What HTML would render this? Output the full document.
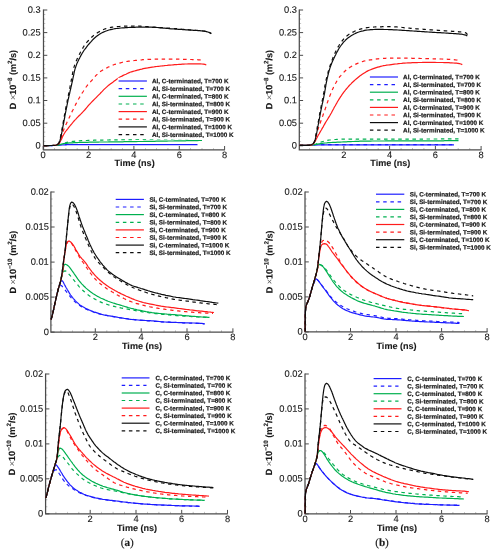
<!DOCTYPE html>
<html><head><meta charset="utf-8"><title>Diffusion coefficients</title>
<style>
html,body{margin:0;padding:0;background:#fff}
body{width:498px;height:550px;overflow:hidden}
svg{display:block}
text{font-family:"Liberation Sans",Arial,Helvetica,sans-serif;fill:#1a1a1a}
.tk{font-size:9.3px;fill:#161616;stroke:#161616;stroke-width:0.1px}
.lb{font-size:9.05px;font-weight:bold;stroke:#1a1a1a;stroke-width:0.12px}
.lg{font-size:6.32px;font-weight:bold;stroke:#1a1a1a;stroke-width:0.22px}
.sup{font-size:6.3px}
.x{font-weight:normal;fill:#555;stroke:none}
.cap{font-family:"Liberation Serif","Times New Roman",serif;font-size:11.2px;text-anchor:middle;fill:#1a1a1a;stroke:#1a1a1a;stroke-width:0.15px}
</style></head><body>
<svg width="498" height="550" viewBox="0 0 498 550">
<defs><filter id="soft" x="0" y="0" width="100%" height="100%"><feGaussianBlur stdDeviation="0.36"/></filter></defs>
<rect width="498" height="550" fill="#fff"/>
<g filter="url(#soft)">
<path d="M43.5 9.6 V149.8 H225.0" fill="none" stroke="#4c4c4c" stroke-width="1.25"/>
<line x1="43.2" y1="149.8" x2="43.2" y2="146.0" stroke="#4c4c4c" stroke-width="1"/>
<text x="43.2" y="158.0" class="tk" text-anchor="middle" transform="rotate(0.03 43.2 158.0)">0</text>
<line x1="88.6" y1="149.8" x2="88.6" y2="146.0" stroke="#4c4c4c" stroke-width="1"/>
<text x="88.6" y="158.0" class="tk" text-anchor="middle" transform="rotate(0.03 88.6 158.0)">2</text>
<line x1="133.9" y1="149.8" x2="133.9" y2="146.0" stroke="#4c4c4c" stroke-width="1"/>
<text x="133.9" y="158.0" class="tk" text-anchor="middle" transform="rotate(0.03 133.9 158.0)">4</text>
<line x1="179.3" y1="149.8" x2="179.3" y2="146.0" stroke="#4c4c4c" stroke-width="1"/>
<text x="179.3" y="158.0" class="tk" text-anchor="middle" transform="rotate(0.03 179.3 158.0)">6</text>
<line x1="224.6" y1="149.8" x2="224.6" y2="146.0" stroke="#4c4c4c" stroke-width="1"/>
<text x="224.6" y="158.0" class="tk" text-anchor="middle" transform="rotate(0.03 224.6 158.0)">8</text>
<line x1="43.5" y1="145.8" x2="47.3" y2="145.8" stroke="#4c4c4c" stroke-width="1"/>
<text x="40.6" y="148.6" class="tk" text-anchor="end" transform="rotate(0.03 40.6 148.6)">0</text>
<line x1="43.5" y1="123.2" x2="47.3" y2="123.2" stroke="#4c4c4c" stroke-width="1"/>
<text x="40.6" y="125.9" class="tk" text-anchor="end" transform="rotate(0.03 40.6 125.9)">0.05</text>
<line x1="43.5" y1="100.5" x2="47.3" y2="100.5" stroke="#4c4c4c" stroke-width="1"/>
<text x="40.6" y="103.3" class="tk" text-anchor="end" transform="rotate(0.03 40.6 103.3)">0.1</text>
<line x1="43.5" y1="77.9" x2="47.3" y2="77.9" stroke="#4c4c4c" stroke-width="1"/>
<text x="40.6" y="80.7" class="tk" text-anchor="end" transform="rotate(0.03 40.6 80.7)">0.15</text>
<line x1="43.5" y1="55.3" x2="47.3" y2="55.3" stroke="#4c4c4c" stroke-width="1"/>
<text x="40.6" y="58.0" class="tk" text-anchor="end" transform="rotate(0.03 40.6 58.0)">0.2</text>
<line x1="43.5" y1="32.6" x2="47.3" y2="32.6" stroke="#4c4c4c" stroke-width="1"/>
<text x="40.6" y="35.4" class="tk" text-anchor="end" transform="rotate(0.03 40.6 35.4)">0.25</text>
<line x1="43.5" y1="10.0" x2="47.3" y2="10.0" stroke="#4c4c4c" stroke-width="1"/>
<text x="40.6" y="12.8" class="tk" text-anchor="end" transform="rotate(0.03 40.6 12.8)">0.3</text>
<line x1="54.5" y1="149.8" x2="54.5" y2="148.0" stroke="#4c4c4c" stroke-width="0.6" opacity="0.6"/>
<line x1="65.9" y1="149.8" x2="65.9" y2="148.0" stroke="#4c4c4c" stroke-width="0.6" opacity="0.6"/>
<line x1="77.2" y1="149.8" x2="77.2" y2="148.0" stroke="#4c4c4c" stroke-width="0.6" opacity="0.6"/>
<line x1="99.9" y1="149.8" x2="99.9" y2="148.0" stroke="#4c4c4c" stroke-width="0.6" opacity="0.6"/>
<line x1="111.2" y1="149.8" x2="111.2" y2="148.0" stroke="#4c4c4c" stroke-width="0.6" opacity="0.6"/>
<line x1="122.6" y1="149.8" x2="122.6" y2="148.0" stroke="#4c4c4c" stroke-width="0.6" opacity="0.6"/>
<line x1="145.3" y1="149.8" x2="145.3" y2="148.0" stroke="#4c4c4c" stroke-width="0.6" opacity="0.6"/>
<line x1="156.6" y1="149.8" x2="156.6" y2="148.0" stroke="#4c4c4c" stroke-width="0.6" opacity="0.6"/>
<line x1="167.9" y1="149.8" x2="167.9" y2="148.0" stroke="#4c4c4c" stroke-width="0.6" opacity="0.6"/>
<line x1="190.6" y1="149.8" x2="190.6" y2="148.0" stroke="#4c4c4c" stroke-width="0.6" opacity="0.6"/>
<line x1="202.0" y1="149.8" x2="202.0" y2="148.0" stroke="#4c4c4c" stroke-width="0.6" opacity="0.6"/>
<line x1="213.3" y1="149.8" x2="213.3" y2="148.0" stroke="#4c4c4c" stroke-width="0.6" opacity="0.6"/>
<line x1="43.5" y1="141.3" x2="45.3" y2="141.3" stroke="#4c4c4c" stroke-width="0.6" opacity="0.6"/>
<line x1="43.5" y1="136.7" x2="45.3" y2="136.7" stroke="#4c4c4c" stroke-width="0.6" opacity="0.6"/>
<line x1="43.5" y1="132.2" x2="45.3" y2="132.2" stroke="#4c4c4c" stroke-width="0.6" opacity="0.6"/>
<line x1="43.5" y1="127.7" x2="45.3" y2="127.7" stroke="#4c4c4c" stroke-width="0.6" opacity="0.6"/>
<line x1="43.5" y1="118.6" x2="45.3" y2="118.6" stroke="#4c4c4c" stroke-width="0.6" opacity="0.6"/>
<line x1="43.5" y1="114.1" x2="45.3" y2="114.1" stroke="#4c4c4c" stroke-width="0.6" opacity="0.6"/>
<line x1="43.5" y1="109.6" x2="45.3" y2="109.6" stroke="#4c4c4c" stroke-width="0.6" opacity="0.6"/>
<line x1="43.5" y1="105.1" x2="45.3" y2="105.1" stroke="#4c4c4c" stroke-width="0.6" opacity="0.6"/>
<line x1="43.5" y1="96.0" x2="45.3" y2="96.0" stroke="#4c4c4c" stroke-width="0.6" opacity="0.6"/>
<line x1="43.5" y1="91.5" x2="45.3" y2="91.5" stroke="#4c4c4c" stroke-width="0.6" opacity="0.6"/>
<line x1="43.5" y1="87.0" x2="45.3" y2="87.0" stroke="#4c4c4c" stroke-width="0.6" opacity="0.6"/>
<line x1="43.5" y1="82.4" x2="45.3" y2="82.4" stroke="#4c4c4c" stroke-width="0.6" opacity="0.6"/>
<line x1="43.5" y1="73.4" x2="45.3" y2="73.4" stroke="#4c4c4c" stroke-width="0.6" opacity="0.6"/>
<line x1="43.5" y1="68.8" x2="45.3" y2="68.8" stroke="#4c4c4c" stroke-width="0.6" opacity="0.6"/>
<line x1="43.5" y1="64.3" x2="45.3" y2="64.3" stroke="#4c4c4c" stroke-width="0.6" opacity="0.6"/>
<line x1="43.5" y1="59.8" x2="45.3" y2="59.8" stroke="#4c4c4c" stroke-width="0.6" opacity="0.6"/>
<line x1="43.5" y1="50.7" x2="45.3" y2="50.7" stroke="#4c4c4c" stroke-width="0.6" opacity="0.6"/>
<line x1="43.5" y1="46.2" x2="45.3" y2="46.2" stroke="#4c4c4c" stroke-width="0.6" opacity="0.6"/>
<line x1="43.5" y1="41.7" x2="45.3" y2="41.7" stroke="#4c4c4c" stroke-width="0.6" opacity="0.6"/>
<line x1="43.5" y1="37.2" x2="45.3" y2="37.2" stroke="#4c4c4c" stroke-width="0.6" opacity="0.6"/>
<line x1="43.5" y1="28.1" x2="45.3" y2="28.1" stroke="#4c4c4c" stroke-width="0.6" opacity="0.6"/>
<line x1="43.5" y1="23.6" x2="45.3" y2="23.6" stroke="#4c4c4c" stroke-width="0.6" opacity="0.6"/>
<line x1="43.5" y1="19.1" x2="45.3" y2="19.1" stroke="#4c4c4c" stroke-width="0.6" opacity="0.6"/>
<line x1="43.5" y1="14.5" x2="45.3" y2="14.5" stroke="#4c4c4c" stroke-width="0.6" opacity="0.6"/>
<text x="114.6" y="166.0" class="lb" transform="rotate(0.03 114.6 166.0)">Time (ns)</text>
<text transform="translate(15.9 79.5) rotate(-90.03)" class="lb" text-anchor="middle">D <tspan class="x">×</tspan>10<tspan class="sup" dy="-4">−8</tspan><tspan dy="4"> (m</tspan><tspan class="sup" dy="-4">2</tspan><tspan dy="4">/s)</tspan></text>
<path d="M43.7 145.6 L45.2 145.6 L46.8 145.6 L48.3 145.6 L49.8 145.6 L51.3 145.6 L52.8 145.5 L54.4 145.5 L55.9 145.5 L57.4 145.4 L58.9 145.1 L60.4 145.0 L61.9 144.9 L63.5 144.8 L65.0 144.8 L66.5 144.7 L68.0 144.7 L69.6 144.7 L71.1 144.7 L72.6 144.7 L74.1 144.7 L75.6 144.7 L77.2 144.7 L78.7 144.7 L80.2 144.7 L81.7 144.7 L83.3 144.7 L84.8 144.7 L86.3 144.7 L87.8 144.7 L89.4 144.7 L90.9 144.7 L92.4 144.7 L93.9 144.7 L95.4 144.7 L97.0 144.7 L98.5 144.7 L100.0 144.7 L101.5 144.7 L103.1 144.7 L104.6 144.7 L106.1 144.7 L107.6 144.7 L109.2 144.7 L110.7 144.7 L112.2 144.7 L113.7 144.7 L115.3 144.7 L116.8 144.7 L118.3 144.7 L119.8 144.7 L121.3 144.7 L122.9 144.7 L124.4 144.7 L125.9 144.7 L127.4 144.7 L129.0 144.7 L130.5 144.7 L132.0 144.7 L133.5 144.7 L135.1 144.7 L136.6 144.7 L138.1 144.7 L139.6 144.7 L141.1 144.7 L142.7 144.7 L144.2 144.7 L145.7 144.7 L147.2 144.7 L148.8 144.7 L150.3 144.7 L151.8 144.7 L153.3 144.7 L154.9 144.7 L156.4 144.7 L157.9 144.7 L159.4 144.7 L160.9 144.7 L162.5 144.7 L164.0 144.7 L165.5 144.7 L167.0 144.7 L168.6 144.7 L170.1 144.7 L171.6 144.7 L173.1 144.7 L174.7 144.7 L176.2 144.7 L177.7 144.7 L179.2 144.7 L180.7 144.7 L182.3 144.7 L183.8 144.7 L185.3 144.7 L186.8 144.7 L188.4 144.7 L189.9 144.7 L191.4 144.7 L192.9 144.7 L194.5 144.7 L196.0 144.7 L197.5 144.7" fill="none" stroke="#1f1fff" stroke-width="1.20" stroke-linejoin="round"/>
<path d="M43.7 145.6 L44.9 145.6 L46.1 145.6 L47.3 145.6 M50.9 145.6 L52.1 145.6 L53.3 145.5 L54.3 145.5 M57.9 145.2 L59.1 145.0 L60.3 144.9 L61.5 144.8 M65.1 144.6 L66.3 144.6 L67.5 144.5 L68.5 144.5 M72.1 144.5 L73.3 144.5 L74.5 144.5 L75.7 144.5 M79.3 144.5 L80.5 144.5 L81.7 144.5 L82.7 144.5 M86.3 144.5 L87.5 144.5 L88.7 144.5 L89.9 144.5 M93.5 144.5 L94.7 144.5 L95.9 144.5 L96.9 144.5 M100.5 144.5 L101.7 144.5 L102.9 144.5 L103.9 144.5 M107.6 144.5 L108.8 144.5 L110.0 144.5 L111.2 144.5 M114.8 144.5 L116.0 144.5 L117.2 144.5 L118.2 144.5 M121.8 144.5 L123.0 144.5 L124.2 144.5 L125.4 144.5 M129.0 144.5 L130.2 144.5 L131.4 144.5 L132.4 144.5 M136.0 144.5 L137.2 144.5 L138.4 144.5 L139.6 144.5 M143.2 144.5 L144.4 144.5 L145.6 144.5 L146.6 144.5 M150.2 144.5 L151.4 144.5 L152.6 144.5 L153.8 144.5 M157.4 144.5 L158.6 144.5 L159.8 144.5 L160.8 144.5 M164.4 144.5 L165.6 144.5 L166.8 144.5 L167.9 144.5 M171.5 144.5 L172.7 144.5 L173.9 144.5 L175.1 144.5 M178.7 144.5 L179.9 144.5 L181.1 144.5 L182.1 144.5 M185.7 144.5 L186.9 144.5 L188.1 144.5 L189.3 144.5 M192.9 144.5 L194.1 144.5 L195.3 144.5 L196.3 144.5" fill="none" stroke="#1f1fff" stroke-width="1.20" stroke-linejoin="round"/>
<path d="M43.7 145.6 L45.2 145.6 L46.8 145.6 L48.3 145.6 L49.8 145.6 L51.4 145.5 L52.9 145.5 L54.4 145.5 L55.9 145.4 L57.4 145.2 L58.9 144.8 L60.4 144.5 L61.9 144.1 L63.3 143.7 L64.8 143.5 L66.3 143.3 L67.9 143.1 L69.4 142.9 L70.9 142.9 L72.4 142.8 L73.9 142.7 L75.5 142.6 L77.0 142.6 L78.5 142.5 L80.0 142.5 L81.6 142.4 L83.1 142.4 L84.6 142.3 L86.1 142.3 L87.7 142.3 L89.2 142.2 L90.7 142.2 L92.2 142.2 L93.8 142.1 L95.3 142.1 L96.8 142.1 L98.3 142.1 L99.9 142.0 L101.4 142.0 L102.9 142.0 L104.4 142.0 L106.0 142.0 L107.5 142.0 L109.0 141.9 L110.5 141.9 L112.1 141.9 L113.6 141.9 L115.1 141.9 L116.6 141.8 L118.2 141.8 L119.7 141.8 L121.2 141.8 L122.7 141.8 L124.3 141.7 L125.8 141.7 L127.3 141.7 L128.8 141.7 L130.3 141.6 L131.9 141.6 L133.4 141.6 L134.9 141.6 L136.4 141.6 L138.0 141.5 L139.5 141.5 L141.0 141.5 L142.5 141.5 L144.1 141.4 L145.6 141.4 L147.1 141.4 L148.6 141.4 L150.2 141.3 L151.7 141.3 L153.2 141.3 L154.7 141.3 L156.3 141.2 L157.8 141.2 L159.3 141.2 L160.8 141.2 L162.4 141.1 L163.9 141.1 L165.4 141.1 L166.9 141.1 L168.5 141.0 L170.0 141.0 L171.5 141.0 L173.0 141.0 L174.6 140.9 L176.1 140.9 L177.6 140.9 L179.1 140.9 L180.7 140.8 L182.2 140.8 L183.7 140.8 L185.2 140.8 L186.8 140.7 L188.3 140.7 L189.8 140.7 L191.3 140.7 L192.9 140.6 L194.4 140.6 L195.9 140.6 L197.4 140.6 L199.0 140.5 L200.5 140.5 L202.0 140.5" fill="none" stroke="#00b050" stroke-width="1.20" stroke-linejoin="round"/>
<path d="M43.7 145.6 L44.9 145.6 L46.1 145.6 L47.3 145.6 M50.9 145.5 L52.1 145.5 L53.3 145.5 L54.3 145.5 M57.9 145.1 L59.1 144.8 L60.2 144.5 L61.4 144.1 M64.8 143.0 L66.0 142.7 L67.1 142.4 L68.1 142.2 M71.7 141.6 L72.8 141.4 L74.0 141.3 L75.2 141.2 M78.8 140.9 L80.0 140.8 L81.2 140.7 L82.2 140.7 M85.8 140.5 L87.0 140.5 L88.2 140.4 L89.4 140.4 M93.0 140.3 L94.2 140.2 L95.4 140.2 L96.4 140.2 M100.1 140.1 L101.3 140.1 L102.5 140.1 L103.5 140.0 M107.1 140.0 L108.3 140.0 L109.5 139.9 L110.7 139.9 M114.3 139.9 L115.5 139.8 L116.7 139.8 L117.7 139.8 M121.3 139.7 L122.5 139.7 L123.7 139.7 L124.9 139.7 M128.5 139.6 L129.7 139.6 L130.9 139.6 L131.9 139.6 M135.5 139.5 L136.7 139.5 L137.9 139.4 L139.1 139.4 M142.7 139.3 L143.9 139.3 L145.1 139.3 L146.1 139.3 M149.7 139.2 L150.9 139.2 L152.1 139.1 L153.3 139.1 M156.9 139.0 L158.1 139.0 L159.3 139.0 L160.3 139.0 M163.9 138.9 L165.1 138.9 L166.3 138.9 L167.3 138.8 M171.0 138.8 L172.2 138.8 L173.4 138.7 L174.6 138.7 M178.2 138.7 L179.4 138.7 L180.6 138.6 L181.6 138.6 M185.2 138.6 L186.4 138.6 L187.6 138.6 L188.8 138.5 M192.4 138.5 L193.6 138.5 L194.8 138.5 L195.8 138.5 M199.4 138.4 L200.6 138.4 L201.8 138.4 L202.0 138.4" fill="none" stroke="#00b050" stroke-width="1.20" stroke-linejoin="round"/>
<path d="M43.7 145.6 L45.3 145.6 L46.8 145.6 L48.3 145.6 L49.8 145.5 L51.3 145.5 L52.8 145.5 L54.3 145.4 L55.8 145.3 L57.3 144.8 L58.5 144.1 L59.4 142.8 L60.2 141.6 L60.9 140.2 L61.6 138.9 L62.2 137.5 L62.9 136.1 L63.6 134.7 L64.3 133.5 L65.1 132.2 L66.0 131.0 L66.9 129.8 L67.9 128.6 L68.8 127.4 L69.8 126.2 L70.7 125.0 L71.7 123.9 L72.7 122.7 L73.6 121.5 L74.6 120.4 L75.7 119.3 L76.7 118.2 L77.7 117.1 L78.8 116.0 L79.9 115.0 L81.0 113.9 L82.0 112.8 L83.1 111.7 L84.1 110.6 L85.1 109.5 L86.1 108.3 L87.1 107.2 L88.0 106.0 L89.0 104.9 L90.0 103.8 L91.1 102.7 L92.1 101.6 L93.2 100.5 L94.3 99.4 L95.3 98.4 L96.4 97.3 L97.5 96.2 L98.5 95.2 L99.6 94.1 L100.6 93.0 L101.7 91.9 L102.7 90.8 L103.8 89.7 L104.9 88.6 L106.0 87.6 L107.1 86.6 L108.2 85.6 L109.4 84.7 L110.6 83.8 L111.8 82.9 L113.1 82.0 L114.3 81.1 L115.5 80.2 L116.7 79.3 L118.0 78.4 L119.2 77.6 L120.5 76.8 L121.9 76.1 L123.2 75.4 L124.6 74.8 L126.0 74.2 L127.3 73.5 L128.7 72.9 L130.1 72.3 L131.5 71.8 L133.0 71.4 L134.4 71.0 L135.9 70.6 L137.4 70.2 L138.8 69.8 L140.3 69.4 L141.8 69.1 L143.2 68.7 L144.7 68.4 L146.2 68.1 L147.7 67.9 L149.2 67.6 L150.7 67.4 L152.2 67.2 L153.7 67.0 L155.2 66.7 L156.7 66.5 L158.2 66.3 L159.7 66.2 L161.2 66.0 L162.7 65.8 L164.2 65.7 L165.7 65.5 L167.2 65.4 L168.7 65.2 L170.2 65.1 L171.7 65.0 L173.2 64.8 L174.7 64.7 L176.2 64.6 L177.7 64.5 L179.2 64.4 L180.7 64.3 L182.3 64.2 L183.8 64.1 L185.3 64.0 L186.8 64.0 L188.3 63.9 L189.8 63.9 L191.3 63.9 L192.8 63.9 L194.4 63.9 L195.9 63.9 L197.4 63.9 L198.9 63.9 L200.4 63.9 L201.9 64.0 L203.4 64.1 L204.9 64.4 L206.3 65.0" fill="none" stroke="#ff1a1a" stroke-width="1.20" stroke-linejoin="round"/>
<path d="M43.7 145.6 L44.9 145.6 L46.2 145.6 L47.2 145.6 M50.8 145.5 L52.0 145.5 L53.2 145.5 L54.3 145.4 M57.9 144.6 L58.7 143.9 L59.3 142.8 L59.8 141.7 M61.1 138.3 L61.4 137.2 L61.8 136.0 L62.1 135.0 M63.1 131.6 L63.5 130.4 L63.9 129.3 L64.3 128.4 M65.7 125.0 L66.2 124.0 L66.7 122.9 L67.2 121.8 M68.8 118.5 L69.3 117.4 L69.8 116.4 L70.3 115.5 M71.8 112.2 L72.3 111.1 L72.9 110.0 L73.4 108.9 M75.0 105.7 L75.5 104.7 L76.1 103.6 L76.6 102.7 M78.3 99.5 L78.9 98.5 L79.5 97.5 L80.0 96.6 M81.9 93.5 L82.5 92.5 L83.2 91.5 L83.8 90.5 M85.8 87.5 L86.5 86.5 L87.2 85.5 L87.9 84.7 M90.3 82.1 L91.1 81.2 L91.9 80.3 L92.7 79.4 M95.0 76.6 L95.8 75.7 L96.6 74.9 L97.4 74.2 M100.1 71.8 L101.1 71.1 L102.1 70.4 L103.1 69.8 M106.3 68.1 L107.4 67.6 L108.4 67.0 L109.4 66.6 M112.7 65.1 L113.8 64.7 L114.9 64.3 L115.9 64.1 M119.4 63.1 L120.5 62.8 L121.7 62.5 L122.9 62.2 M126.4 61.5 L127.6 61.3 L128.8 61.2 L129.8 61.1 M133.4 60.7 L134.5 60.5 L135.7 60.4 L136.9 60.3 M140.5 60.0 L141.7 59.9 L142.9 59.7 L143.9 59.7 M147.5 59.4 L148.7 59.3 L149.9 59.3 L151.1 59.3 M154.7 59.2 L155.9 59.2 L157.1 59.2 L158.1 59.2 M161.7 59.1 L162.9 59.1 L164.1 59.1 L165.1 59.1 M168.8 59.1 L170.0 59.1 L171.2 59.1 L172.4 59.1 M176.0 59.1 L177.2 59.2 L178.4 59.2 L179.4 59.2 M183.0 59.3 L184.2 59.3 L185.4 59.4 L186.6 59.4 M190.2 59.5 L191.4 59.5 L192.6 59.6 L193.6 59.6 M197.2 59.7 L198.4 59.8 L199.6 59.9 L200.8 60.0" fill="none" stroke="#ff1a1a" stroke-width="1.20" stroke-linejoin="round"/>
<path d="M43.7 145.6 L45.2 145.6 L46.8 145.6 L48.3 145.6 L49.8 145.5 L51.3 145.5 L52.8 145.4 L54.3 145.4 L55.8 145.1 L57.2 144.6 L58.5 143.7 L59.3 142.5 L59.8 141.2 L60.2 139.7 L60.6 138.2 L60.9 136.6 L61.3 135.1 L61.6 133.7 L61.9 132.2 L62.2 130.7 L62.5 129.2 L62.7 127.7 L63.0 126.2 L63.3 124.7 L63.6 123.2 L63.9 121.7 L64.1 120.3 L64.4 118.8 L64.7 117.3 L64.9 115.8 L65.2 114.3 L65.5 112.8 L65.8 111.3 L66.1 109.8 L66.4 108.3 L66.7 106.9 L67.0 105.4 L67.3 103.9 L67.6 102.4 L67.9 100.9 L68.2 99.4 L68.6 98.0 L68.9 96.5 L69.2 95.0 L69.6 93.5 L69.9 92.1 L70.2 90.6 L70.6 89.1 L70.9 87.6 L71.3 86.2 L71.6 84.7 L71.9 83.2 L72.3 81.7 L72.6 80.2 L72.9 78.7 L73.2 77.2 L73.5 75.8 L73.8 74.3 L74.1 72.8 L74.4 71.3 L74.8 69.9 L75.2 68.4 L75.7 67.0 L76.2 65.6 L76.7 64.1 L77.3 62.7 L78.0 61.3 L78.6 60.0 L79.3 58.6 L80.0 57.3 L80.7 55.9 L81.4 54.6 L82.2 53.3 L83.0 52.0 L83.8 50.7 L84.7 49.5 L85.6 48.3 L86.5 47.1 L87.4 45.9 L88.4 44.7 L89.4 43.5 L90.4 42.4 L91.4 41.3 L92.4 40.1 L93.5 39.0 L94.6 38.0 L95.7 37.0 L96.9 36.1 L98.1 35.2 L99.4 34.3 L100.7 33.5 L102.0 32.8 L103.4 32.1 L104.8 31.5 L106.2 31.0 L107.6 30.5 L109.0 30.0 L110.5 29.6 L112.0 29.3 L113.5 29.0 L115.0 28.7 L116.5 28.5 L118.0 28.3 L119.5 28.2 L121.0 28.0 L122.5 27.9 L124.0 27.8 L125.5 27.7 L127.0 27.6 L128.6 27.5 L130.1 27.4 L131.6 27.4 L133.1 27.3 L134.6 27.3 L136.1 27.2 L137.6 27.2 L139.2 27.2 L140.7 27.2 L142.2 27.2 L143.7 27.2 L145.2 27.2 L146.7 27.2 L148.2 27.2 L149.8 27.2 L151.3 27.2 L152.8 27.3 L154.3 27.3 L155.8 27.4 L157.3 27.5 L158.8 27.6 L160.3 27.8 L161.9 27.9 L163.4 28.1 L164.9 28.2 L166.4 28.4 L167.9 28.5 L169.4 28.6 L170.9 28.8 L172.4 28.9 L173.9 29.0 L175.4 29.1 L177.0 29.2 L178.5 29.3 L180.0 29.4 L181.5 29.5 L183.0 29.6 L184.5 29.7 L186.0 29.8 L187.5 29.9 L189.0 30.0 L190.6 30.1 L192.1 30.2 L193.6 30.3 L195.1 30.4 L196.6 30.5 L198.2 30.6 L199.7 30.7 L201.2 30.8 L202.7 31.0 L204.2 31.2 L205.6 31.4 L207.1 31.8 L208.6 32.3 L210.0 32.9 L211.3 33.6" fill="none" stroke="#111111" stroke-width="1.20" stroke-linejoin="round"/>
<path d="M43.7 145.6 L44.9 145.6 L46.1 145.6 L47.4 145.6 M51.0 145.5 L52.1 145.5 L53.3 145.4 L54.3 145.4 M57.7 144.2 L58.6 143.3 L59.1 142.3 L59.5 141.2 M60.3 137.6 L60.6 136.4 L60.8 135.2 L61.0 134.2 M61.7 130.7 L61.9 129.5 L62.1 128.3 L62.3 127.3 M63.0 123.8 L63.2 122.6 L63.4 121.4 L63.6 120.2 M64.2 116.7 L64.4 115.5 L64.6 114.3 L64.8 113.3 M65.5 109.8 L65.7 108.6 L65.9 107.4 L66.2 106.2 M66.9 102.7 L67.1 101.5 L67.3 100.4 L67.5 99.4 M68.3 95.8 L68.5 94.7 L68.7 93.5 L69.0 92.3 M69.7 88.8 L69.9 87.6 L70.1 86.4 L70.3 85.4 M71.0 81.9 L71.2 80.7 L71.5 79.5 L71.6 78.5 M72.3 75.0 L72.5 73.8 L72.7 72.6 L73.0 71.4 M73.8 67.9 L74.1 66.8 L74.5 65.6 L74.8 64.7 M76.1 61.3 L76.6 60.2 L77.1 59.1 L77.6 58.0 M79.2 54.8 L79.7 53.7 L80.3 52.6 L80.7 51.7 M82.5 48.6 L83.1 47.5 L83.7 46.5 L84.3 45.7 M86.4 42.8 L87.2 41.9 L88.0 41.0 L88.8 40.1 M91.3 37.5 L92.2 36.7 L93.1 35.9 L93.9 35.3 M96.8 33.2 L97.8 32.5 L98.9 31.9 L99.9 31.3 M103.0 29.7 L104.1 29.3 L105.2 28.9 L106.3 28.5 M109.9 27.6 L111.1 27.4 L112.2 27.2 L113.2 27.1 M116.8 26.7 L118.0 26.5 L119.2 26.5 L120.4 26.4 M124.0 26.2 L125.2 26.2 L126.4 26.2 L127.4 26.1 M131.0 26.1 L132.2 26.1 L133.4 26.1 L134.6 26.1 M138.2 26.2 L139.4 26.2 L140.6 26.2 L141.6 26.3 M145.2 26.5 L146.4 26.6 L147.6 26.7 L148.8 26.8 M152.4 27.1 L153.6 27.1 L154.8 27.2 L155.8 27.3 M159.4 27.5 L160.6 27.6 L161.8 27.6 L162.8 27.7 M166.4 27.9 L167.6 28.0 L168.8 28.1 L170.0 28.2 M173.6 28.5 L174.8 28.6 L176.0 28.7 L177.0 28.7 M180.6 29.0 L181.8 29.2 L183.0 29.3 L184.2 29.4 M187.8 29.7 L189.0 29.8 L190.2 29.9 L191.2 30.0 M194.8 30.3 L196.0 30.3 L197.2 30.4 L198.4 30.5 M202.0 30.9 L203.2 31.0 L204.3 31.2 L205.3 31.4 M208.8 32.3 L209.9 32.8 L211.0 33.4 L211.3 33.6" fill="none" stroke="#111111" stroke-width="1.20" stroke-linejoin="round"/>
<rect x="117.8" y="77.8" width="121.4" height="61.4" fill="#fff"/>
<line x1="118.6" y1="81.0" x2="146.9" y2="81.0" stroke="#1f1fff" stroke-width="1.2"/>
<text x="152.0" y="83.3" class="lg" transform="rotate(0.03 152.0 83.3)">Al, C-terminated, T=700 K</text>
<line x1="118.6" y1="88.7" x2="143.9" y2="88.7" stroke="#1f1fff" stroke-width="1.2" stroke-dasharray="3.5 3.7"/>
<text x="152.0" y="91.0" class="lg" transform="rotate(0.03 152.0 91.0)">Al, Si-terminated, T=700 K</text>
<line x1="118.6" y1="96.3" x2="146.9" y2="96.3" stroke="#00b050" stroke-width="1.2"/>
<text x="152.0" y="98.6" class="lg" transform="rotate(0.03 152.0 98.6)">Al, C-terminated, T=800 K</text>
<line x1="118.6" y1="104.0" x2="143.9" y2="104.0" stroke="#00b050" stroke-width="1.2" stroke-dasharray="3.5 3.7"/>
<text x="152.0" y="106.2" class="lg" transform="rotate(0.03 152.0 106.2)">Al, Si-terminated, T=800 K</text>
<line x1="118.6" y1="111.6" x2="146.9" y2="111.6" stroke="#ff1a1a" stroke-width="1.2"/>
<text x="152.0" y="113.9" class="lg" transform="rotate(0.03 152.0 113.9)">Al, C-terminated, T=900 K</text>
<line x1="118.6" y1="119.2" x2="143.9" y2="119.2" stroke="#ff1a1a" stroke-width="1.2" stroke-dasharray="3.5 3.7"/>
<text x="152.0" y="121.5" class="lg" transform="rotate(0.03 152.0 121.5)">Al, Si-terminated, T=900 K</text>
<line x1="118.6" y1="126.9" x2="146.9" y2="126.9" stroke="#111111" stroke-width="1.2"/>
<text x="152.0" y="129.2" class="lg" transform="rotate(0.03 152.0 129.2)">Al, C-terminated, T=1000 K</text>
<line x1="118.6" y1="134.6" x2="143.9" y2="134.6" stroke="#111111" stroke-width="1.2" stroke-dasharray="3.5 3.7"/>
<text x="152.0" y="136.9" class="lg" transform="rotate(0.03 152.0 136.9)">Al, Si-terminated, T=1000 K</text>
<path d="M299.3 9.6 V149.8 H481.5" fill="none" stroke="#4c4c4c" stroke-width="1.25"/>
<line x1="343.9" y1="149.8" x2="343.9" y2="146.0" stroke="#4c4c4c" stroke-width="1"/>
<text x="343.9" y="158.0" class="tk" text-anchor="middle" transform="rotate(0.03 343.9 158.0)">2</text>
<line x1="389.6" y1="149.8" x2="389.6" y2="146.0" stroke="#4c4c4c" stroke-width="1"/>
<text x="389.6" y="158.0" class="tk" text-anchor="middle" transform="rotate(0.03 389.6 158.0)">4</text>
<line x1="435.4" y1="149.8" x2="435.4" y2="146.0" stroke="#4c4c4c" stroke-width="1"/>
<text x="435.4" y="158.0" class="tk" text-anchor="middle" transform="rotate(0.03 435.4 158.0)">6</text>
<line x1="481.1" y1="149.8" x2="481.1" y2="146.0" stroke="#4c4c4c" stroke-width="1"/>
<text x="481.1" y="158.0" class="tk" text-anchor="middle" transform="rotate(0.03 481.1 158.0)">8</text>
<line x1="299.3" y1="145.8" x2="303.1" y2="145.8" stroke="#4c4c4c" stroke-width="1"/>
<text x="297.0" y="148.6" class="tk" text-anchor="end" transform="rotate(0.03 297.0 148.6)">0</text>
<line x1="299.3" y1="123.2" x2="303.1" y2="123.2" stroke="#4c4c4c" stroke-width="1"/>
<text x="297.0" y="125.9" class="tk" text-anchor="end" transform="rotate(0.03 297.0 125.9)">0.05</text>
<line x1="299.3" y1="100.5" x2="303.1" y2="100.5" stroke="#4c4c4c" stroke-width="1"/>
<text x="297.0" y="103.3" class="tk" text-anchor="end" transform="rotate(0.03 297.0 103.3)">0.1</text>
<line x1="299.3" y1="77.9" x2="303.1" y2="77.9" stroke="#4c4c4c" stroke-width="1"/>
<text x="297.0" y="80.7" class="tk" text-anchor="end" transform="rotate(0.03 297.0 80.7)">0.15</text>
<line x1="299.3" y1="55.3" x2="303.1" y2="55.3" stroke="#4c4c4c" stroke-width="1"/>
<text x="297.0" y="58.0" class="tk" text-anchor="end" transform="rotate(0.03 297.0 58.0)">0.2</text>
<line x1="299.3" y1="32.6" x2="303.1" y2="32.6" stroke="#4c4c4c" stroke-width="1"/>
<text x="297.0" y="35.4" class="tk" text-anchor="end" transform="rotate(0.03 297.0 35.4)">0.25</text>
<line x1="299.3" y1="10.0" x2="303.1" y2="10.0" stroke="#4c4c4c" stroke-width="1"/>
<text x="297.0" y="12.8" class="tk" text-anchor="end" transform="rotate(0.03 297.0 12.8)">0.3</text>
<line x1="309.6" y1="149.8" x2="309.6" y2="148.0" stroke="#4c4c4c" stroke-width="0.6" opacity="0.6"/>
<line x1="321.0" y1="149.8" x2="321.0" y2="148.0" stroke="#4c4c4c" stroke-width="0.6" opacity="0.6"/>
<line x1="332.5" y1="149.8" x2="332.5" y2="148.0" stroke="#4c4c4c" stroke-width="0.6" opacity="0.6"/>
<line x1="355.3" y1="149.8" x2="355.3" y2="148.0" stroke="#4c4c4c" stroke-width="0.6" opacity="0.6"/>
<line x1="366.8" y1="149.8" x2="366.8" y2="148.0" stroke="#4c4c4c" stroke-width="0.6" opacity="0.6"/>
<line x1="378.2" y1="149.8" x2="378.2" y2="148.0" stroke="#4c4c4c" stroke-width="0.6" opacity="0.6"/>
<line x1="401.1" y1="149.8" x2="401.1" y2="148.0" stroke="#4c4c4c" stroke-width="0.6" opacity="0.6"/>
<line x1="412.5" y1="149.8" x2="412.5" y2="148.0" stroke="#4c4c4c" stroke-width="0.6" opacity="0.6"/>
<line x1="423.9" y1="149.8" x2="423.9" y2="148.0" stroke="#4c4c4c" stroke-width="0.6" opacity="0.6"/>
<line x1="446.8" y1="149.8" x2="446.8" y2="148.0" stroke="#4c4c4c" stroke-width="0.6" opacity="0.6"/>
<line x1="458.2" y1="149.8" x2="458.2" y2="148.0" stroke="#4c4c4c" stroke-width="0.6" opacity="0.6"/>
<line x1="469.7" y1="149.8" x2="469.7" y2="148.0" stroke="#4c4c4c" stroke-width="0.6" opacity="0.6"/>
<line x1="299.3" y1="141.3" x2="301.1" y2="141.3" stroke="#4c4c4c" stroke-width="0.6" opacity="0.6"/>
<line x1="299.3" y1="136.7" x2="301.1" y2="136.7" stroke="#4c4c4c" stroke-width="0.6" opacity="0.6"/>
<line x1="299.3" y1="132.2" x2="301.1" y2="132.2" stroke="#4c4c4c" stroke-width="0.6" opacity="0.6"/>
<line x1="299.3" y1="127.7" x2="301.1" y2="127.7" stroke="#4c4c4c" stroke-width="0.6" opacity="0.6"/>
<line x1="299.3" y1="118.6" x2="301.1" y2="118.6" stroke="#4c4c4c" stroke-width="0.6" opacity="0.6"/>
<line x1="299.3" y1="114.1" x2="301.1" y2="114.1" stroke="#4c4c4c" stroke-width="0.6" opacity="0.6"/>
<line x1="299.3" y1="109.6" x2="301.1" y2="109.6" stroke="#4c4c4c" stroke-width="0.6" opacity="0.6"/>
<line x1="299.3" y1="105.1" x2="301.1" y2="105.1" stroke="#4c4c4c" stroke-width="0.6" opacity="0.6"/>
<line x1="299.3" y1="96.0" x2="301.1" y2="96.0" stroke="#4c4c4c" stroke-width="0.6" opacity="0.6"/>
<line x1="299.3" y1="91.5" x2="301.1" y2="91.5" stroke="#4c4c4c" stroke-width="0.6" opacity="0.6"/>
<line x1="299.3" y1="87.0" x2="301.1" y2="87.0" stroke="#4c4c4c" stroke-width="0.6" opacity="0.6"/>
<line x1="299.3" y1="82.4" x2="301.1" y2="82.4" stroke="#4c4c4c" stroke-width="0.6" opacity="0.6"/>
<line x1="299.3" y1="73.4" x2="301.1" y2="73.4" stroke="#4c4c4c" stroke-width="0.6" opacity="0.6"/>
<line x1="299.3" y1="68.8" x2="301.1" y2="68.8" stroke="#4c4c4c" stroke-width="0.6" opacity="0.6"/>
<line x1="299.3" y1="64.3" x2="301.1" y2="64.3" stroke="#4c4c4c" stroke-width="0.6" opacity="0.6"/>
<line x1="299.3" y1="59.8" x2="301.1" y2="59.8" stroke="#4c4c4c" stroke-width="0.6" opacity="0.6"/>
<line x1="299.3" y1="50.7" x2="301.1" y2="50.7" stroke="#4c4c4c" stroke-width="0.6" opacity="0.6"/>
<line x1="299.3" y1="46.2" x2="301.1" y2="46.2" stroke="#4c4c4c" stroke-width="0.6" opacity="0.6"/>
<line x1="299.3" y1="41.7" x2="301.1" y2="41.7" stroke="#4c4c4c" stroke-width="0.6" opacity="0.6"/>
<line x1="299.3" y1="37.2" x2="301.1" y2="37.2" stroke="#4c4c4c" stroke-width="0.6" opacity="0.6"/>
<line x1="299.3" y1="28.1" x2="301.1" y2="28.1" stroke="#4c4c4c" stroke-width="0.6" opacity="0.6"/>
<line x1="299.3" y1="23.6" x2="301.1" y2="23.6" stroke="#4c4c4c" stroke-width="0.6" opacity="0.6"/>
<line x1="299.3" y1="19.1" x2="301.1" y2="19.1" stroke="#4c4c4c" stroke-width="0.6" opacity="0.6"/>
<line x1="299.3" y1="14.5" x2="301.1" y2="14.5" stroke="#4c4c4c" stroke-width="0.6" opacity="0.6"/>
<text x="370.3" y="166.0" class="lb" transform="rotate(0.03 370.3 166.0)">Time (ns)</text>
<text transform="translate(272.3 79.5) rotate(-90.03)" class="lb" text-anchor="middle">D <tspan class="x">×</tspan>10<tspan class="sup" dy="-4">−8</tspan><tspan dy="4"> (m</tspan><tspan class="sup" dy="-4">2</tspan><tspan dy="4">/s)</tspan></text>
<path d="M299.6 145.4 L301.1 145.4 L302.7 145.4 L304.2 145.4 L305.7 145.4 L307.3 145.4 L308.8 145.3 L310.3 145.3 L311.8 145.3 L313.4 145.2 L314.9 144.9 L316.4 144.8 L317.9 144.8 L319.4 144.8 L321.0 144.8 L322.5 144.9 L324.0 144.9 L325.6 144.9 L327.1 144.9 L328.6 144.9 L330.1 144.9 L331.7 144.9 L333.2 144.9 L334.7 144.9 L336.3 144.9 L337.8 144.9 L339.3 144.9 L340.9 144.9 L342.4 144.9 L343.9 144.9 L345.4 144.9 L347.0 144.9 L348.5 144.9 L350.0 144.9 L351.6 144.9 L353.1 144.9 L354.6 144.9 L356.1 144.9 L357.7 144.9 L359.2 144.9 L360.7 144.9 L362.3 144.9 L363.8 144.9 L365.3 144.9 L366.8 144.9 L368.4 144.9 L369.9 144.9 L371.4 144.9 L373.0 144.9 L374.5 144.9 L376.0 144.9 L377.5 144.9 L379.1 144.9 L380.6 144.9 L382.1 144.9 L383.7 144.9 L385.2 144.9 L386.7 144.9 L388.3 144.9 L389.8 144.9 L391.3 144.9 L392.8 144.9 L394.4 144.9 L395.9 144.9 L397.4 144.9 L399.0 144.9 L400.5 144.9 L402.0 144.9 L403.5 144.9 L405.1 144.9 L406.6 144.9 L408.1 144.9 L409.7 144.9 L411.2 144.9 L412.7 144.9 L414.2 144.9 L415.8 144.9 L417.3 144.9 L418.8 144.9 L420.4 144.9 L421.9 144.9 L423.4 144.9 L424.9 144.9 L426.5 144.9 L428.0 144.9 L429.5 144.9 L431.1 144.9 L432.6 144.9 L434.1 144.9 L435.7 144.9 L437.2 144.9 L438.7 144.9 L440.2 144.9 L441.8 144.9 L443.3 144.9 L444.8 144.9 L446.4 144.9 L447.9 144.9 L449.4 144.9 L450.9 144.9 L452.5 144.9 L454.0 144.9" fill="none" stroke="#1f1fff" stroke-width="1.20" stroke-linejoin="round"/>
<path d="M299.6 145.4 L300.8 145.4 L302.0 145.4 L303.2 145.4 M306.8 145.4 L308.0 145.4 L309.2 145.3 L310.2 145.3 M313.8 145.0 L315.0 144.8 L316.2 144.7 L317.4 144.7 M321.0 144.7 L322.2 144.7 L323.4 144.7 L324.4 144.7 M328.0 144.7 L329.2 144.7 L330.4 144.7 L331.6 144.7 M335.2 144.7 L336.4 144.7 L337.6 144.7 L338.6 144.7 M342.2 144.7 L343.4 144.7 L344.6 144.7 L345.8 144.7 M349.4 144.7 L350.6 144.7 L351.8 144.7 L352.8 144.7 M356.4 144.7 L357.6 144.7 L358.8 144.7 L359.9 144.7 M363.5 144.7 L364.7 144.7 L365.9 144.7 L367.1 144.7 M370.7 144.7 L371.9 144.7 L373.1 144.7 L374.1 144.7 M377.7 144.7 L378.9 144.7 L380.1 144.7 L381.3 144.7 M384.9 144.7 L386.1 144.7 L387.3 144.7 L388.3 144.7 M391.9 144.7 L393.1 144.7 L394.3 144.7 L395.5 144.7 M399.1 144.7 L400.3 144.7 L401.5 144.7 L402.5 144.7 M406.1 144.7 L407.3 144.7 L408.5 144.7 L409.7 144.7 M413.3 144.7 L414.5 144.7 L415.7 144.7 L416.7 144.7 M420.3 144.7 L421.5 144.7 L422.8 144.7 L423.8 144.7 M427.4 144.7 L428.6 144.7 L429.8 144.7 L431.0 144.7 M434.6 144.7 L435.8 144.7 L437.0 144.7 L438.0 144.7 M441.6 144.7 L442.8 144.7 L444.0 144.7 L445.2 144.7 M448.8 144.7 L450.0 144.7 L451.2 144.7 L452.2 144.7" fill="none" stroke="#1f1fff" stroke-width="1.20" stroke-linejoin="round"/>
<path d="M299.6 145.4 L301.1 145.4 L302.7 145.4 L304.2 145.4 L305.7 145.4 L307.2 145.4 L308.7 145.3 L310.2 145.3 L311.7 145.2 L313.2 145.0 L314.7 144.7 L316.2 144.4 L317.7 144.1 L319.2 143.8 L320.7 143.6 L322.2 143.4 L323.7 143.2 L325.2 143.0 L326.7 142.9 L328.2 142.7 L329.7 142.6 L331.2 142.5 L332.7 142.4 L334.2 142.3 L335.8 142.3 L337.3 142.2 L338.8 142.1 L340.3 142.1 L341.8 142.0 L343.3 141.9 L344.8 141.9 L346.4 141.8 L347.9 141.7 L349.4 141.7 L350.9 141.6 L352.4 141.5 L353.9 141.5 L355.4 141.4 L357.0 141.3 L358.5 141.3 L360.0 141.2 L361.5 141.2 L363.0 141.2 L364.5 141.1 L366.0 141.1 L367.6 141.1 L369.1 141.1 L370.6 141.1 L372.1 141.0 L373.6 141.0 L375.1 141.0 L376.7 141.0 L378.2 141.0 L379.7 141.0 L381.2 141.0 L382.7 141.0 L384.2 141.0 L385.8 140.9 L387.3 140.9 L388.8 140.9 L390.3 140.9 L391.8 140.9 L393.3 140.9 L394.8 140.9 L396.4 140.9 L397.9 140.9 L399.4 140.9 L400.9 140.9 L402.4 140.9 L403.9 140.9 L405.5 140.9 L407.0 140.9 L408.5 140.9 L410.0 140.9 L411.5 140.8 L413.0 140.8 L414.5 140.8 L416.1 140.8 L417.6 140.8 L419.1 140.8 L420.6 140.8 L422.1 140.8 L423.6 140.8 L425.2 140.8 L426.7 140.8 L428.2 140.8 L429.7 140.8 L431.2 140.8 L432.7 140.8 L434.3 140.8 L435.8 140.8 L437.3 140.8 L438.8 140.8 L440.3 140.8 L441.8 140.8 L443.3 140.8 L444.9 140.7 L446.4 140.7 L447.9 140.7 L449.4 140.7 L450.9 140.7 L452.4 140.7 L454.0 140.7 L455.5 140.7 L457.0 140.7 L458.5 140.7" fill="none" stroke="#00b050" stroke-width="1.20" stroke-linejoin="round"/>
<path d="M299.6 145.4 L300.8 145.4 L302.0 145.4 L303.2 145.4 M306.8 145.4 L308.0 145.3 L309.2 145.3 L310.2 145.3 M313.8 144.8 L314.9 144.5 L316.1 144.0 L317.2 143.5 M320.5 142.2 L321.7 141.8 L322.8 141.5 L323.8 141.3 M327.3 140.4 L328.5 140.2 L329.7 140.0 L330.7 139.8 M334.4 139.5 L335.6 139.5 L336.8 139.4 L337.8 139.3 M341.5 139.2 L342.7 139.1 L343.9 139.1 L344.9 139.1 M348.5 139.1 L349.7 139.1 L350.9 139.1 L352.1 139.1 M355.7 139.1 L356.9 139.2 L358.1 139.2 L359.1 139.2 M362.7 139.2 L363.9 139.2 L365.1 139.2 L366.3 139.2 M369.9 139.2 L371.1 139.2 L372.3 139.2 L373.3 139.2 M376.9 139.2 L378.1 139.2 L379.3 139.2 L380.3 139.2 M384.0 139.2 L385.2 139.2 L386.4 139.2 L387.6 139.2 M391.2 139.2 L392.4 139.2 L393.6 139.2 L394.6 139.2 M398.2 139.2 L399.4 139.2 L400.6 139.2 L401.8 139.2 M405.4 139.2 L406.6 139.2 L407.8 139.2 L408.8 139.2 M412.4 139.1 L413.6 139.1 L414.8 139.1 L416.0 139.1 M419.6 139.1 L420.8 139.1 L422.0 139.1 L423.0 139.1 M426.6 139.0 L427.8 139.0 L429.0 139.0 L430.0 139.0 M433.7 139.0 L434.9 139.0 L436.1 139.0 L437.3 139.0 M440.9 138.9 L442.1 138.9 L443.3 138.9 L444.3 138.9 M447.9 138.9 L449.1 138.9 L450.3 138.9 L451.5 138.9 M455.1 138.8 L456.3 138.8 L457.5 138.8 L458.5 138.8" fill="none" stroke="#00b050" stroke-width="1.20" stroke-linejoin="round"/>
<path d="M299.6 145.4 L301.2 145.4 L302.7 145.4 L304.3 145.4 L305.8 145.4 L307.3 145.4 L308.8 145.3 L310.2 145.3 L311.7 144.9 L313.1 144.2 L314.0 143.0 L314.8 141.7 L315.6 140.4 L316.3 139.0 L317.0 137.7 L317.7 136.3 L318.4 135.0 L319.2 133.7 L319.9 132.4 L320.7 131.0 L321.5 129.7 L322.2 128.4 L323.0 127.1 L323.7 125.8 L324.5 124.4 L325.2 123.1 L326.0 121.8 L326.8 120.5 L327.6 119.2 L328.4 117.9 L329.2 116.6 L330.0 115.3 L330.7 114.0 L331.5 112.7 L332.2 111.3 L332.9 110.0 L333.6 108.7 L334.3 107.3 L335.1 106.0 L335.8 104.7 L336.6 103.4 L337.3 102.0 L338.1 100.7 L338.9 99.4 L339.7 98.2 L340.5 96.9 L341.4 95.6 L342.2 94.3 L343.1 93.1 L344.0 91.9 L345.0 90.7 L345.9 89.5 L346.9 88.3 L347.9 87.2 L348.9 86.0 L349.9 84.9 L351.0 83.8 L352.0 82.7 L353.1 81.7 L354.2 80.7 L355.4 79.6 L356.5 78.7 L357.7 77.7 L358.9 76.7 L360.1 75.8 L361.3 75.0 L362.6 74.1 L363.9 73.2 L365.2 72.4 L366.5 71.6 L367.8 70.9 L369.2 70.3 L370.6 69.7 L372.0 69.1 L373.4 68.6 L374.8 68.1 L376.3 67.6 L377.7 67.2 L379.2 66.8 L380.7 66.4 L382.2 66.0 L383.7 65.7 L385.2 65.5 L386.6 65.2 L388.2 65.0 L389.7 64.8 L391.2 64.6 L392.7 64.4 L394.2 64.2 L395.7 64.0 L397.2 63.9 L398.7 63.7 L400.2 63.5 L401.7 63.4 L403.3 63.2 L404.8 63.1 L406.3 63.0 L407.8 62.9 L409.3 62.8 L410.8 62.8 L412.4 62.7 L413.9 62.7 L415.4 62.6 L416.9 62.6 L418.4 62.5 L420.0 62.5 L421.5 62.5 L423.0 62.4 L424.5 62.4 L426.0 62.4 L427.5 62.4 L429.1 62.4 L430.6 62.4 L432.1 62.4 L433.6 62.4 L435.1 62.4 L436.7 62.5 L438.2 62.5 L439.7 62.5 L441.2 62.5 L442.7 62.5 L444.3 62.6 L445.8 62.6 L447.3 62.6 L448.8 62.7 L450.3 62.8 L451.9 62.8 L453.4 63.0 L454.9 63.1 L456.4 63.2 L457.9 63.4 L459.4 63.7 L460.9 64.0 L462.3 64.6" fill="none" stroke="#ff1a1a" stroke-width="1.20" stroke-linejoin="round"/>
<path d="M299.6 145.4 L300.8 145.4 L302.1 145.4 L303.1 145.4 M306.9 145.4 L308.1 145.3 L309.2 145.3 L310.2 145.3 M313.5 143.6 L314.1 142.5 L314.6 141.4 L315.0 140.5 M316.0 137.1 L316.3 135.9 L316.6 134.7 L316.9 133.8 M317.8 130.2 L318.1 129.1 L318.5 127.9 L318.8 127.0 M320.0 123.6 L320.4 122.5 L320.8 121.3 L321.2 120.2 M322.4 116.8 L322.8 115.7 L323.2 114.5 L323.6 113.6 M324.8 110.2 L325.2 109.1 L325.6 107.9 L326.0 106.8 M327.1 103.4 L327.5 102.3 L327.9 101.1 L328.3 100.2 M329.5 96.8 L329.9 95.7 L330.4 94.5 L330.8 93.4 M332.2 90.1 L332.7 89.0 L333.2 87.9 L333.6 87.0 M335.3 83.8 L335.9 82.8 L336.5 81.7 L337.0 80.8 M339.1 77.7 L339.8 76.7 L340.6 75.8 L341.2 75.0 M343.7 72.3 L344.5 71.5 L345.4 70.7 L346.2 70.1 M349.0 67.9 L350.0 67.2 L351.1 66.6 L352.1 66.0 M355.3 64.4 L356.4 63.9 L357.5 63.4 L358.5 63.0 M361.9 61.7 L363.0 61.4 L364.1 61.0 L365.3 60.8 M368.8 60.1 L370.0 59.9 L371.2 59.8 L372.2 59.6 M375.8 59.1 L377.0 58.9 L378.2 58.8 L379.2 58.7 M383.0 58.4 L384.2 58.3 L385.4 58.3 L386.4 58.2 M390.0 58.2 L391.2 58.2 L392.4 58.2 L393.4 58.2 M397.0 58.2 L398.2 58.2 L399.4 58.2 L400.6 58.2 M404.2 58.2 L405.4 58.2 L406.6 58.2 L407.6 58.2 M411.2 58.2 L412.4 58.3 L413.6 58.3 L414.8 58.3 M418.4 58.4 L419.6 58.4 L420.8 58.5 L421.8 58.5 M425.4 58.6 L426.6 58.6 L427.8 58.6 L429.0 58.7 M432.6 58.8 L433.8 58.8 L435.0 58.8 L436.0 58.8 M439.6 58.9 L440.8 59.0 L442.0 59.0 L443.2 59.1 M446.8 59.2 L448.0 59.3 L449.2 59.4 L450.2 59.4 M453.8 59.7 L455.0 59.8 L456.2 60.0 L457.4 60.2" fill="none" stroke="#ff1a1a" stroke-width="1.20" stroke-linejoin="round"/>
<path d="M299.6 145.4 L301.1 145.4 L302.7 145.4 L304.2 145.4 L305.7 145.3 L307.2 145.3 L308.7 145.3 L310.2 145.0 L311.6 144.6 L313.0 143.8 L314.1 142.7 L314.7 141.5 L315.1 140.1 L315.5 138.5 L315.8 137.0 L316.1 135.4 L316.5 134.0 L316.8 132.5 L317.1 131.0 L317.4 129.5 L317.6 128.0 L317.9 126.5 L318.2 125.0 L318.5 123.5 L318.8 122.1 L319.0 120.6 L319.3 119.1 L319.6 117.6 L319.9 116.1 L320.1 114.6 L320.4 113.1 L320.7 111.6 L321.0 110.1 L321.3 108.6 L321.6 107.2 L321.9 105.7 L322.2 104.2 L322.6 102.7 L322.9 101.2 L323.2 99.8 L323.5 98.3 L323.8 96.8 L324.1 95.3 L324.4 93.8 L324.7 92.3 L324.9 90.8 L325.2 89.3 L325.4 87.8 L325.7 86.3 L325.9 84.9 L326.2 83.4 L326.5 81.9 L326.8 80.4 L327.1 78.9 L327.5 77.4 L327.8 75.9 L328.2 74.5 L328.5 73.0 L328.9 71.5 L329.3 70.1 L329.8 68.6 L330.2 67.2 L330.7 65.8 L331.3 64.4 L331.8 62.9 L332.4 61.5 L333.0 60.2 L333.7 58.8 L334.3 57.4 L335.0 56.0 L335.7 54.7 L336.3 53.3 L337.0 52.0 L337.8 50.6 L338.5 49.3 L339.3 48.0 L340.1 46.7 L341.0 45.5 L341.9 44.3 L342.8 43.1 L343.8 41.9 L344.9 40.8 L345.9 39.7 L347.0 38.7 L348.2 37.8 L349.4 36.9 L350.7 36.0 L352.0 35.2 L353.3 34.5 L354.7 33.8 L356.0 33.1 L357.4 32.5 L358.9 32.0 L360.3 31.5 L361.7 31.1 L363.2 30.8 L364.7 30.4 L366.2 30.2 L367.7 30.0 L369.2 29.8 L370.7 29.7 L372.2 29.6 L373.8 29.5 L375.3 29.4 L376.8 29.4 L378.3 29.4 L379.8 29.4 L381.3 29.4 L382.9 29.4 L384.4 29.5 L385.9 29.5 L387.4 29.5 L388.9 29.6 L390.4 29.6 L391.9 29.7 L393.5 29.8 L395.0 29.8 L396.5 29.9 L398.0 30.0 L399.5 30.1 L401.0 30.2 L402.5 30.3 L404.0 30.4 L405.6 30.5 L407.1 30.6 L408.6 30.7 L410.1 30.8 L411.6 30.9 L413.1 31.0 L414.6 31.1 L416.1 31.2 L417.7 31.3 L419.2 31.4 L420.7 31.5 L422.2 31.6 L423.7 31.7 L425.2 31.8 L426.7 31.9 L428.2 32.0 L429.8 32.1 L431.3 32.2 L432.8 32.3 L434.3 32.4 L435.8 32.5 L437.3 32.6 L438.8 32.6 L440.3 32.7 L441.9 32.8 L443.4 32.9 L444.9 33.0 L446.4 33.1 L447.9 33.2 L449.4 33.3 L450.9 33.4 L452.5 33.5 L454.0 33.6 L455.5 33.7 L457.0 33.8 L458.5 33.9 L460.0 34.1 L461.5 34.2 L463.0 34.5 L464.5 34.8 L465.9 35.2 L467.3 35.9" fill="none" stroke="#111111" stroke-width="1.20" stroke-linejoin="round"/>
<path d="M299.6 145.4 L300.8 145.4 L302.0 145.4 L303.2 145.4 M306.8 145.3 L308.0 145.3 L309.2 145.2 L310.2 144.9 M313.4 143.2 L314.0 142.3 L314.4 141.3 L314.8 140.2 M315.5 136.4 L315.8 135.2 L316.0 134.1 L316.2 133.1 M316.9 129.5 L317.1 128.4 L317.3 127.2 L317.5 126.2 M318.1 122.6 L318.4 121.5 L318.6 120.3 L318.8 119.1 M319.4 115.5 L319.6 114.4 L319.8 113.2 L320.0 112.2 M320.7 108.6 L320.9 107.5 L321.1 106.3 L321.4 105.1 M322.1 101.6 L322.3 100.4 L322.6 99.2 L322.8 98.2 M323.4 94.7 L323.7 93.5 L323.9 92.3 L324.1 91.2 M324.6 87.6 L324.8 86.4 L325.1 85.2 L325.2 84.2 M325.9 80.7 L326.2 79.5 L326.5 78.4 L326.8 77.2 M327.7 73.7 L328.0 72.6 L328.3 71.4 L328.6 70.4 M329.7 67.0 L330.0 65.8 L330.4 64.7 L330.7 63.8 M331.9 60.4 L332.4 59.2 L332.8 58.1 L333.3 57.0 M334.7 53.7 L335.2 52.6 L335.7 51.5 L336.2 50.6 M337.8 47.4 L338.4 46.4 L339.1 45.3 L339.7 44.3 M341.8 41.4 L342.5 40.4 L343.3 39.5 L344.0 38.7 M346.5 36.2 L347.4 35.5 L348.4 34.8 L349.4 34.1 M352.4 32.4 L353.5 31.9 L354.5 31.3 L355.6 30.8 M359.0 29.5 L360.2 29.1 L361.3 28.8 L362.3 28.6 M365.8 27.9 L367.0 27.7 L368.2 27.5 L369.4 27.4 M373.0 27.1 L374.2 27.0 L375.4 26.9 L376.4 26.9 M380.0 26.8 L381.2 26.8 L382.4 26.7 L383.6 26.7 M387.2 26.7 L388.4 26.7 L389.6 26.7 L390.6 26.7 M394.2 26.8 L395.4 26.9 L396.6 26.9 L397.8 27.0 M401.4 27.4 L402.6 27.5 L403.8 27.7 L404.8 27.8 M408.4 28.1 L409.5 28.2 L410.7 28.3 L411.7 28.4 M415.3 28.7 L416.5 28.8 L417.7 28.9 L418.9 29.0 M422.5 29.2 L423.7 29.3 L424.9 29.4 L425.9 29.5 M429.5 29.7 L430.7 29.8 L431.9 29.9 L433.1 30.0 M436.7 30.2 L437.9 30.3 L439.1 30.4 L440.1 30.5 M443.7 30.7 L444.9 30.8 L446.1 30.9 L447.3 31.0 M450.9 31.2 L452.1 31.3 L453.3 31.3 L454.3 31.4 M457.9 31.7 L459.1 31.8 L460.3 31.9 L461.3 32.0 M464.9 32.6 L465.9 32.9 L466.7 33.5 L467.2 34.7 L467.3 34.9" fill="none" stroke="#111111" stroke-width="1.20" stroke-linejoin="round"/>
<rect x="369.1" y="73.8" width="121.2" height="60.6" fill="#fff"/>
<line x1="369.9" y1="77.0" x2="398.0" y2="77.0" stroke="#1f1fff" stroke-width="1.2"/>
<text x="403.1" y="79.3" class="lg" transform="rotate(0.03 403.1 79.3)">Al, C-terminated, T=700 K</text>
<line x1="369.9" y1="84.6" x2="395.0" y2="84.6" stroke="#1f1fff" stroke-width="1.2" stroke-dasharray="3.5 3.7"/>
<text x="403.1" y="86.9" class="lg" transform="rotate(0.03 403.1 86.9)">Al, Si-terminated, T=700 K</text>
<line x1="369.9" y1="92.2" x2="398.0" y2="92.2" stroke="#00b050" stroke-width="1.2"/>
<text x="403.1" y="94.5" class="lg" transform="rotate(0.03 403.1 94.5)">Al, C-terminated, T=800 K</text>
<line x1="369.9" y1="99.8" x2="395.0" y2="99.8" stroke="#00b050" stroke-width="1.2" stroke-dasharray="3.5 3.7"/>
<text x="403.1" y="102.1" class="lg" transform="rotate(0.03 403.1 102.1)">Al, Si-terminated, T=800 K</text>
<line x1="369.9" y1="107.4" x2="398.0" y2="107.4" stroke="#ff1a1a" stroke-width="1.2"/>
<text x="403.1" y="109.7" class="lg" transform="rotate(0.03 403.1 109.7)">Al, C-terminated, T=900 K</text>
<line x1="369.9" y1="115.0" x2="395.0" y2="115.0" stroke="#ff1a1a" stroke-width="1.2" stroke-dasharray="3.5 3.7"/>
<text x="403.1" y="117.3" class="lg" transform="rotate(0.03 403.1 117.3)">Al, Si-terminated, T=900 K</text>
<line x1="369.9" y1="122.6" x2="398.0" y2="122.6" stroke="#111111" stroke-width="1.2"/>
<text x="403.1" y="124.9" class="lg" transform="rotate(0.03 403.1 124.9)">Al, C-terminated, T=1000 K</text>
<line x1="369.9" y1="130.2" x2="395.0" y2="130.2" stroke="#111111" stroke-width="1.2" stroke-dasharray="3.5 3.7"/>
<text x="403.1" y="132.5" class="lg" transform="rotate(0.03 403.1 132.5)">Al, Si-terminated, T=1000 K</text>
<path d="M50.9 191.6 V332.1 H233.3" fill="none" stroke="#4c4c4c" stroke-width="1.25"/>
<line x1="95.3" y1="332.1" x2="95.3" y2="328.3" stroke="#4c4c4c" stroke-width="1"/>
<text x="95.3" y="340.0" class="tk" text-anchor="middle" transform="rotate(0.03 95.3 340.0)">2</text>
<line x1="141.2" y1="332.1" x2="141.2" y2="328.3" stroke="#4c4c4c" stroke-width="1"/>
<text x="141.2" y="340.0" class="tk" text-anchor="middle" transform="rotate(0.03 141.2 340.0)">4</text>
<line x1="187.0" y1="332.1" x2="187.0" y2="328.3" stroke="#4c4c4c" stroke-width="1"/>
<text x="187.0" y="340.0" class="tk" text-anchor="middle" transform="rotate(0.03 187.0 340.0)">6</text>
<line x1="232.9" y1="332.1" x2="232.9" y2="328.3" stroke="#4c4c4c" stroke-width="1"/>
<text x="232.9" y="340.0" class="tk" text-anchor="middle" transform="rotate(0.03 232.9 340.0)">8</text>
<line x1="50.9" y1="332.1" x2="54.6" y2="332.1" stroke="#4c4c4c" stroke-width="1"/>
<text x="48.8" y="334.9" class="tk" text-anchor="end" transform="rotate(0.03 48.8 334.9)">0</text>
<line x1="50.9" y1="297.1" x2="54.6" y2="297.1" stroke="#4c4c4c" stroke-width="1"/>
<text x="48.8" y="299.8" class="tk" text-anchor="end" transform="rotate(0.03 48.8 299.8)">0.005</text>
<line x1="50.9" y1="262.1" x2="54.6" y2="262.1" stroke="#4c4c4c" stroke-width="1"/>
<text x="48.8" y="264.8" class="tk" text-anchor="end" transform="rotate(0.03 48.8 264.8)">0.01</text>
<line x1="50.9" y1="227.0" x2="54.6" y2="227.0" stroke="#4c4c4c" stroke-width="1"/>
<text x="48.8" y="229.8" class="tk" text-anchor="end" transform="rotate(0.03 48.8 229.8)">0.015</text>
<line x1="50.9" y1="192.0" x2="54.6" y2="192.0" stroke="#4c4c4c" stroke-width="1"/>
<text x="48.8" y="194.8" class="tk" text-anchor="end" transform="rotate(0.03 48.8 194.8)">0.02</text>
<line x1="60.9" y1="332.1" x2="60.9" y2="330.3" stroke="#4c4c4c" stroke-width="0.6" opacity="0.6"/>
<line x1="72.3" y1="332.1" x2="72.3" y2="330.3" stroke="#4c4c4c" stroke-width="0.6" opacity="0.6"/>
<line x1="83.8" y1="332.1" x2="83.8" y2="330.3" stroke="#4c4c4c" stroke-width="0.6" opacity="0.6"/>
<line x1="106.8" y1="332.1" x2="106.8" y2="330.3" stroke="#4c4c4c" stroke-width="0.6" opacity="0.6"/>
<line x1="118.2" y1="332.1" x2="118.2" y2="330.3" stroke="#4c4c4c" stroke-width="0.6" opacity="0.6"/>
<line x1="129.7" y1="332.1" x2="129.7" y2="330.3" stroke="#4c4c4c" stroke-width="0.6" opacity="0.6"/>
<line x1="152.6" y1="332.1" x2="152.6" y2="330.3" stroke="#4c4c4c" stroke-width="0.6" opacity="0.6"/>
<line x1="164.1" y1="332.1" x2="164.1" y2="330.3" stroke="#4c4c4c" stroke-width="0.6" opacity="0.6"/>
<line x1="175.6" y1="332.1" x2="175.6" y2="330.3" stroke="#4c4c4c" stroke-width="0.6" opacity="0.6"/>
<line x1="198.5" y1="332.1" x2="198.5" y2="330.3" stroke="#4c4c4c" stroke-width="0.6" opacity="0.6"/>
<line x1="210.0" y1="332.1" x2="210.0" y2="330.3" stroke="#4c4c4c" stroke-width="0.6" opacity="0.6"/>
<line x1="221.5" y1="332.1" x2="221.5" y2="330.3" stroke="#4c4c4c" stroke-width="0.6" opacity="0.6"/>
<line x1="50.9" y1="325.1" x2="52.6" y2="325.1" stroke="#4c4c4c" stroke-width="0.6" opacity="0.6"/>
<line x1="50.9" y1="318.1" x2="52.6" y2="318.1" stroke="#4c4c4c" stroke-width="0.6" opacity="0.6"/>
<line x1="50.9" y1="311.1" x2="52.6" y2="311.1" stroke="#4c4c4c" stroke-width="0.6" opacity="0.6"/>
<line x1="50.9" y1="304.1" x2="52.6" y2="304.1" stroke="#4c4c4c" stroke-width="0.6" opacity="0.6"/>
<line x1="50.9" y1="290.1" x2="52.6" y2="290.1" stroke="#4c4c4c" stroke-width="0.6" opacity="0.6"/>
<line x1="50.9" y1="283.1" x2="52.6" y2="283.1" stroke="#4c4c4c" stroke-width="0.6" opacity="0.6"/>
<line x1="50.9" y1="276.1" x2="52.6" y2="276.1" stroke="#4c4c4c" stroke-width="0.6" opacity="0.6"/>
<line x1="50.9" y1="269.1" x2="52.6" y2="269.1" stroke="#4c4c4c" stroke-width="0.6" opacity="0.6"/>
<line x1="50.9" y1="255.0" x2="52.6" y2="255.0" stroke="#4c4c4c" stroke-width="0.6" opacity="0.6"/>
<line x1="50.9" y1="248.0" x2="52.6" y2="248.0" stroke="#4c4c4c" stroke-width="0.6" opacity="0.6"/>
<line x1="50.9" y1="241.0" x2="52.6" y2="241.0" stroke="#4c4c4c" stroke-width="0.6" opacity="0.6"/>
<line x1="50.9" y1="234.0" x2="52.6" y2="234.0" stroke="#4c4c4c" stroke-width="0.6" opacity="0.6"/>
<line x1="50.9" y1="220.0" x2="52.6" y2="220.0" stroke="#4c4c4c" stroke-width="0.6" opacity="0.6"/>
<line x1="50.9" y1="213.0" x2="52.6" y2="213.0" stroke="#4c4c4c" stroke-width="0.6" opacity="0.6"/>
<line x1="50.9" y1="206.0" x2="52.6" y2="206.0" stroke="#4c4c4c" stroke-width="0.6" opacity="0.6"/>
<line x1="50.9" y1="199.0" x2="52.6" y2="199.0" stroke="#4c4c4c" stroke-width="0.6" opacity="0.6"/>
<text x="122.0" y="349.0" class="lb" transform="rotate(0.03 122.0 349.0)">Time (ns)</text>
<text transform="translate(16.1 262.1) rotate(-90.03)" class="lb" text-anchor="middle">D <tspan class="x">×</tspan>10<tspan class="sup" dy="-4">−10</tspan><tspan dy="4"> (m</tspan><tspan class="sup" dy="-4">2</tspan><tspan dy="4">/s)</tspan></text>
<path d="M51.1 319.5 L51.5 318.0 L51.9 316.6 L52.3 315.1 L52.7 313.6 L53.0 312.2 L53.4 310.7 L53.7 309.2 L54.0 307.7 L54.3 306.2 L54.6 304.8 L54.9 303.3 L55.3 301.8 L55.6 300.3 L55.9 298.8 L56.3 297.4 L56.6 295.9 L57.0 294.4 L57.3 292.9 L57.7 291.5 L58.0 290.0 L58.4 288.5 L58.8 287.0 L59.2 285.6 L59.6 284.1 L60.1 282.6 L60.8 281.2 L62.0 280.6 L62.9 281.5 L63.7 283.1 L64.4 284.5 L65.2 285.9 L65.9 287.2 L66.7 288.5 L67.4 289.8 L68.2 291.1 L69.0 292.4 L69.7 293.7 L70.6 295.0 L71.5 296.2 L72.4 297.4 L73.4 298.6 L74.4 299.7 L75.4 300.8 L76.5 301.9 L77.6 302.9 L78.7 303.9 L79.9 304.9 L81.2 305.7 L82.4 306.5 L83.8 307.3 L85.1 308.1 L86.4 308.8 L87.8 309.4 L89.2 310.0 L90.6 310.6 L92.0 311.1 L93.4 311.7 L94.9 312.2 L96.3 312.6 L97.8 313.1 L99.2 313.6 L100.6 314.1 L102.1 314.5 L103.6 314.9 L105.0 315.2 L106.5 315.4 L108.0 315.7 L109.5 315.9 L111.0 316.1 L112.5 316.3 L114.0 316.6 L115.5 316.9 L117.0 317.2 L118.5 317.5 L120.0 317.7 L121.5 318.0 L123.0 318.2 L124.5 318.5 L126.0 318.7 L127.5 319.0 L129.0 319.2 L130.5 319.3 L132.0 319.5 L133.5 319.7 L135.0 319.8 L136.5 319.9 L138.0 320.0 L139.5 320.2 L141.1 320.3 L142.6 320.3 L144.1 320.4 L145.6 320.5 L147.1 320.6 L148.6 320.6 L150.1 320.7 L151.7 320.8 L153.2 320.9 L154.7 321.0 L156.2 321.1 L157.7 321.3 L159.2 321.5 L160.7 321.7 L162.2 321.8 L163.7 322.0 L165.2 322.0 L166.7 322.1 L168.3 322.2 L169.8 322.2 L171.3 322.3 L172.8 322.3 L174.3 322.4 L175.8 322.4 L177.4 322.5 L178.9 322.6 L180.4 322.7 L181.9 322.7 L183.4 322.8 L184.9 322.9 L186.4 322.9 L188.0 322.9 L189.5 323.0 L191.0 323.0 L192.5 323.0 L194.0 323.0 L195.5 323.1 L197.1 323.1 L198.6 323.2 L200.1 323.3 L201.6 323.4 L203.1 323.6 L204.6 323.8" fill="none" stroke="#1f1fff" stroke-width="1.20" stroke-linejoin="round"/>
<path d="M51.1 319.5 L51.4 318.3 L51.7 317.2 L52.1 316.0 M52.9 312.7 L53.2 311.6 L53.4 310.4 L53.7 309.2 M54.4 305.9 L54.6 304.7 L54.9 303.5 L55.1 302.3 M55.8 299.0 L56.1 297.8 L56.3 296.6 L56.6 295.7 M57.4 292.2 L57.7 291.0 L58.1 289.9 L58.4 288.9 M60.2 285.8 L61.2 285.5 L62.2 286.3 L62.8 287.0 M65.0 289.9 L65.8 290.9 L66.5 291.8 L67.1 292.6 M69.3 295.5 L70.0 296.4 L70.8 297.4 L71.5 298.1 M73.9 300.7 L74.8 301.6 L75.7 302.4 L76.5 303.0 M79.1 305.1 L80.1 305.8 L81.1 306.4 L82.2 307.0 M85.2 308.6 L86.3 309.1 L87.4 309.6 L88.5 310.1 M91.6 311.4 L92.8 311.8 L93.9 312.3 L94.9 312.6 M98.3 313.6 L99.5 313.9 L100.6 314.2 L101.6 314.4 M105.1 315.2 L106.3 315.4 L107.5 315.6 L108.5 315.8 M112.0 316.4 L113.2 316.6 L114.4 316.8 L115.4 317.0 M118.9 317.6 L120.1 317.8 L121.3 317.9 L122.3 318.1 M125.9 318.6 L127.1 318.7 L128.3 318.9 L129.3 319.0 M132.8 319.4 L134.0 319.5 L135.2 319.6 L136.2 319.8 M139.8 320.1 L141.0 320.2 L142.2 320.3 L143.2 320.4 M146.8 320.7 L148.0 320.8 L149.2 320.9 L150.2 321.0 M153.8 321.3 L155.0 321.4 L156.2 321.5 L157.2 321.5 M160.8 321.8 L162.0 321.9 L163.2 321.9 L164.2 322.0 M167.8 322.2 L169.0 322.2 L170.2 322.3 L171.2 322.3 M174.8 322.4 L176.0 322.5 L177.2 322.5 L178.2 322.6 M181.8 322.7 L183.0 322.8 L184.2 322.8 L185.2 322.9 M188.8 323.0 L190.0 323.1 L191.2 323.1 L192.2 323.2 M195.8 323.4 L197.0 323.4 L198.2 323.5 L199.2 323.5 M202.8 323.7 L204.0 323.8 L204.6 323.8" fill="none" stroke="#1f1fff" stroke-width="1.20" stroke-linejoin="round"/>
<path d="M51.1 319.5 L51.5 318.0 L51.9 316.6 L52.3 315.1 L52.7 313.6 L53.0 312.2 L53.4 310.7 L53.7 309.2 L54.0 307.7 L54.3 306.2 L54.6 304.7 L55.0 303.3 L55.3 301.8 L55.6 300.3 L55.9 298.8 L56.3 297.3 L56.6 295.9 L57.0 294.4 L57.3 292.9 L57.7 291.4 L58.0 290.0 L58.4 288.5 L58.9 287.0 L59.3 285.6 L59.7 284.1 L60.1 282.7 L60.6 281.2 L60.9 279.7 L61.3 278.3 L61.6 276.8 L62.0 275.3 L62.3 273.8 L62.6 272.4 L62.9 270.9 L63.2 269.3 L63.4 267.8 L63.7 266.4 L64.3 264.8 L65.3 264.2 L66.7 264.7 L68.0 265.7 L69.0 266.7 L70.0 267.9 L70.9 269.1 L71.8 270.4 L72.7 271.6 L73.6 272.8 L74.4 274.1 L75.3 275.3 L76.2 276.6 L77.0 277.8 L77.9 279.1 L78.8 280.3 L79.7 281.5 L80.7 282.6 L81.7 283.8 L82.8 284.9 L83.8 286.0 L84.9 287.0 L86.0 288.1 L87.2 289.1 L88.3 290.1 L89.5 291.0 L90.7 291.9 L91.9 292.8 L93.2 293.7 L94.5 294.5 L95.7 295.3 L97.0 296.1 L98.4 296.8 L99.7 297.5 L101.1 298.2 L102.5 298.8 L103.9 299.4 L105.2 300.0 L106.6 300.6 L108.1 301.2 L109.5 301.7 L110.9 302.2 L112.4 302.7 L113.8 303.2 L115.2 303.6 L116.7 304.1 L118.2 304.5 L119.6 304.9 L121.1 305.3 L122.5 305.8 L124.0 306.2 L125.4 306.7 L126.9 307.1 L128.3 307.6 L129.8 308.0 L131.2 308.4 L132.7 308.7 L134.2 309.1 L135.7 309.4 L137.2 309.8 L138.6 310.1 L140.1 310.4 L141.6 310.7 L143.1 311.0 L144.6 311.3 L146.1 311.6 L147.6 311.8 L149.1 312.1 L150.6 312.3 L152.1 312.6 L153.6 312.8 L155.1 313.0 L156.6 313.1 L158.1 313.3 L159.6 313.5 L161.1 313.6 L162.6 313.8 L164.1 313.9 L165.6 314.0 L167.1 314.2 L168.7 314.3 L170.2 314.4 L171.7 314.5 L173.2 314.6 L174.7 314.7 L176.2 314.8 L177.7 315.0 L179.2 315.1 L180.8 315.2 L182.3 315.4 L183.8 315.5 L185.3 315.6 L186.8 315.8 L188.3 315.9 L189.8 316.0 L191.3 316.2 L192.8 316.3 L194.4 316.4 L195.9 316.5 L197.4 316.7 L198.9 316.8 L200.4 316.9 L201.9 317.0 L203.4 317.1 L205.0 317.2 L206.5 317.2 L208.0 317.3 L209.5 317.4" fill="none" stroke="#00b050" stroke-width="1.20" stroke-linejoin="round"/>
<path d="M51.1 319.5 L51.4 318.3 L51.7 317.2 L52.1 316.0 M52.9 312.7 L53.2 311.6 L53.4 310.4 L53.7 309.2 M54.4 305.9 L54.6 304.7 L54.9 303.5 L55.2 302.3 M55.9 299.0 L56.2 297.8 L56.4 296.7 L56.6 295.7 M57.5 292.2 L57.8 291.0 L58.1 289.9 L58.3 288.9 M59.3 285.4 L59.6 284.3 L59.9 283.1 L60.2 282.1 M61.2 278.7 L61.5 277.5 L61.9 276.4 L62.2 275.4 M63.3 272.1 L64.0 271.2 L65.2 270.9 L66.2 271.2 L66.3 271.3 M68.7 273.9 L69.5 274.8 L70.3 275.7 L70.9 276.5 M73.1 279.3 L73.9 280.2 L74.7 281.2 L75.3 281.9 M77.6 284.7 L78.3 285.7 L79.1 286.6 L79.8 287.3 M82.3 289.9 L83.2 290.7 L84.1 291.5 L84.8 292.2 M87.6 294.5 L88.6 295.2 L89.6 295.9 L90.4 296.4 M93.5 298.3 L94.5 298.9 L95.6 299.5 L96.5 299.9 M99.7 301.6 L100.8 302.1 L101.9 302.6 L102.8 303.0 M106.2 304.2 L107.4 304.5 L108.5 304.9 L109.5 305.1 M113.0 306.1 L114.1 306.4 L115.3 306.7 L116.3 306.9 M119.6 307.6 L120.8 307.9 L121.9 308.1 L123.1 308.4 M126.5 309.0 L127.7 309.2 L128.8 309.4 L130.0 309.6 M133.4 310.2 L134.6 310.4 L135.7 310.6 L136.7 310.8 M140.3 311.4 L141.5 311.6 L142.7 311.8 L143.7 311.9 M147.2 312.5 L148.4 312.7 L149.6 312.8 L150.6 313.0 M154.2 313.4 L155.4 313.6 L156.6 313.7 L157.5 313.8 M161.1 314.2 L162.3 314.3 L163.5 314.4 L164.5 314.5 M168.1 314.9 L169.3 315.0 L170.5 315.1 L171.5 315.2 M175.1 315.5 L176.3 315.6 L177.5 315.7 L178.5 315.8 M182.1 316.0 L183.3 316.1 L184.5 316.2 L185.5 316.3 M189.1 316.5 L190.3 316.5 L191.5 316.6 L192.5 316.7 M196.1 316.8 L197.3 316.9 L198.5 317.0 L199.5 317.0 M203.1 317.2 L204.3 317.2 L205.5 317.3 L206.5 317.3" fill="none" stroke="#00b050" stroke-width="1.20" stroke-linejoin="round"/>
<path d="M51.1 319.5 L51.5 318.0 L51.9 316.6 L52.3 315.1 L52.7 313.6 L53.0 312.2 L53.4 310.7 L53.7 309.2 L54.0 307.7 L54.3 306.2 L54.6 304.8 L55.0 303.3 L55.3 301.8 L55.6 300.3 L55.9 298.8 L56.3 297.3 L56.6 295.9 L56.9 294.4 L57.3 292.9 L57.7 291.4 L58.0 290.0 L58.4 288.5 L58.9 287.1 L59.3 285.6 L59.7 284.1 L60.2 282.7 L60.6 281.2 L60.9 279.8 L61.3 278.3 L61.6 276.8 L61.9 275.3 L62.2 273.8 L62.5 272.3 L62.7 270.8 L62.9 269.3 L63.0 267.8 L63.2 266.3 L63.3 264.8 L63.5 263.3 L63.7 261.8 L63.8 260.3 L64.0 258.8 L64.2 257.3 L64.4 255.8 L64.6 254.3 L64.9 252.8 L65.1 251.3 L65.4 249.8 L65.6 248.3 L65.9 246.8 L66.2 245.2 L66.6 243.7 L67.2 242.4 L68.4 241.2 L69.6 241.2 L70.9 242.2 L72.0 243.3 L72.9 244.5 L73.7 245.8 L74.5 247.1 L75.2 248.4 L75.9 249.8 L76.7 251.1 L77.5 252.4 L78.2 253.7 L79.1 255.0 L79.9 256.3 L80.8 257.4 L81.8 258.6 L82.9 259.7 L83.9 260.8 L84.9 262.0 L85.8 263.2 L86.7 264.4 L87.5 265.7 L88.3 267.0 L89.2 268.2 L90.1 269.4 L91.1 270.6 L92.0 271.8 L93.0 273.0 L94.0 274.2 L95.0 275.3 L96.0 276.4 L97.1 277.5 L98.1 278.5 L99.3 279.5 L100.4 280.5 L101.6 281.5 L102.8 282.5 L104.0 283.4 L105.2 284.3 L106.4 285.2 L107.6 286.1 L108.9 286.9 L110.2 287.7 L111.5 288.5 L112.8 289.3 L114.1 290.0 L115.4 290.8 L116.8 291.5 L118.1 292.2 L119.5 292.9 L120.8 293.6 L122.2 294.2 L123.6 294.9 L124.9 295.5 L126.3 296.2 L127.7 296.8 L129.1 297.4 L130.5 298.0 L131.9 298.6 L133.3 299.1 L134.7 299.7 L136.1 300.2 L137.6 300.7 L139.0 301.2 L140.5 301.7 L141.9 302.1 L143.4 302.5 L144.8 302.8 L146.3 303.2 L147.8 303.5 L149.3 303.8 L150.8 304.1 L152.3 304.4 L153.7 304.7 L155.2 305.0 L156.7 305.3 L158.2 305.6 L159.7 305.9 L161.2 306.2 L162.7 306.4 L164.2 306.6 L165.7 306.8 L167.2 307.0 L168.7 307.2 L170.2 307.4 L171.7 307.6 L173.2 307.7 L174.7 307.9 L176.2 308.1 L177.7 308.3 L179.2 308.5 L180.7 308.7 L182.3 308.9 L183.8 309.1 L185.3 309.3 L186.8 309.5 L188.3 309.7 L189.8 309.9 L191.3 310.0 L192.8 310.2 L194.3 310.4 L195.8 310.6 L197.3 310.8 L198.8 310.9 L200.3 311.1 L201.8 311.2 L203.3 311.4 L204.8 311.6 L206.4 311.7 L207.9 311.9 L209.4 312.0 L210.9 312.2 L212.4 312.3 L213.9 312.5" fill="none" stroke="#ff1a1a" stroke-width="1.20" stroke-linejoin="round"/>
<path d="M51.1 319.5 L51.4 318.3 L51.7 317.2 L52.1 316.0 M52.9 312.7 L53.2 311.6 L53.4 310.4 L53.7 309.2 M54.4 305.9 L54.6 304.7 L54.9 303.5 L55.2 302.4 M55.9 299.0 L56.2 297.9 L56.4 296.7 L56.7 295.5 M57.5 292.2 L57.8 291.0 L58.1 289.9 L58.4 288.7 M59.3 285.5 L59.7 284.3 L60.0 283.1 L60.3 282.2 M61.2 278.7 L61.4 277.5 L61.7 276.3 L61.9 275.4 M62.5 271.8 L62.7 270.6 L62.8 269.4 L63.0 268.4 M63.3 264.9 L63.5 263.7 L63.6 262.5 L63.7 261.5 M64.1 257.9 L64.3 256.7 L64.4 255.5 L64.6 254.5 M65.2 251.0 L65.4 249.8 L65.6 248.6 L65.8 247.6 M66.5 244.1 L66.9 243.1 L67.5 242.1 L68.4 241.4 M71.2 243.1 L71.9 244.0 L72.6 245.0 L73.1 245.9 M74.9 249.0 L75.5 250.1 L76.1 251.1 L76.5 252.0 M78.3 255.2 L78.9 256.2 L79.5 257.3 L80.0 258.1 M82.0 261.1 L82.7 262.0 L83.5 263.0 L84.1 263.8 M86.1 266.8 L86.8 267.8 L87.4 268.8 L88.0 269.6 M90.0 272.6 L90.7 273.5 L91.5 274.5 L92.1 275.3 M94.4 278.1 L95.2 279.0 L96.0 279.8 L96.7 280.5 M99.4 283.0 L100.3 283.8 L101.2 284.5 L102.0 285.1 M104.9 287.3 L105.9 288.0 L106.9 288.7 L107.7 289.2 M110.8 291.1 L111.8 291.7 L112.9 292.3 L113.7 292.9 M116.8 294.7 L117.9 295.3 L118.9 295.9 L119.8 296.3 M122.8 297.9 L123.9 298.5 L125.0 299.0 L126.1 299.6 M129.1 301.0 L130.3 301.4 L131.4 301.8 L132.5 302.2 M135.7 303.3 L136.9 303.6 L138.1 303.9 L139.2 304.2 M142.5 305.1 L143.7 305.4 L144.8 305.7 L145.8 305.9 M149.3 306.7 L150.5 307.0 L151.7 307.2 L152.7 307.4 M156.2 308.0 L157.4 308.2 L158.6 308.4 L159.6 308.5 M163.2 309.1 L164.3 309.2 L165.5 309.4 L166.5 309.5 M170.1 310.0 L171.3 310.1 L172.5 310.3 L173.5 310.4 M177.1 310.8 L178.3 310.9 L179.5 311.1 L180.5 311.2 M184.0 311.5 L185.2 311.6 L186.4 311.7 L187.4 311.8 M191.0 312.1 L192.2 312.2 L193.4 312.3 L194.4 312.4 M198.0 312.6 L199.2 312.7 L200.4 312.8 L201.4 312.8 M205.0 313.0 L206.2 313.1 L207.4 313.1 L208.4 313.2 M212.0 313.4 L213.0 313.5" fill="none" stroke="#ff1a1a" stroke-width="1.20" stroke-linejoin="round"/>
<path d="M51.1 319.5 L51.5 318.0 L51.9 316.6 L52.3 315.1 L52.7 313.6 L53.0 312.2 L53.4 310.7 L53.7 309.2 L54.0 307.7 L54.3 306.3 L54.6 304.8 L54.9 303.3 L55.3 301.8 L55.6 300.3 L55.9 298.9 L56.3 297.4 L56.6 295.9 L56.9 294.4 L57.3 293.0 L57.7 291.5 L58.0 290.0 L58.4 288.6 L58.9 287.1 L59.3 285.7 L59.8 284.2 L60.2 282.8 L60.6 281.3 L60.9 279.8 L61.2 278.3 L61.4 276.8 L61.7 275.3 L61.9 273.8 L62.1 272.3 L62.3 270.8 L62.5 269.3 L62.7 267.8 L62.9 266.3 L63.1 264.8 L63.3 263.3 L63.5 261.8 L63.7 260.3 L63.9 258.8 L64.2 257.3 L64.4 255.8 L64.6 254.3 L64.8 252.8 L65.0 251.3 L65.2 249.8 L65.3 248.3 L65.5 246.8 L65.6 245.3 L65.7 243.8 L65.9 242.3 L66.0 240.8 L66.2 239.3 L66.3 237.8 L66.5 236.3 L66.6 234.8 L66.8 233.3 L66.9 231.8 L67.1 230.2 L67.2 228.7 L67.4 227.2 L67.5 225.7 L67.7 224.2 L67.8 222.7 L67.9 221.2 L68.1 219.7 L68.2 218.2 L68.4 216.7 L68.5 215.2 L68.7 213.7 L68.9 212.2 L69.0 210.6 L69.2 209.1 L69.4 207.6 L69.7 206.2 L70.1 204.6 L70.6 203.2 L71.6 202.1 L73.0 202.6 L74.0 203.7 L74.8 205.0 L75.5 206.4 L76.1 207.8 L76.7 209.2 L77.2 210.6 L77.7 212.0 L78.2 213.5 L78.6 214.9 L79.0 216.4 L79.5 217.8 L80.0 219.3 L80.5 220.7 L81.0 222.1 L81.5 223.6 L82.0 225.0 L82.5 226.4 L83.1 227.8 L83.6 229.2 L84.2 230.6 L84.8 232.0 L85.3 233.4 L85.9 234.8 L86.5 236.2 L87.1 237.6 L87.7 239.0 L88.2 240.4 L88.8 241.8 L89.4 243.2 L90.0 244.6 L90.7 246.0 L91.3 247.3 L92.0 248.7 L92.7 250.1 L93.4 251.4 L94.1 252.7 L94.9 254.0 L95.7 255.3 L96.5 256.6 L97.4 257.8 L98.3 259.0 L99.2 260.3 L100.0 261.5 L100.9 262.7 L101.9 263.9 L102.8 265.1 L103.8 266.2 L104.8 267.4 L105.9 268.5 L106.9 269.6 L108.0 270.6 L109.2 271.6 L110.3 272.5 L111.6 273.5 L112.8 274.4 L114.0 275.3 L115.2 276.1 L116.5 276.9 L117.8 277.7 L119.1 278.5 L120.4 279.3 L121.7 280.1 L123.0 280.9 L124.3 281.6 L125.6 282.4 L127.0 283.1 L128.3 283.8 L129.7 284.5 L131.0 285.1 L132.4 285.7 L133.8 286.2 L135.3 286.7 L136.7 287.1 L138.2 287.6 L139.6 288.0 L141.1 288.5 L142.5 288.9 L144.0 289.4 L145.4 289.9 L146.9 290.3 L148.3 290.8 L149.8 291.2 L151.2 291.7 L152.7 292.1 L154.1 292.5 L155.6 292.9 L157.1 293.2 L158.5 293.6 L160.0 293.9 L161.5 294.3 L162.9 294.6 L164.4 294.9 L165.9 295.3 L167.4 295.6 L168.9 295.9 L170.4 296.2 L171.8 296.5 L173.3 296.8 L174.8 297.0 L176.3 297.3 L177.8 297.5 L179.3 297.7 L180.8 297.9 L182.3 298.1 L183.8 298.3 L185.3 298.5 L186.8 298.7 L188.3 298.9 L189.8 299.1 L191.3 299.3 L192.8 299.6 L194.3 299.8 L195.8 300.0 L197.3 300.2 L198.8 300.4 L200.3 300.7 L201.8 300.9 L203.3 301.1 L204.8 301.3 L206.3 301.5 L207.8 301.7 L209.3 301.9 L210.8 302.1 L212.3 302.4 L213.8 302.6 L215.3 302.8 L216.8 303.0 L218.3 303.2" fill="none" stroke="#111111" stroke-width="1.20" stroke-linejoin="round"/>
<path d="M51.1 319.5 L51.4 318.3 L51.7 317.2 L52.1 316.0 M52.9 312.7 L53.2 311.6 L53.4 310.4 L53.7 309.2 M54.4 305.9 L54.6 304.7 L54.9 303.5 L55.2 302.4 M55.9 299.0 L56.2 297.9 L56.4 296.7 L56.7 295.5 M57.5 292.2 L57.8 291.0 L58.1 289.9 L58.4 288.7 M59.4 285.5 L59.8 284.3 L60.1 283.2 L60.4 282.2 M61.1 278.7 L61.3 277.5 L61.5 276.3 L61.7 275.3 M62.1 271.7 L62.3 270.6 L62.5 269.4 L62.6 268.4 M63.1 264.8 L63.2 263.6 L63.4 262.4 L63.5 261.4 M64.1 257.9 L64.3 256.7 L64.5 255.5 L64.6 254.5 M65.1 250.9 L65.2 249.7 L65.3 248.5 L65.4 247.5 M65.7 244.0 L65.8 242.8 L65.9 241.6 L66.0 240.6 M66.4 237.0 L66.5 235.8 L66.6 234.6 L66.7 233.6 M67.1 230.0 L67.2 228.8 L67.4 227.6 L67.5 226.6 M67.8 223.0 L67.9 221.8 L68.0 220.6 L68.1 219.6 M68.5 216.1 L68.7 214.9 L68.8 213.7 L68.9 212.7 M69.5 209.1 L69.7 207.9 L70.0 206.7 L70.3 205.9 M72.7 204.7 L73.5 205.6 L74.1 206.6 L74.5 207.6 M75.9 210.9 L76.3 212.0 L76.7 213.1 L77.0 214.1 M78.1 217.5 L78.5 218.7 L78.8 219.8 L79.1 220.8 M80.1 224.2 L80.5 225.4 L80.9 226.5 L81.2 227.5 M82.5 230.9 L82.9 232.0 L83.3 233.1 L83.7 234.0 M85.1 237.3 L85.6 238.5 L86.1 239.6 L86.5 240.5 M87.9 243.8 L88.4 244.9 L88.9 246.0 L89.3 246.9 M90.8 250.2 L91.3 251.3 L91.8 252.3 L92.3 253.2 M94.0 256.4 L94.6 257.4 L95.2 258.5 L95.8 259.3 M98.1 262.1 L98.9 262.9 L99.8 263.8 L100.5 264.5 M103.0 267.1 L103.8 267.9 L104.7 268.8 L105.4 269.5 M108.0 272.0 L108.9 272.8 L109.8 273.6 L110.6 274.2 M113.4 276.4 L114.4 277.1 L115.4 277.7 L116.3 278.3 M119.3 280.2 L120.3 280.8 L121.4 281.4 L122.2 282.0 M125.4 283.8 L126.4 284.4 L127.5 285.0 L128.3 285.4 M131.6 287.0 L132.7 287.5 L133.8 288.0 L134.7 288.3 M137.9 289.6 L139.0 290.0 L140.1 290.4 L141.3 290.8 M144.5 291.9 L145.6 292.3 L146.8 292.7 L147.9 293.1 M151.2 294.0 L152.3 294.4 L153.5 294.7 L154.6 295.0 M157.9 295.9 L159.1 296.1 L160.3 296.4 L161.2 296.6 M164.8 297.4 L165.9 297.7 L167.1 297.9 L168.1 298.1 M171.6 298.9 L172.8 299.1 L174.0 299.3 L175.0 299.5 M178.5 300.0 L179.7 300.2 L180.9 300.3 L181.9 300.4 M185.5 300.9 L186.7 301.1 L187.9 301.2 L188.9 301.4 M192.4 301.9 L193.6 302.1 L194.8 302.2 L195.8 302.3 M199.4 302.8 L200.6 302.9 L201.8 303.1 L202.8 303.2 M206.3 303.5 L207.5 303.7 L208.7 303.8 L209.7 303.9 M213.3 304.2 L214.5 304.4 L215.7 304.5 L216.7 304.6" fill="none" stroke="#111111" stroke-width="1.20" stroke-linejoin="round"/>
<rect x="114.9" y="196.2" width="121.7" height="60.7" fill="#fff"/>
<line x1="115.7" y1="199.4" x2="143.9" y2="199.4" stroke="#1f1fff" stroke-width="1.2"/>
<text x="149.4" y="201.7" class="lg" transform="rotate(0.03 149.4 201.7)">Si, C-terminated, T=700 K</text>
<line x1="115.7" y1="207.0" x2="140.9" y2="207.0" stroke="#1f1fff" stroke-width="1.2" stroke-dasharray="3.5 3.7"/>
<text x="149.4" y="209.3" class="lg" transform="rotate(0.03 149.4 209.3)">Si, Si-terminated, T=700 K</text>
<line x1="115.7" y1="214.6" x2="143.9" y2="214.6" stroke="#00b050" stroke-width="1.2"/>
<text x="149.4" y="216.9" class="lg" transform="rotate(0.03 149.4 216.9)">Si, C-terminated, T=800 K</text>
<line x1="115.7" y1="222.3" x2="140.9" y2="222.3" stroke="#00b050" stroke-width="1.2" stroke-dasharray="3.5 3.7"/>
<text x="149.4" y="224.6" class="lg" transform="rotate(0.03 149.4 224.6)">Si, Si-terminated, T=800 K</text>
<line x1="115.7" y1="229.9" x2="143.9" y2="229.9" stroke="#ff1a1a" stroke-width="1.2"/>
<text x="149.4" y="232.2" class="lg" transform="rotate(0.03 149.4 232.2)">Si, C-terminated, T=900 K</text>
<line x1="115.7" y1="237.5" x2="140.9" y2="237.5" stroke="#ff1a1a" stroke-width="1.2" stroke-dasharray="3.5 3.7"/>
<text x="149.4" y="239.8" class="lg" transform="rotate(0.03 149.4 239.8)">Si, Si-terminated, T=900 K</text>
<line x1="115.7" y1="245.1" x2="143.9" y2="245.1" stroke="#111111" stroke-width="1.2"/>
<text x="149.4" y="247.4" class="lg" transform="rotate(0.03 149.4 247.4)">Si, C-terminated, T=1000 K</text>
<line x1="115.7" y1="252.7" x2="140.9" y2="252.7" stroke="#111111" stroke-width="1.2" stroke-dasharray="3.5 3.7"/>
<text x="149.4" y="255.0" class="lg" transform="rotate(0.03 149.4 255.0)">Si, Si-terminated, T=1000 K</text>
<path d="M305.0 191.6 V331.9 H487.5" fill="none" stroke="#4c4c4c" stroke-width="1.25"/>
<line x1="305.0" y1="331.9" x2="305.0" y2="328.1" stroke="#4c4c4c" stroke-width="1"/>
<text x="305.0" y="340.0" class="tk" text-anchor="middle" transform="rotate(0.03 305.0 340.0)">0</text>
<line x1="350.5" y1="331.9" x2="350.5" y2="328.1" stroke="#4c4c4c" stroke-width="1"/>
<text x="350.5" y="340.0" class="tk" text-anchor="middle" transform="rotate(0.03 350.5 340.0)">2</text>
<line x1="396.0" y1="331.9" x2="396.0" y2="328.1" stroke="#4c4c4c" stroke-width="1"/>
<text x="396.0" y="340.0" class="tk" text-anchor="middle" transform="rotate(0.03 396.0 340.0)">4</text>
<line x1="441.6" y1="331.9" x2="441.6" y2="328.1" stroke="#4c4c4c" stroke-width="1"/>
<text x="441.6" y="340.0" class="tk" text-anchor="middle" transform="rotate(0.03 441.6 340.0)">6</text>
<line x1="487.1" y1="331.9" x2="487.1" y2="328.1" stroke="#4c4c4c" stroke-width="1"/>
<text x="487.1" y="340.0" class="tk" text-anchor="middle" transform="rotate(0.03 487.1 340.0)">8</text>
<line x1="305.0" y1="331.9" x2="308.8" y2="331.9" stroke="#4c4c4c" stroke-width="1"/>
<text x="302.6" y="334.6" class="tk" text-anchor="end" transform="rotate(0.03 302.6 334.6)">0</text>
<line x1="305.0" y1="296.9" x2="308.8" y2="296.9" stroke="#4c4c4c" stroke-width="1"/>
<text x="302.6" y="299.7" class="tk" text-anchor="end" transform="rotate(0.03 302.6 299.7)">0.005</text>
<line x1="305.0" y1="261.9" x2="308.8" y2="261.9" stroke="#4c4c4c" stroke-width="1"/>
<text x="302.6" y="264.7" class="tk" text-anchor="end" transform="rotate(0.03 302.6 264.7)">0.01</text>
<line x1="305.0" y1="227.0" x2="308.8" y2="227.0" stroke="#4c4c4c" stroke-width="1"/>
<text x="302.6" y="229.7" class="tk" text-anchor="end" transform="rotate(0.03 302.6 229.7)">0.015</text>
<line x1="305.0" y1="192.0" x2="308.8" y2="192.0" stroke="#4c4c4c" stroke-width="1"/>
<text x="302.6" y="194.8" class="tk" text-anchor="end" transform="rotate(0.03 302.6 194.8)">0.02</text>
<line x1="316.4" y1="331.9" x2="316.4" y2="330.1" stroke="#4c4c4c" stroke-width="0.6" opacity="0.6"/>
<line x1="327.8" y1="331.9" x2="327.8" y2="330.1" stroke="#4c4c4c" stroke-width="0.6" opacity="0.6"/>
<line x1="339.1" y1="331.9" x2="339.1" y2="330.1" stroke="#4c4c4c" stroke-width="0.6" opacity="0.6"/>
<line x1="361.9" y1="331.9" x2="361.9" y2="330.1" stroke="#4c4c4c" stroke-width="0.6" opacity="0.6"/>
<line x1="373.3" y1="331.9" x2="373.3" y2="330.1" stroke="#4c4c4c" stroke-width="0.6" opacity="0.6"/>
<line x1="384.7" y1="331.9" x2="384.7" y2="330.1" stroke="#4c4c4c" stroke-width="0.6" opacity="0.6"/>
<line x1="407.4" y1="331.9" x2="407.4" y2="330.1" stroke="#4c4c4c" stroke-width="0.6" opacity="0.6"/>
<line x1="418.8" y1="331.9" x2="418.8" y2="330.1" stroke="#4c4c4c" stroke-width="0.6" opacity="0.6"/>
<line x1="430.2" y1="331.9" x2="430.2" y2="330.1" stroke="#4c4c4c" stroke-width="0.6" opacity="0.6"/>
<line x1="452.9" y1="331.9" x2="452.9" y2="330.1" stroke="#4c4c4c" stroke-width="0.6" opacity="0.6"/>
<line x1="464.3" y1="331.9" x2="464.3" y2="330.1" stroke="#4c4c4c" stroke-width="0.6" opacity="0.6"/>
<line x1="475.7" y1="331.9" x2="475.7" y2="330.1" stroke="#4c4c4c" stroke-width="0.6" opacity="0.6"/>
<line x1="305.0" y1="324.9" x2="306.8" y2="324.9" stroke="#4c4c4c" stroke-width="0.6" opacity="0.6"/>
<line x1="305.0" y1="317.9" x2="306.8" y2="317.9" stroke="#4c4c4c" stroke-width="0.6" opacity="0.6"/>
<line x1="305.0" y1="310.9" x2="306.8" y2="310.9" stroke="#4c4c4c" stroke-width="0.6" opacity="0.6"/>
<line x1="305.0" y1="303.9" x2="306.8" y2="303.9" stroke="#4c4c4c" stroke-width="0.6" opacity="0.6"/>
<line x1="305.0" y1="289.9" x2="306.8" y2="289.9" stroke="#4c4c4c" stroke-width="0.6" opacity="0.6"/>
<line x1="305.0" y1="282.9" x2="306.8" y2="282.9" stroke="#4c4c4c" stroke-width="0.6" opacity="0.6"/>
<line x1="305.0" y1="275.9" x2="306.8" y2="275.9" stroke="#4c4c4c" stroke-width="0.6" opacity="0.6"/>
<line x1="305.0" y1="268.9" x2="306.8" y2="268.9" stroke="#4c4c4c" stroke-width="0.6" opacity="0.6"/>
<line x1="305.0" y1="255.0" x2="306.8" y2="255.0" stroke="#4c4c4c" stroke-width="0.6" opacity="0.6"/>
<line x1="305.0" y1="248.0" x2="306.8" y2="248.0" stroke="#4c4c4c" stroke-width="0.6" opacity="0.6"/>
<line x1="305.0" y1="241.0" x2="306.8" y2="241.0" stroke="#4c4c4c" stroke-width="0.6" opacity="0.6"/>
<line x1="305.0" y1="234.0" x2="306.8" y2="234.0" stroke="#4c4c4c" stroke-width="0.6" opacity="0.6"/>
<line x1="305.0" y1="220.0" x2="306.8" y2="220.0" stroke="#4c4c4c" stroke-width="0.6" opacity="0.6"/>
<line x1="305.0" y1="213.0" x2="306.8" y2="213.0" stroke="#4c4c4c" stroke-width="0.6" opacity="0.6"/>
<line x1="305.0" y1="206.0" x2="306.8" y2="206.0" stroke="#4c4c4c" stroke-width="0.6" opacity="0.6"/>
<line x1="305.0" y1="199.0" x2="306.8" y2="199.0" stroke="#4c4c4c" stroke-width="0.6" opacity="0.6"/>
<text x="376.5" y="349.0" class="lb" transform="rotate(0.03 376.5 349.0)">Time (ns)</text>
<text transform="translate(272.4 261.9) rotate(-90.03)" class="lb" text-anchor="middle">D <tspan class="x">×</tspan>10<tspan class="sup" dy="-4">−10</tspan><tspan dy="4"> (m</tspan><tspan class="sup" dy="-4">2</tspan><tspan dy="4">/s)</tspan></text>
<path d="M305.2 331.5 L305.2 330.0 L305.2 328.5 L305.2 327.0 L305.2 325.4 L305.2 323.9 L305.3 322.4 L305.3 320.9 L305.3 319.4 L305.3 317.9 L305.3 316.3 L305.4 314.8 L305.4 313.3 L305.4 311.8 L305.5 310.3 L305.6 308.8 L305.7 307.3 L306.1 305.9 L306.6 304.4 L307.2 303.0 L307.8 301.6 L308.5 300.2 L309.0 298.8 L309.5 297.3 L309.9 295.9 L310.3 294.4 L310.7 292.9 L311.1 291.5 L311.5 290.0 L311.9 288.5 L312.3 287.1 L312.8 285.7 L313.4 284.3 L313.9 282.9 L314.5 281.5 L315.1 280.0 L315.9 278.7 L317.1 279.4 L318.1 280.5 L319.0 281.7 L319.9 282.9 L320.8 284.1 L321.7 285.3 L322.6 286.6 L323.5 287.8 L324.4 289.0 L325.3 290.2 L326.2 291.4 L327.1 292.7 L328.0 293.9 L328.8 295.1 L329.7 296.3 L330.7 297.5 L331.6 298.7 L332.6 299.9 L333.6 301.1 L334.6 302.1 L335.7 303.2 L336.9 304.2 L338.0 305.2 L339.2 306.1 L340.4 307.0 L341.7 307.9 L343.0 308.7 L344.3 309.4 L345.6 310.1 L347.0 310.7 L348.4 311.3 L349.8 311.9 L351.3 312.4 L352.7 312.8 L354.2 313.2 L355.6 313.6 L357.1 314.0 L358.6 314.4 L360.0 314.8 L361.5 315.2 L363.0 315.5 L364.5 315.9 L365.9 316.1 L367.4 316.4 L368.9 316.5 L370.5 316.7 L372.0 316.8 L373.5 317.0 L375.0 317.2 L376.5 317.4 L378.0 317.7 L379.4 318.0 L380.9 318.3 L382.4 318.6 L383.9 318.9 L385.4 319.1 L386.9 319.3 L388.4 319.4 L389.9 319.4 L391.4 319.5 L393.0 319.6 L394.5 319.6 L396.0 319.7 L397.5 319.8 L399.0 319.9 L400.5 320.0 L402.0 320.1 L403.5 320.3 L405.1 320.4 L406.6 320.6 L408.1 320.7 L409.6 320.8 L411.1 321.0 L412.6 321.1 L414.1 321.2 L415.6 321.3 L417.1 321.4 L418.6 321.5 L420.2 321.6 L421.7 321.7 L423.2 321.7 L424.7 321.8 L426.2 321.9 L427.7 322.0 L429.2 322.0 L430.7 322.1 L432.3 322.2 L433.8 322.2 L435.3 322.3 L436.8 322.4 L438.3 322.4 L439.8 322.5 L441.3 322.6 L442.9 322.6 L444.4 322.7 L445.9 322.8 L447.4 322.8 L448.9 322.9 L450.4 323.0 L451.9 323.1 L453.4 323.1 L455.0 323.2 L456.5 323.3 L458.0 323.3 L459.5 323.4" fill="none" stroke="#1f1fff" stroke-width="1.20" stroke-linejoin="round"/>
<path d="M305.2 331.5 L305.2 330.3 L305.2 329.1 L305.2 327.9 M305.2 324.5 L305.2 323.3 L305.3 322.1 L305.3 320.9 M305.3 317.5 L305.3 316.3 L305.4 315.1 L305.4 314.0 M305.5 310.4 L305.6 309.2 L305.6 308.1 L305.8 306.9 M307.0 303.5 L307.5 302.4 L308.0 301.3 L308.3 300.5 M309.5 297.1 L309.9 296.0 L310.2 294.8 L310.4 293.8 M311.4 290.3 L311.7 289.2 L312.0 288.0 L312.3 287.1 M313.6 283.7 L314.1 282.6 L314.5 281.5 L314.9 280.5 M317.1 279.4 L317.9 280.3 L318.7 281.2 L319.3 282.0 M321.4 284.6 L322.1 285.6 L322.9 286.6 L323.6 287.5 M325.8 290.2 L326.5 291.1 L327.2 292.1 L327.9 293.1 M329.9 295.8 L330.7 296.7 L331.5 297.6 L332.2 298.4 M334.7 300.9 L335.7 301.7 L336.6 302.4 L337.4 303.0 M340.3 305.2 L341.4 305.8 L342.4 306.4 L343.2 306.9 M346.5 308.5 L347.6 309.0 L348.7 309.4 L349.6 309.8 M353.0 311.0 L354.2 311.4 L355.3 311.8 L356.3 312.1 M359.8 313.0 L360.9 313.3 L362.1 313.6 L363.1 313.8 M366.6 314.5 L367.8 314.6 L369.0 314.8 L370.0 315.0 M373.6 315.5 L374.7 315.7 L375.9 315.9 L376.9 316.1 M380.4 317.0 L381.6 317.2 L382.8 317.5 L383.8 317.7 M387.3 318.2 L388.5 318.3 L389.7 318.4 L390.7 318.4 M394.1 318.6 L395.3 318.7 L396.5 318.7 L397.7 318.8 M401.1 319.1 L402.3 319.2 L403.5 319.3 L404.7 319.4 M408.1 319.7 L409.3 319.8 L410.5 319.9 L411.5 320.0 M415.1 320.2 L416.3 320.3 L417.5 320.4 L418.5 320.5 M422.1 320.7 L423.3 320.8 L424.5 320.8 L425.5 320.9 M429.1 321.1 L430.3 321.1 L431.5 321.2 L432.5 321.2 M436.1 321.4 L437.3 321.5 L438.5 321.5 L439.5 321.6 M443.1 321.7 L444.3 321.8 L445.5 321.9 L446.5 321.9 M450.1 322.1 L451.3 322.1 L452.5 322.2 L453.5 322.2 M457.1 322.4 L458.3 322.4 L459.5 322.5" fill="none" stroke="#1f1fff" stroke-width="1.20" stroke-linejoin="round"/>
<path d="M305.2 331.5 L305.2 330.0 L305.2 328.5 L305.2 327.0 L305.2 325.5 L305.2 323.9 L305.2 322.4 L305.3 320.9 L305.3 319.4 L305.3 317.9 L305.3 316.4 L305.4 314.8 L305.4 313.3 L305.4 311.8 L305.5 310.3 L305.6 308.8 L305.7 307.4 L306.1 305.9 L306.6 304.5 L307.2 303.1 L307.8 301.7 L308.4 300.2 L309.0 298.8 L309.5 297.4 L309.9 295.9 L310.3 294.5 L310.7 293.0 L311.1 291.6 L311.5 290.1 L311.9 288.6 L312.3 287.2 L312.7 285.7 L313.2 284.3 L313.6 282.8 L314.1 281.4 L314.5 279.9 L314.9 278.5 L315.3 277.0 L315.7 275.6 L316.1 274.1 L316.5 272.6 L316.8 271.2 L317.2 269.7 L317.6 268.2 L317.9 266.7 L318.4 265.3 L319.4 264.4 L320.9 265.0 L322.1 265.9 L323.2 266.9 L324.2 268.1 L325.0 269.3 L325.9 270.6 L326.7 271.8 L327.5 273.1 L328.3 274.4 L329.1 275.7 L329.9 277.0 L330.8 278.2 L331.6 279.5 L332.4 280.8 L333.2 282.0 L334.1 283.2 L335.1 284.4 L336.0 285.6 L337.0 286.8 L338.1 287.9 L339.1 289.0 L340.2 290.0 L341.3 291.1 L342.5 292.0 L343.6 292.9 L344.9 293.8 L346.2 294.6 L347.5 295.4 L348.8 296.2 L350.1 296.9 L351.4 297.7 L352.7 298.4 L354.1 299.1 L355.4 299.8 L356.8 300.5 L358.2 301.1 L359.6 301.6 L361.0 302.1 L362.4 302.6 L363.9 303.1 L365.3 303.5 L366.8 303.9 L368.2 304.3 L369.7 304.7 L371.2 305.1 L372.6 305.5 L374.1 305.8 L375.5 306.3 L377.0 306.7 L378.4 307.2 L379.9 307.6 L381.3 308.1 L382.8 308.5 L384.2 309.0 L385.7 309.3 L387.1 309.7 L388.6 310.0 L390.1 310.2 L391.6 310.5 L393.1 310.7 L394.6 311.0 L396.1 311.2 L397.6 311.4 L399.1 311.6 L400.6 311.8 L402.1 312.1 L403.6 312.3 L405.1 312.5 L406.6 312.7 L408.1 312.9 L409.6 313.0 L411.1 313.2 L412.6 313.3 L414.1 313.5 L415.6 313.6 L417.1 313.8 L418.6 313.9 L420.1 314.0 L421.6 314.1 L423.1 314.3 L424.6 314.3 L426.2 314.4 L427.7 314.5 L429.2 314.6 L430.7 314.7 L432.2 314.8 L433.7 314.9 L435.2 315.0 L436.7 315.1 L438.2 315.2 L439.7 315.3 L441.2 315.4 L442.8 315.5 L444.3 315.6 L445.8 315.7 L447.3 315.7 L448.8 315.8 L450.3 315.9 L451.8 316.0 L453.3 316.1 L454.8 316.1 L456.3 316.2 L457.9 316.3 L459.4 316.3 L460.9 316.4 L462.4 316.4 L463.9 316.5" fill="none" stroke="#00b050" stroke-width="1.20" stroke-linejoin="round"/>
<path d="M305.2 331.5 L305.2 330.3 L305.2 329.1 L305.2 327.9 M305.2 324.5 L305.2 323.3 L305.3 322.1 L305.3 320.9 M305.3 317.5 L305.3 316.3 L305.4 315.1 L305.4 314.0 M305.5 310.4 L305.6 309.2 L305.6 308.1 L305.8 306.9 M307.0 303.5 L307.5 302.4 L308.0 301.3 L308.3 300.5 M309.5 297.1 L309.9 296.0 L310.2 294.8 L310.5 293.8 M311.4 290.4 L311.8 289.2 L312.1 288.0 L312.3 287.1 M313.4 283.6 L313.7 282.5 L314.1 281.3 L314.4 280.4 M315.4 276.9 L315.7 275.7 L316.0 274.6 L316.2 273.6 M317.1 270.1 L317.4 268.9 L317.7 267.7 L317.9 266.9 M320.0 264.6 L321.1 265.0 L322.2 265.6 L323.0 266.1 M325.3 268.6 L326.1 269.6 L326.8 270.5 L327.4 271.3 M329.5 274.3 L330.2 275.3 L330.9 276.3 L331.4 277.1 M333.6 280.0 L334.3 280.9 L335.1 281.8 L335.8 282.6 M338.2 285.3 L339.1 286.1 L339.9 287.0 L340.7 287.7 M343.4 289.9 L344.4 290.7 L345.4 291.3 L346.2 291.9 M349.3 293.8 L350.4 294.4 L351.4 294.9 L352.3 295.3 M355.6 296.8 L356.7 297.3 L357.8 297.7 L358.8 298.1 M362.1 299.5 L363.2 299.9 L364.4 300.3 L365.3 300.7 M368.7 301.7 L369.9 302.0 L371.1 302.3 L372.1 302.5 M375.4 303.4 L376.5 303.7 L377.7 304.0 L378.8 304.3 M382.1 305.1 L383.3 305.4 L384.5 305.7 L385.6 306.0 M389.0 306.7 L390.1 307.0 L391.3 307.2 L392.3 307.5 M395.8 308.1 L397.0 308.3 L398.2 308.5 L399.2 308.7 M402.8 309.1 L404.0 309.3 L405.2 309.4 L406.2 309.5 M409.8 309.9 L410.9 310.0 L412.1 310.1 L413.1 310.2 M416.7 310.6 L417.9 310.7 L419.1 310.8 L420.1 310.9 M423.7 311.1 L424.9 311.2 L426.1 311.3 L427.1 311.4 M430.7 311.7 L431.9 311.7 L433.1 311.8 L434.1 311.9 M437.7 312.2 L438.9 312.2 L440.1 312.3 L441.1 312.4 M444.7 312.6 L445.9 312.7 L447.1 312.8 L448.1 312.9 M451.7 313.1 L452.9 313.2 L454.1 313.2 L455.1 313.3 M458.7 313.5 L459.9 313.6 L461.1 313.6 L462.1 313.7" fill="none" stroke="#00b050" stroke-width="1.20" stroke-linejoin="round"/>
<path d="M305.2 331.5 L305.2 330.0 L305.2 328.5 L305.2 327.0 L305.2 325.5 L305.2 323.9 L305.2 322.4 L305.3 320.9 L305.3 319.4 L305.3 317.9 L305.3 316.4 L305.4 314.9 L305.4 313.3 L305.4 311.8 L305.5 310.3 L305.6 308.8 L305.7 307.4 L306.1 305.9 L306.6 304.5 L307.2 303.1 L307.8 301.7 L308.4 300.3 L309.0 298.8 L309.4 297.4 L309.9 295.9 L310.3 294.5 L310.7 293.0 L311.1 291.6 L311.5 290.1 L311.9 288.7 L312.3 287.2 L312.7 285.8 L313.2 284.3 L313.6 282.9 L314.0 281.4 L314.5 280.0 L314.9 278.5 L315.3 277.1 L315.7 275.6 L316.2 274.2 L316.6 272.7 L317.0 271.2 L317.3 269.8 L317.6 268.3 L317.8 266.8 L318.0 265.3 L318.1 263.8 L318.3 262.3 L318.4 260.8 L318.6 259.3 L318.8 257.8 L319.0 256.3 L319.3 254.8 L319.5 253.3 L319.7 251.8 L320.0 250.3 L320.3 248.8 L320.7 247.3 L321.2 245.7 L322.0 244.5 L323.2 243.9 L324.8 243.7 L326.2 244.1 L327.4 245.0 L328.3 246.3 L329.2 247.5 L330.0 248.7 L330.9 250.0 L331.7 251.3 L332.6 252.5 L333.5 253.7 L334.4 254.9 L335.3 256.1 L336.3 257.3 L337.2 258.5 L338.1 259.7 L338.9 260.9 L339.8 262.2 L340.7 263.4 L341.6 264.6 L342.6 265.8 L343.5 267.0 L344.4 268.2 L345.3 269.4 L346.3 270.6 L347.2 271.8 L348.1 272.9 L349.1 274.1 L350.1 275.3 L351.1 276.4 L352.1 277.5 L353.1 278.6 L354.2 279.7 L355.3 280.8 L356.4 281.8 L357.5 282.8 L358.6 283.8 L359.8 284.7 L361.0 285.7 L362.2 286.6 L363.5 287.5 L364.7 288.3 L366.0 289.1 L367.3 289.9 L368.6 290.6 L370.0 291.2 L371.4 291.9 L372.7 292.5 L374.1 293.1 L375.5 293.7 L376.9 294.3 L378.3 294.9 L379.7 295.5 L381.1 296.1 L382.5 296.7 L383.9 297.2 L385.3 297.8 L386.7 298.2 L388.2 298.7 L389.6 299.1 L391.1 299.5 L392.5 299.9 L394.0 300.2 L395.5 300.6 L397.0 300.9 L398.4 301.3 L399.9 301.6 L401.4 301.9 L402.9 302.3 L404.3 302.6 L405.8 302.9 L407.3 303.1 L408.8 303.4 L410.3 303.7 L411.8 303.9 L413.3 304.2 L414.7 304.4 L416.2 304.7 L417.7 304.9 L419.2 305.1 L420.7 305.3 L422.2 305.5 L423.7 305.6 L425.2 305.8 L426.7 305.9 L428.2 306.1 L429.8 306.2 L431.3 306.4 L432.8 306.5 L434.3 306.7 L435.8 306.9 L437.3 307.1 L438.8 307.2 L440.3 307.4 L441.8 307.6 L443.3 307.8 L444.8 308.0 L446.3 308.1 L447.8 308.3 L449.3 308.5 L450.8 308.7 L452.3 308.9 L453.8 309.0 L455.3 309.2 L456.8 309.3 L458.3 309.4 L459.8 309.5 L461.3 309.6 L462.8 309.8 L464.3 309.9 L465.8 310.1 L467.3 310.4 L468.8 310.6" fill="none" stroke="#ff1a1a" stroke-width="1.20" stroke-linejoin="round"/>
<path d="M305.2 331.5 L305.2 330.3 L305.2 329.1 L305.2 327.9 M305.2 324.5 L305.2 323.3 L305.3 322.1 L305.3 320.9 M305.3 317.5 L305.3 316.3 L305.3 315.1 L305.4 314.1 M305.5 310.5 L305.6 309.3 L305.6 308.1 L305.8 306.9 M307.0 303.5 L307.5 302.4 L308.0 301.3 L308.3 300.6 M309.5 297.1 L309.9 296.0 L310.2 294.8 L310.5 293.9 M311.4 290.4 L311.7 289.2 L312.1 288.1 L312.3 287.1 M313.4 283.7 L313.7 282.5 L314.0 281.4 L314.3 280.4 M315.3 276.9 L315.7 275.8 L316.0 274.6 L316.3 273.7 M317.3 270.2 L317.5 269.0 L317.6 267.8 L317.8 266.9 M318.2 263.3 L318.3 262.1 L318.5 260.9 L318.6 259.9 M319.0 256.3 L319.2 255.1 L319.3 253.9 L319.4 252.9 M319.9 249.3 L320.1 248.2 L320.3 247.0 L320.5 246.0 M321.5 242.7 L322.0 241.7 L322.8 240.7 L323.9 240.3 M327.1 241.1 L328.1 241.8 L329.1 242.7 L329.8 243.5 M331.7 246.3 L332.4 247.4 L333.0 248.4 L333.5 249.3 M335.3 252.4 L335.9 253.5 L336.5 254.5 L336.9 255.4 M338.7 258.6 L339.2 259.6 L339.8 260.7 L340.3 261.5 M342.2 264.6 L342.8 265.6 L343.5 266.6 L344.0 267.5 M346.0 270.5 L346.7 271.4 L347.4 272.4 L348.0 273.2 M350.3 276.0 L351.1 276.9 L351.9 277.8 L352.6 278.6 M355.1 281.1 L356.0 281.9 L356.9 282.7 L357.7 283.4 M360.5 285.6 L361.5 286.3 L362.5 287.0 L363.3 287.5 M366.4 289.4 L367.5 290.0 L368.5 290.5 L369.4 290.9 M372.7 292.5 L373.8 293.0 L374.9 293.4 L375.8 293.9 M379.1 295.3 L380.2 295.8 L381.3 296.2 L382.3 296.6 M385.6 297.9 L386.8 298.3 L387.9 298.6 L388.9 298.9 M392.4 299.8 L393.5 300.1 L394.7 300.4 L395.7 300.6 M399.2 301.5 L400.4 301.7 L401.5 302.0 L402.5 302.2 M406.0 302.9 L407.2 303.1 L408.4 303.3 L409.4 303.5 M412.7 304.1 L413.9 304.3 L415.1 304.5 L416.3 304.7 M419.7 305.2 L420.9 305.3 L422.0 305.5 L423.2 305.6 M426.6 305.9 L427.8 306.0 L429.0 306.1 L430.2 306.3 M433.6 306.6 L434.8 306.8 L436.0 306.9 L437.2 307.0 M440.6 307.4 L441.8 307.6 L442.9 307.7 L444.1 307.9 M447.5 308.3 L448.7 308.4 L449.9 308.6 L451.1 308.7 M454.5 309.1 L455.7 309.2 L456.9 309.3 L457.9 309.4 M461.5 309.7 L462.7 309.8 L463.8 309.9 L464.8 310.0 M468.4 310.5 L468.8 310.6" fill="none" stroke="#ff1a1a" stroke-width="1.20" stroke-linejoin="round"/>
<path d="M305.2 331.5 L305.2 330.0 L305.2 328.5 L305.2 327.0 L305.2 325.4 L305.2 323.9 L305.2 322.4 L305.3 320.9 L305.3 319.4 L305.3 317.9 L305.3 316.4 L305.4 314.8 L305.4 313.3 L305.4 311.8 L305.5 310.3 L305.6 308.8 L305.7 307.3 L306.1 305.9 L306.6 304.5 L307.2 303.1 L307.8 301.7 L308.4 300.2 L309.0 298.8 L309.5 297.4 L309.9 295.9 L310.3 294.5 L310.7 293.0 L311.1 291.5 L311.5 290.1 L311.9 288.6 L312.3 287.2 L312.7 285.7 L313.2 284.3 L313.6 282.8 L314.1 281.4 L314.5 279.9 L314.9 278.5 L315.3 277.0 L315.7 275.6 L316.1 274.1 L316.5 272.6 L316.9 271.2 L317.1 269.7 L317.4 268.2 L317.6 266.7 L317.8 265.2 L318.0 263.7 L318.2 262.2 L318.4 260.7 L318.6 259.2 L318.7 257.7 L318.9 256.2 L319.0 254.7 L319.2 253.2 L319.4 251.7 L319.5 250.2 L319.7 248.7 L319.9 247.2 L320.0 245.7 L320.2 244.1 L320.3 242.6 L320.5 241.1 L320.6 239.6 L320.8 238.1 L320.9 236.6 L321.0 235.1 L321.1 233.6 L321.3 232.1 L321.4 230.6 L321.5 229.1 L321.7 227.6 L321.8 226.1 L321.9 224.6 L322.0 223.1 L322.2 221.5 L322.3 220.0 L322.4 218.5 L322.6 217.0 L322.7 215.5 L322.9 214.0 L323.1 212.5 L323.2 211.0 L323.4 209.5 L323.6 208.0 L323.9 206.5 L324.2 205.0 L324.6 203.5 L325.3 202.2 L326.5 201.3 L327.8 202.1 L328.7 203.3 L329.4 204.6 L330.0 206.0 L330.6 207.4 L331.1 208.8 L331.6 210.3 L332.1 211.7 L332.6 213.1 L333.1 214.6 L333.5 216.0 L334.0 217.4 L334.5 218.9 L335.0 220.3 L335.5 221.7 L336.0 223.2 L336.5 224.6 L337.1 226.0 L337.6 227.4 L338.2 228.8 L338.9 230.1 L339.5 231.5 L340.2 232.9 L340.9 234.2 L341.6 235.6 L342.3 236.9 L343.1 238.2 L343.9 239.5 L344.7 240.8 L345.4 242.1 L346.2 243.4 L347.0 244.7 L347.8 246.0 L348.6 247.2 L349.4 248.5 L350.2 249.8 L351.0 251.1 L351.8 252.4 L352.6 253.7 L353.4 254.9 L354.2 256.2 L355.0 257.5 L355.9 258.8 L356.7 260.0 L357.6 261.2 L358.5 262.4 L359.5 263.6 L360.5 264.7 L361.5 265.9 L362.5 267.0 L363.6 268.0 L364.7 269.1 L365.8 270.1 L366.9 271.1 L368.1 272.1 L369.2 273.1 L370.4 274.0 L371.7 274.9 L372.9 275.8 L374.1 276.6 L375.4 277.5 L376.7 278.3 L377.9 279.1 L379.2 279.9 L380.5 280.7 L381.8 281.5 L383.2 282.2 L384.5 282.9 L385.9 283.6 L387.2 284.2 L388.6 284.8 L390.0 285.4 L391.4 286.0 L392.8 286.5 L394.3 287.0 L395.7 287.5 L397.1 288.0 L398.6 288.4 L400.0 288.9 L401.5 289.3 L402.9 289.8 L404.4 290.2 L405.8 290.6 L407.3 291.0 L408.8 291.3 L410.2 291.6 L411.7 292.0 L413.2 292.2 L414.7 292.5 L416.2 292.8 L417.7 293.0 L419.2 293.3 L420.7 293.5 L422.1 293.8 L423.6 294.0 L425.1 294.2 L426.6 294.5 L428.1 294.7 L429.6 294.9 L431.1 295.1 L432.6 295.4 L434.1 295.6 L435.6 295.8 L437.1 296.0 L438.6 296.2 L440.1 296.4 L441.6 296.7 L443.1 296.9 L444.6 297.1 L446.1 297.3 L447.6 297.5 L449.1 297.8 L450.6 298.0 L452.1 298.1 L453.6 298.3 L455.1 298.4 L456.6 298.5 L458.1 298.6 L459.6 298.7 L461.1 298.8 L462.6 298.9 L464.1 299.0 L465.7 299.2 L467.2 299.3 L468.7 299.4 L470.2 299.5 L471.7 299.6 L473.2 299.7" fill="none" stroke="#111111" stroke-width="1.20" stroke-linejoin="round"/>
<path d="M305.2 331.5 L305.2 330.3 L305.2 329.1 L305.2 327.9 M305.2 324.5 L305.2 323.3 L305.3 322.1 L305.3 320.9 M305.3 317.5 L305.3 316.3 L305.3 315.1 L305.4 314.1 M305.5 310.4 L305.6 309.3 L305.6 308.1 L305.8 306.9 M307.0 303.5 L307.5 302.4 L308.0 301.3 L308.3 300.5 M309.5 297.1 L309.9 296.0 L310.2 294.8 L310.5 293.9 M311.4 290.4 L311.7 289.2 L312.1 288.1 L312.3 287.1 M313.4 283.6 L313.7 282.5 L314.1 281.3 L314.4 280.4 M315.4 276.9 L315.7 275.8 L316.0 274.6 L316.3 273.6 M317.1 270.1 L317.3 268.9 L317.5 267.8 L317.6 266.8 M318.1 263.2 L318.2 262.0 L318.4 260.8 L318.5 259.8 M318.9 256.2 L319.0 255.0 L319.1 253.8 L319.2 252.8 M319.6 249.3 L319.8 248.1 L319.9 246.9 L320.0 245.9 M320.4 242.3 L320.5 241.1 L320.6 239.9 L320.7 238.9 M321.0 235.3 L321.1 234.1 L321.2 232.9 L321.3 231.9 M321.6 228.3 L321.7 227.1 L321.8 225.9 L321.9 224.9 M322.3 221.4 L322.4 220.2 L322.6 219.0 L322.7 218.0 M323.2 214.6 L323.4 213.4 L323.6 212.2 L323.8 211.0 M325.5 208.2 L326.6 208.3 L327.4 209.4 L327.9 210.2 M329.2 213.6 L329.8 214.7 L330.3 215.8 L330.7 216.7 M332.4 219.9 L332.9 220.9 L333.5 222.0 L334.0 222.9 M335.7 226.0 L336.3 227.1 L336.9 228.1 L337.5 228.9 M339.5 231.9 L340.1 233.0 L340.7 234.0 L341.3 234.8 M343.1 237.9 L343.8 238.9 L344.4 240.0 L344.9 240.8 M346.7 244.0 L347.3 245.0 L347.9 246.0 L348.5 246.8 M350.6 249.7 L351.4 250.7 L352.1 251.6 L352.8 252.4 M355.1 254.9 L355.9 255.8 L356.8 256.6 L357.7 257.4 M360.5 259.7 L361.4 260.3 L362.4 261.0 L363.3 261.6 M366.1 263.5 L367.1 264.1 L368.1 264.8 L369.1 265.5 M372.0 267.4 L373.0 268.0 L374.0 268.7 L374.8 269.2 M377.8 271.3 L378.7 272.0 L379.7 272.7 L380.6 273.3 M383.6 275.3 L384.6 275.9 L385.6 276.5 L386.5 277.0 M389.7 278.5 L390.8 278.9 L392.0 279.4 L392.9 279.7 M396.3 280.9 L397.5 281.3 L398.6 281.7 L399.5 282.0 M403.0 283.1 L404.1 283.5 L405.3 283.9 L406.2 284.2 M409.7 285.2 L410.8 285.5 L412.0 285.8 L413.0 286.1 M416.4 287.1 L417.6 287.3 L418.8 287.6 L419.7 287.9 M423.3 288.6 L424.4 288.8 L425.6 289.1 L426.6 289.3 M430.2 289.9 L431.3 290.1 L432.5 290.3 L433.5 290.4 M437.1 290.9 L438.3 291.0 L439.5 291.2 L440.5 291.3 M444.0 291.9 L445.2 292.1 L446.4 292.3 L447.4 292.5 M450.9 293.0 L452.1 293.2 L453.3 293.4 L454.3 293.5 M457.9 293.9 L459.1 294.0 L460.3 294.2 L461.3 294.3 M464.9 294.7 L466.1 294.8 L467.2 295.0 L468.2 295.1 M471.8 295.6 L473.0 295.8 L473.2 295.8" fill="none" stroke="#111111" stroke-width="1.20" stroke-linejoin="round"/>
<rect x="375.2" y="191.0" width="121.7" height="60.5" fill="#fff"/>
<line x1="376.0" y1="194.2" x2="404.3" y2="194.2" stroke="#1f1fff" stroke-width="1.2"/>
<text x="409.7" y="196.5" class="lg" transform="rotate(0.03 409.7 196.5)">Si, C-terminated, T=700 K</text>
<line x1="376.0" y1="201.8" x2="401.3" y2="201.8" stroke="#1f1fff" stroke-width="1.2" stroke-dasharray="3.5 3.7"/>
<text x="409.7" y="204.1" class="lg" transform="rotate(0.03 409.7 204.1)">Si, Si-terminated, T=700 K</text>
<line x1="376.0" y1="209.4" x2="404.3" y2="209.4" stroke="#00b050" stroke-width="1.2"/>
<text x="409.7" y="211.7" class="lg" transform="rotate(0.03 409.7 211.7)">Si, C-terminated, T=800 K</text>
<line x1="376.0" y1="216.9" x2="401.3" y2="216.9" stroke="#00b050" stroke-width="1.2" stroke-dasharray="3.5 3.7"/>
<text x="409.7" y="219.2" class="lg" transform="rotate(0.03 409.7 219.2)">Si, Si-terminated, T=800 K</text>
<line x1="376.0" y1="224.5" x2="404.3" y2="224.5" stroke="#ff1a1a" stroke-width="1.2"/>
<text x="409.7" y="226.8" class="lg" transform="rotate(0.03 409.7 226.8)">Si, C-terminated, T=900 K</text>
<line x1="376.0" y1="232.1" x2="401.3" y2="232.1" stroke="#ff1a1a" stroke-width="1.2" stroke-dasharray="3.5 3.7"/>
<text x="409.7" y="234.4" class="lg" transform="rotate(0.03 409.7 234.4)">Si, Si-terminated, T=900 K</text>
<line x1="376.0" y1="239.7" x2="404.3" y2="239.7" stroke="#111111" stroke-width="1.2"/>
<text x="409.7" y="242.0" class="lg" transform="rotate(0.03 409.7 242.0)">Si, C-terminated, T=1000 K</text>
<line x1="376.0" y1="247.3" x2="401.3" y2="247.3" stroke="#111111" stroke-width="1.2" stroke-dasharray="3.5 3.7"/>
<text x="409.7" y="249.6" class="lg" transform="rotate(0.03 409.7 249.6)">Si, Si-terminated, T=1000 K</text>
<path d="M45.6 373.6 V513.8 H227.9" fill="none" stroke="#4c4c4c" stroke-width="1.25"/>
<line x1="90.2" y1="513.8" x2="90.2" y2="509.9" stroke="#4c4c4c" stroke-width="1"/>
<text x="90.2" y="522.0" class="tk" text-anchor="middle" transform="rotate(0.03 90.2 522.0)">2</text>
<line x1="136.0" y1="513.8" x2="136.0" y2="509.9" stroke="#4c4c4c" stroke-width="1"/>
<text x="136.0" y="522.0" class="tk" text-anchor="middle" transform="rotate(0.03 136.0 522.0)">4</text>
<line x1="181.7" y1="513.8" x2="181.7" y2="509.9" stroke="#4c4c4c" stroke-width="1"/>
<text x="181.7" y="522.0" class="tk" text-anchor="middle" transform="rotate(0.03 181.7 522.0)">6</text>
<line x1="227.5" y1="513.8" x2="227.5" y2="509.9" stroke="#4c4c4c" stroke-width="1"/>
<text x="227.5" y="522.0" class="tk" text-anchor="middle" transform="rotate(0.03 227.5 522.0)">8</text>
<line x1="45.6" y1="513.8" x2="49.4" y2="513.8" stroke="#4c4c4c" stroke-width="1"/>
<text x="43.2" y="516.5" class="tk" text-anchor="end" transform="rotate(0.03 43.2 516.5)">0</text>
<line x1="45.6" y1="478.8" x2="49.4" y2="478.8" stroke="#4c4c4c" stroke-width="1"/>
<text x="43.2" y="481.6" class="tk" text-anchor="end" transform="rotate(0.03 43.2 481.6)">0.005</text>
<line x1="45.6" y1="443.9" x2="49.4" y2="443.9" stroke="#4c4c4c" stroke-width="1"/>
<text x="43.2" y="446.6" class="tk" text-anchor="end" transform="rotate(0.03 43.2 446.6)">0.01</text>
<line x1="45.6" y1="408.9" x2="49.4" y2="408.9" stroke="#4c4c4c" stroke-width="1"/>
<text x="43.2" y="411.7" class="tk" text-anchor="end" transform="rotate(0.03 43.2 411.7)">0.015</text>
<line x1="45.6" y1="374.0" x2="49.4" y2="374.0" stroke="#4c4c4c" stroke-width="1"/>
<text x="43.2" y="376.8" class="tk" text-anchor="end" transform="rotate(0.03 43.2 376.8)">0.02</text>
<line x1="55.9" y1="513.8" x2="55.9" y2="511.9" stroke="#4c4c4c" stroke-width="0.6" opacity="0.6"/>
<line x1="67.3" y1="513.8" x2="67.3" y2="511.9" stroke="#4c4c4c" stroke-width="0.6" opacity="0.6"/>
<line x1="78.8" y1="513.8" x2="78.8" y2="511.9" stroke="#4c4c4c" stroke-width="0.6" opacity="0.6"/>
<line x1="101.7" y1="513.8" x2="101.7" y2="511.9" stroke="#4c4c4c" stroke-width="0.6" opacity="0.6"/>
<line x1="113.1" y1="513.8" x2="113.1" y2="511.9" stroke="#4c4c4c" stroke-width="0.6" opacity="0.6"/>
<line x1="124.5" y1="513.8" x2="124.5" y2="511.9" stroke="#4c4c4c" stroke-width="0.6" opacity="0.6"/>
<line x1="147.4" y1="513.8" x2="147.4" y2="511.9" stroke="#4c4c4c" stroke-width="0.6" opacity="0.6"/>
<line x1="158.9" y1="513.8" x2="158.9" y2="511.9" stroke="#4c4c4c" stroke-width="0.6" opacity="0.6"/>
<line x1="170.3" y1="513.8" x2="170.3" y2="511.9" stroke="#4c4c4c" stroke-width="0.6" opacity="0.6"/>
<line x1="193.2" y1="513.8" x2="193.2" y2="511.9" stroke="#4c4c4c" stroke-width="0.6" opacity="0.6"/>
<line x1="204.6" y1="513.8" x2="204.6" y2="511.9" stroke="#4c4c4c" stroke-width="0.6" opacity="0.6"/>
<line x1="216.1" y1="513.8" x2="216.1" y2="511.9" stroke="#4c4c4c" stroke-width="0.6" opacity="0.6"/>
<line x1="45.6" y1="506.8" x2="47.4" y2="506.8" stroke="#4c4c4c" stroke-width="0.6" opacity="0.6"/>
<line x1="45.6" y1="499.8" x2="47.4" y2="499.8" stroke="#4c4c4c" stroke-width="0.6" opacity="0.6"/>
<line x1="45.6" y1="492.8" x2="47.4" y2="492.8" stroke="#4c4c4c" stroke-width="0.6" opacity="0.6"/>
<line x1="45.6" y1="485.8" x2="47.4" y2="485.8" stroke="#4c4c4c" stroke-width="0.6" opacity="0.6"/>
<line x1="45.6" y1="471.8" x2="47.4" y2="471.8" stroke="#4c4c4c" stroke-width="0.6" opacity="0.6"/>
<line x1="45.6" y1="464.8" x2="47.4" y2="464.8" stroke="#4c4c4c" stroke-width="0.6" opacity="0.6"/>
<line x1="45.6" y1="457.9" x2="47.4" y2="457.9" stroke="#4c4c4c" stroke-width="0.6" opacity="0.6"/>
<line x1="45.6" y1="450.9" x2="47.4" y2="450.9" stroke="#4c4c4c" stroke-width="0.6" opacity="0.6"/>
<line x1="45.6" y1="436.9" x2="47.4" y2="436.9" stroke="#4c4c4c" stroke-width="0.6" opacity="0.6"/>
<line x1="45.6" y1="429.9" x2="47.4" y2="429.9" stroke="#4c4c4c" stroke-width="0.6" opacity="0.6"/>
<line x1="45.6" y1="422.9" x2="47.4" y2="422.9" stroke="#4c4c4c" stroke-width="0.6" opacity="0.6"/>
<line x1="45.6" y1="415.9" x2="47.4" y2="415.9" stroke="#4c4c4c" stroke-width="0.6" opacity="0.6"/>
<line x1="45.6" y1="401.9" x2="47.4" y2="401.9" stroke="#4c4c4c" stroke-width="0.6" opacity="0.6"/>
<line x1="45.6" y1="395.0" x2="47.4" y2="395.0" stroke="#4c4c4c" stroke-width="0.6" opacity="0.6"/>
<line x1="45.6" y1="388.0" x2="47.4" y2="388.0" stroke="#4c4c4c" stroke-width="0.6" opacity="0.6"/>
<line x1="45.6" y1="381.0" x2="47.4" y2="381.0" stroke="#4c4c4c" stroke-width="0.6" opacity="0.6"/>
<text x="117.0" y="531.0" class="lb" transform="rotate(0.03 117.0 531.0)">Time (ns)</text>
<text transform="translate(15.0 443.9) rotate(-90.03)" class="lb" text-anchor="middle">D <tspan class="x">×</tspan>10<tspan class="sup" dy="-4">−10</tspan><tspan dy="4"> (m</tspan><tspan class="sup" dy="-4">2</tspan><tspan dy="4">/s)</tspan></text>
<path d="M45.8 497.8 L46.3 496.4 L46.7 494.9 L47.1 493.4 L47.5 492.0 L47.9 490.5 L48.2 489.0 L48.5 487.5 L48.9 486.1 L49.3 484.6 L49.7 483.1 L50.1 481.7 L50.5 480.2 L50.9 478.7 L51.3 477.3 L51.7 475.8 L52.2 474.4 L52.6 472.9 L53.0 471.5 L53.5 470.0 L54.0 468.6 L54.5 467.1 L55.1 465.7 L56.3 464.9 L57.3 466.1 L58.1 467.3 L59.0 468.6 L59.8 469.9 L60.5 471.2 L61.3 472.5 L62.1 473.8 L62.8 475.1 L63.7 476.4 L64.5 477.7 L65.4 478.9 L66.3 480.1 L67.2 481.3 L68.1 482.5 L69.1 483.7 L70.1 484.8 L71.2 485.9 L72.3 487.0 L73.4 488.0 L74.6 488.9 L75.8 489.8 L77.1 490.6 L78.4 491.5 L79.7 492.2 L81.1 492.9 L82.4 493.6 L83.8 494.2 L85.2 494.7 L86.6 495.3 L88.1 495.7 L89.5 496.2 L91.0 496.6 L92.4 497.0 L93.9 497.4 L95.4 497.8 L96.9 498.1 L98.4 498.4 L99.8 498.7 L101.3 499.0 L102.8 499.3 L104.3 499.5 L105.8 499.7 L107.3 499.9 L108.8 500.1 L110.3 500.3 L111.9 500.4 L113.4 500.6 L114.9 500.8 L116.4 501.0 L117.9 501.2 L119.4 501.4 L120.9 501.6 L122.4 501.8 L123.9 502.0 L125.4 502.2 L126.9 502.4 L128.4 502.6 L129.9 502.7 L131.4 502.9 L132.9 503.0 L134.5 503.2 L136.0 503.3 L137.5 503.4 L139.0 503.6 L140.5 503.7 L142.0 503.8 L143.5 504.0 L145.0 504.1 L146.5 504.2 L148.1 504.3 L149.6 504.4 L151.1 504.5 L152.6 504.6 L154.1 504.6 L155.6 504.7 L157.1 504.8 L158.7 504.9 L160.2 504.9 L161.7 505.0 L163.2 505.1 L164.7 505.2 L166.2 505.2 L167.8 505.3 L169.3 505.4 L170.8 505.4 L172.3 505.5 L173.8 505.5 L175.3 505.6 L176.9 505.7 L178.4 505.7 L179.9 505.8 L181.4 505.8 L182.9 505.8 L184.4 505.9 L186.0 505.9 L187.5 505.9 L189.0 505.9 L190.5 506.0 L192.0 506.0 L193.5 506.0 L195.1 506.1 L196.6 506.2 L198.1 506.2 L199.6 506.3" fill="none" stroke="#1f1fff" stroke-width="1.20" stroke-linejoin="round"/>
<path d="M45.8 497.8 L46.2 496.7 L46.5 495.5 L46.9 494.4 M47.7 491.1 L48.0 489.9 L48.3 488.7 L48.5 487.5 M49.4 484.2 L49.6 483.1 L49.9 481.9 L50.2 480.9 M51.2 477.5 L51.5 476.3 L51.9 475.2 L52.3 474.2 M54.0 471.0 L54.8 470.1 L55.9 469.7 L56.9 469.8 M58.7 472.7 L59.3 473.7 L60.0 474.8 L60.6 475.8 M62.4 478.7 L63.1 479.7 L63.8 480.6 L64.6 481.6 M66.8 484.1 L67.7 484.9 L68.6 485.7 L69.4 486.3 M72.3 488.5 L73.3 489.1 L74.3 489.8 L75.2 490.3 M78.3 492.1 L79.4 492.7 L80.5 493.2 L81.4 493.6 M84.7 495.0 L85.8 495.4 L87.0 495.7 L87.9 496.0 M91.4 497.0 L92.6 497.3 L93.7 497.6 L94.7 497.9 M98.2 498.6 L99.4 498.8 L100.6 499.0 L101.6 499.2 M105.2 499.7 L106.4 499.9 L107.5 500.1 L108.5 500.2 M112.1 500.7 L113.3 500.8 L114.5 501.0 L115.5 501.1 M119.1 501.5 L120.3 501.7 L121.5 501.8 L122.4 501.9 M126.0 502.3 L127.2 502.4 L128.4 502.6 L129.4 502.7 M133.0 503.0 L134.2 503.1 L135.4 503.3 L136.4 503.3 M140.0 503.7 L141.2 503.8 L142.4 503.9 L143.4 504.0 M147.0 504.2 L148.2 504.3 L149.4 504.4 L150.4 504.4 M154.0 504.7 L155.2 504.7 L156.4 504.8 L157.4 504.8 M160.8 505.0 L162.0 505.1 L163.2 505.1 L164.4 505.2 M167.8 505.3 L169.0 505.4 L170.2 505.4 L171.4 505.4 M174.8 505.6 L176.0 505.6 L177.2 505.7 L178.4 505.7 M181.8 505.8 L183.0 505.9 L184.2 505.9 L185.2 505.9 M188.8 506.0 L190.0 506.1 L191.2 506.1 L192.2 506.1 M195.8 506.2 L197.0 506.2 L198.2 506.3 L199.2 506.3" fill="none" stroke="#1f1fff" stroke-width="1.20" stroke-linejoin="round"/>
<path d="M45.8 497.8 L46.3 496.4 L46.7 494.9 L47.1 493.5 L47.5 492.0 L47.9 490.5 L48.2 489.0 L48.5 487.6 L48.9 486.1 L49.3 484.6 L49.7 483.2 L50.1 481.7 L50.5 480.2 L50.9 478.8 L51.3 477.3 L51.7 475.9 L52.1 474.4 L52.6 473.0 L53.0 471.5 L53.4 470.1 L53.9 468.6 L54.3 467.1 L54.7 465.7 L55.2 464.2 L55.6 462.8 L56.0 461.3 L56.4 459.9 L56.8 458.4 L57.2 456.9 L57.5 455.5 L57.8 453.9 L58.1 452.4 L58.4 451.0 L58.9 449.5 L59.7 448.1 L61.0 448.4 L62.3 449.2 L63.2 450.4 L64.2 451.6 L65.1 452.8 L66.0 454.1 L66.9 455.3 L67.7 456.5 L68.6 457.8 L69.5 459.0 L70.3 460.3 L71.2 461.5 L72.1 462.7 L73.0 464.0 L73.9 465.2 L74.8 466.4 L75.8 467.6 L76.7 468.7 L77.7 469.9 L78.8 471.0 L79.8 472.1 L80.9 473.2 L82.0 474.2 L83.1 475.2 L84.3 476.1 L85.5 477.1 L86.7 477.9 L88.0 478.8 L89.3 479.6 L90.6 480.4 L91.9 481.2 L93.2 481.9 L94.6 482.6 L95.9 483.3 L97.3 483.9 L98.7 484.5 L100.1 485.1 L101.5 485.6 L102.9 486.2 L104.4 486.7 L105.8 487.1 L107.2 487.6 L108.7 488.0 L110.2 488.4 L111.6 488.8 L113.1 489.2 L114.5 489.6 L116.0 490.0 L117.5 490.4 L118.9 490.9 L120.3 491.4 L121.8 491.8 L123.2 492.3 L124.7 492.7 L126.2 493.0 L127.6 493.4 L129.1 493.7 L130.6 494.0 L132.1 494.3 L133.6 494.6 L135.1 494.9 L136.6 495.1 L138.1 495.4 L139.6 495.6 L141.1 495.8 L142.6 496.1 L144.1 496.3 L145.6 496.5 L147.1 496.7 L148.6 496.9 L150.1 497.0 L151.6 497.2 L153.1 497.3 L154.6 497.5 L156.1 497.6 L157.6 497.8 L159.1 497.9 L160.6 498.0 L162.1 498.2 L163.6 498.3 L165.2 498.4 L166.7 498.5 L168.2 498.7 L169.7 498.8 L171.2 498.9 L172.7 499.0 L174.2 499.0 L175.7 499.1 L177.2 499.2 L178.8 499.3 L180.3 499.3 L181.8 499.4 L183.3 499.5 L184.8 499.6 L186.3 499.6 L187.8 499.7 L189.4 499.8 L190.9 499.8 L192.4 499.9 L193.9 500.0 L195.4 500.0 L196.9 500.1 L198.4 500.1 L200.0 500.2 L201.5 500.2 L203.0 500.3 L204.5 500.3" fill="none" stroke="#00b050" stroke-width="1.20" stroke-linejoin="round"/>
<path d="M45.8 497.8 L46.2 496.7 L46.5 495.5 L46.9 494.4 M47.7 491.1 L48.0 489.9 L48.3 488.7 L48.5 487.5 M49.4 484.3 L49.7 483.1 L50.0 481.9 L50.3 480.8 M51.3 477.5 L51.6 476.3 L51.9 475.2 L52.2 474.2 M53.2 470.7 L53.5 469.6 L53.9 468.4 L54.1 467.5 M55.2 464.0 L55.6 462.9 L56.0 461.7 L56.3 460.8 M57.8 457.4 L58.4 456.3 L59.2 455.7 L60.3 455.4 M63.0 457.0 L63.8 458.1 L64.6 459.2 L65.1 459.8 M67.4 462.6 L68.1 463.5 L68.9 464.5 L69.4 465.3 M71.6 468.2 L72.3 469.1 L73.1 470.0 L73.8 470.7 M76.4 473.3 L77.2 474.1 L78.1 474.9 L78.8 475.6 M81.6 478.0 L82.5 478.7 L83.5 479.4 L84.3 480.0 M87.4 481.9 L88.5 482.5 L89.5 483.0 L90.4 483.5 M93.6 485.1 L94.8 485.5 L95.9 486.0 L96.8 486.4 M100.2 487.6 L101.3 488.0 L102.5 488.4 L103.4 488.6 M106.7 489.5 L107.9 489.7 L109.1 490.0 L110.3 490.2 M113.6 490.7 L114.8 491.0 L116.0 491.2 L117.2 491.5 M120.5 492.2 L121.7 492.5 L122.8 492.7 L123.8 493.0 M127.3 493.7 L128.5 493.9 L129.7 494.1 L130.7 494.3 M134.3 494.9 L135.4 495.0 L136.6 495.2 L137.6 495.4 M141.2 495.9 L142.4 496.1 L143.6 496.2 L144.6 496.4 M148.1 496.8 L149.3 496.9 L150.5 497.1 L151.5 497.2 M155.1 497.5 L156.3 497.7 L157.5 497.8 L158.5 497.9 M162.1 498.2 L163.3 498.3 L164.5 498.4 L165.5 498.5 M169.1 498.7 L170.3 498.8 L171.5 498.9 L172.5 498.9 M176.1 499.2 L177.3 499.2 L178.5 499.3 L179.5 499.3 M183.1 499.5 L184.3 499.6 L185.5 499.6 L186.5 499.7 M190.1 499.8 L191.3 499.9 L192.5 499.9 L193.5 499.9 M197.1 500.1 L198.3 500.1 L199.5 500.2 L200.5 500.2 M204.1 500.3 L204.5 500.3" fill="none" stroke="#00b050" stroke-width="1.20" stroke-linejoin="round"/>
<path d="M45.8 497.8 L46.3 496.4 L46.7 494.9 L47.1 493.4 L47.5 492.0 L47.9 490.5 L48.2 489.0 L48.5 487.5 L48.9 486.1 L49.3 484.6 L49.7 483.1 L50.1 481.7 L50.5 480.2 L50.9 478.7 L51.3 477.3 L51.7 475.8 L52.2 474.4 L52.6 472.9 L53.0 471.4 L53.4 470.0 L53.9 468.5 L54.3 467.1 L54.8 465.6 L55.2 464.2 L55.7 462.7 L56.2 461.3 L56.6 459.8 L56.9 458.4 L57.2 456.9 L57.4 455.4 L57.5 453.9 L57.7 452.4 L57.8 450.8 L58.0 449.3 L58.1 447.8 L58.3 446.3 L58.4 444.8 L58.6 443.3 L58.8 441.8 L58.9 440.2 L59.1 438.7 L59.3 437.2 L59.6 435.7 L59.9 434.2 L60.2 432.8 L60.7 431.3 L61.3 429.9 L62.2 428.6 L63.4 427.6 L64.7 427.9 L65.9 428.9 L66.9 430.1 L67.7 431.4 L68.5 432.7 L69.3 434.0 L70.1 435.3 L70.9 436.6 L71.6 437.9 L72.4 439.2 L73.1 440.6 L73.8 441.9 L74.6 443.2 L75.4 444.5 L76.2 445.7 L77.2 446.9 L78.1 448.1 L79.1 449.3 L80.1 450.4 L81.1 451.6 L82.1 452.7 L83.1 453.9 L84.1 455.0 L85.1 456.2 L86.1 457.3 L87.2 458.4 L88.3 459.4 L89.3 460.5 L90.5 461.5 L91.6 462.6 L92.7 463.6 L93.9 464.6 L95.0 465.5 L96.2 466.5 L97.4 467.4 L98.6 468.3 L99.9 469.2 L101.1 470.0 L102.4 470.9 L103.7 471.7 L105.0 472.4 L106.3 473.2 L107.6 473.9 L109.0 474.6 L110.3 475.3 L111.7 476.0 L113.1 476.7 L114.4 477.3 L115.8 478.0 L117.1 478.7 L118.5 479.4 L119.8 480.1 L121.2 480.9 L122.5 481.5 L123.9 482.2 L125.3 482.8 L126.7 483.4 L128.1 483.9 L129.5 484.4 L131.0 484.9 L132.4 485.4 L133.9 485.8 L135.3 486.3 L136.8 486.7 L138.2 487.1 L139.7 487.5 L141.2 487.9 L142.6 488.3 L144.1 488.6 L145.6 489.0 L147.1 489.3 L148.6 489.6 L150.1 489.9 L151.6 490.2 L153.0 490.5 L154.5 490.7 L156.0 491.0 L157.5 491.2 L159.0 491.5 L160.5 491.7 L162.0 491.9 L163.5 492.1 L165.0 492.4 L166.5 492.6 L168.1 492.7 L169.6 492.9 L171.1 493.1 L172.6 493.3 L174.1 493.4 L175.6 493.6 L177.1 493.7 L178.6 493.9 L180.1 494.0 L181.6 494.1 L183.2 494.3 L184.7 494.4 L186.2 494.5 L187.7 494.6 L189.2 494.8 L190.7 494.9 L192.2 495.0 L193.8 495.1 L195.3 495.2 L196.8 495.3 L198.3 495.4 L199.8 495.5 L201.3 495.6 L202.8 495.7 L204.4 495.8 L205.9 495.9 L207.4 496.0 L208.9 496.1" fill="none" stroke="#ff1a1a" stroke-width="1.20" stroke-linejoin="round"/>
<path d="M45.8 497.8 L46.2 496.7 L46.5 495.5 L46.9 494.4 M47.7 491.1 L48.0 489.9 L48.3 488.7 L48.5 487.5 M49.4 484.3 L49.7 483.1 L50.0 481.9 L50.3 480.8 M51.3 477.5 L51.6 476.3 L51.9 475.2 L52.3 474.0 M53.2 470.8 L53.6 469.6 L53.9 468.5 L54.2 467.5 M55.2 464.0 L55.6 462.9 L56.0 461.8 L56.3 460.8 M57.1 457.3 L57.3 456.1 L57.4 454.9 L57.5 453.9 M57.9 450.3 L58.0 449.1 L58.1 447.9 L58.2 446.9 M58.6 443.4 L58.7 442.2 L58.8 441.0 L59.0 440.0 M59.5 436.4 L59.7 435.2 L59.9 434.0 L60.1 433.1 M61.6 429.7 L62.4 428.7 L63.4 428.0 L64.2 428.0 M66.6 430.5 L67.3 431.5 L67.8 432.6 L68.3 433.5 M70.0 436.7 L70.5 437.8 L71.1 438.9 L71.5 439.7 M73.4 442.8 L74.1 443.8 L74.7 444.8 L75.3 445.7 M77.4 448.6 L78.1 449.6 L78.8 450.6 L79.3 451.4 M81.5 454.3 L82.2 455.3 L82.9 456.2 L83.6 457.0 M85.9 459.8 L86.7 460.7 L87.5 461.6 L88.1 462.3 M90.6 465.0 L91.4 465.8 L92.2 466.7 L93.0 467.4 M95.7 469.7 L96.6 470.5 L97.6 471.2 L98.4 471.8 M101.3 474.0 L102.3 474.6 L103.3 475.3 L104.1 475.9 M107.0 477.7 L107.9 478.5 L108.9 479.2 L109.7 479.8 M112.7 481.8 L113.7 482.5 L114.8 483.0 L115.8 483.5 M119.2 484.7 L120.3 485.1 L121.5 485.5 L122.5 485.8 M125.8 486.7 L126.9 487.1 L128.1 487.4 L129.0 487.7 M132.5 488.6 L133.7 488.9 L134.9 489.2 L135.8 489.4 M139.3 490.2 L140.5 490.4 L141.7 490.7 L142.7 490.9 M146.2 491.6 L147.4 491.8 L148.6 492.0 L149.6 492.2 M153.1 492.8 L154.3 493.0 L155.5 493.2 L156.5 493.3 M160.1 493.8 L161.3 494.0 L162.4 494.1 L163.4 494.3 M167.0 494.7 L168.2 494.8 L169.4 494.9 L170.4 495.0 M174.0 495.3 L175.2 495.4 L176.4 495.5 L177.4 495.6 M181.0 495.9 L182.2 496.0 L183.4 496.0 L184.4 496.1 M188.0 496.3 L189.2 496.3 L190.4 496.4 L191.4 496.5 M195.0 496.6 L196.2 496.7 L197.4 496.7 L198.4 496.8 M202.0 496.9 L203.2 497.0 L204.4 497.0 L205.4 497.1" fill="none" stroke="#ff1a1a" stroke-width="1.20" stroke-linejoin="round"/>
<path d="M45.8 497.8 L46.3 496.4 L46.7 494.9 L47.1 493.5 L47.5 492.0 L47.9 490.5 L48.2 489.0 L48.5 487.6 L48.9 486.1 L49.3 484.6 L49.7 483.2 L50.1 481.7 L50.5 480.3 L50.9 478.8 L51.3 477.4 L51.7 475.9 L52.1 474.5 L52.6 473.0 L53.0 471.5 L53.4 470.1 L53.8 468.7 L54.3 467.2 L54.7 465.8 L55.2 464.3 L55.6 462.9 L56.1 461.4 L56.6 460.0 L56.9 458.5 L57.1 457.0 L57.3 455.5 L57.4 454.0 L57.5 452.5 L57.6 451.0 L57.7 449.5 L57.8 448.0 L58.0 446.5 L58.1 445.0 L58.3 443.5 L58.4 441.9 L58.6 440.4 L58.8 438.9 L58.9 437.4 L59.1 435.9 L59.3 434.4 L59.4 432.9 L59.6 431.4 L59.8 429.9 L59.9 428.4 L60.1 426.9 L60.3 425.4 L60.4 423.9 L60.6 422.4 L60.7 420.9 L60.9 419.4 L61.0 417.9 L61.1 416.4 L61.3 414.9 L61.4 413.4 L61.6 411.9 L61.7 410.4 L61.9 408.9 L62.1 407.4 L62.2 405.8 L62.4 404.3 L62.6 402.8 L62.8 401.3 L63.0 399.9 L63.2 398.3 L63.5 396.8 L63.8 395.3 L64.1 393.9 L64.5 392.4 L65.1 391.0 L66.1 389.9 L67.4 389.3 L68.7 390.3 L69.5 391.5 L70.3 392.8 L70.9 394.2 L71.5 395.6 L72.1 397.0 L72.6 398.4 L73.2 399.8 L73.8 401.2 L74.3 402.6 L74.9 404.0 L75.4 405.4 L76.0 406.8 L76.5 408.2 L77.1 409.7 L77.6 411.1 L78.2 412.5 L78.8 413.9 L79.3 415.3 L79.9 416.7 L80.5 418.1 L81.1 419.4 L81.7 420.8 L82.3 422.2 L82.9 423.6 L83.5 425.0 L84.1 426.4 L84.7 427.8 L85.3 429.2 L85.9 430.5 L86.6 431.9 L87.3 433.2 L88.0 434.6 L88.8 435.9 L89.6 437.1 L90.4 438.4 L91.3 439.7 L92.1 440.9 L93.0 442.2 L93.8 443.4 L94.8 444.6 L95.7 445.8 L96.7 446.9 L97.7 448.0 L98.8 449.2 L99.8 450.3 L100.9 451.3 L102.0 452.4 L103.1 453.4 L104.2 454.3 L105.4 455.3 L106.7 456.2 L107.9 457.1 L109.1 458.0 L110.3 458.9 L111.5 459.9 L112.6 460.8 L113.8 461.7 L115.1 462.6 L116.3 463.5 L117.5 464.4 L118.8 465.3 L120.0 466.1 L121.3 467.0 L122.6 467.8 L123.8 468.6 L125.1 469.3 L126.5 470.0 L127.8 470.7 L129.1 471.4 L130.5 472.1 L131.9 472.7 L133.3 473.3 L134.7 473.9 L136.1 474.5 L137.5 475.0 L138.9 475.6 L140.3 476.1 L141.7 476.6 L143.2 477.2 L144.6 477.6 L146.0 478.1 L147.5 478.5 L148.9 478.9 L150.4 479.3 L151.9 479.7 L153.3 480.0 L154.8 480.4 L156.3 480.7 L157.8 481.0 L159.3 481.3 L160.7 481.6 L162.2 481.9 L163.7 482.2 L165.2 482.5 L166.7 482.7 L168.2 483.0 L169.7 483.2 L171.2 483.4 L172.7 483.7 L174.2 483.9 L175.7 484.1 L177.2 484.3 L178.7 484.5 L180.2 484.7 L181.7 484.8 L183.2 485.0 L184.7 485.2 L186.2 485.3 L187.7 485.5 L189.2 485.6 L190.7 485.8 L192.2 485.9 L193.7 486.0 L195.2 486.2 L196.7 486.3 L198.2 486.4 L199.7 486.5 L201.2 486.6 L202.7 486.8 L204.2 486.9 L205.8 487.0 L207.3 487.1 L208.8 487.2 L210.3 487.3 L211.8 487.4 L213.3 487.5" fill="none" stroke="#111111" stroke-width="1.20" stroke-linejoin="round"/>
<path d="M45.8 497.8 L46.2 496.7 L46.5 495.5 L46.9 494.4 M47.7 491.1 L48.0 489.9 L48.3 488.7 L48.5 487.6 M49.4 484.3 L49.7 483.1 L50.0 481.9 L50.3 480.8 M51.3 477.5 L51.6 476.3 L51.9 475.2 L52.2 474.0 M53.2 470.8 L53.6 469.6 L53.9 468.5 L54.2 467.3 M55.2 464.1 L55.6 462.9 L56.0 461.8 L56.3 460.8 M57.1 457.3 L57.2 456.1 L57.3 455.0 L57.4 453.8 M57.7 450.4 L57.8 449.1 L57.8 447.9 L57.9 446.9 M58.3 443.4 L58.4 442.2 L58.5 441.0 L58.7 440.0 M59.1 436.4 L59.2 435.2 L59.3 434.0 L59.4 433.0 M59.8 429.4 L60.0 428.2 L60.1 427.0 L60.2 426.0 M60.6 422.5 L60.7 421.3 L60.8 420.1 L60.9 419.1 M61.2 415.5 L61.4 414.3 L61.5 413.1 L61.6 412.1 M62.0 408.5 L62.1 407.3 L62.2 406.1 L62.4 405.1 M62.8 401.6 L63.0 400.4 L63.2 399.2 L63.4 398.2 M64.2 394.6 L64.5 393.5 L65.0 392.3 L65.4 391.6 M67.9 392.5 L68.4 393.6 L68.8 394.8 L69.2 395.7 M70.5 399.1 L70.9 400.2 L71.3 401.3 L71.6 402.3 M72.7 405.7 L73.1 406.8 L73.5 408.0 L73.8 408.9 M74.9 412.4 L75.3 413.5 L75.7 414.6 L76.1 415.6 M77.3 418.9 L77.8 420.1 L78.2 421.2 L78.6 422.1 M79.9 425.5 L80.4 426.6 L80.8 427.7 L81.2 428.6 M82.6 431.9 L83.1 433.0 L83.6 434.1 L84.1 435.0 M85.6 438.3 L86.1 439.3 L86.6 440.4 L87.1 441.3 M88.7 444.5 L89.4 445.5 L90.1 446.5 L90.7 447.3 M93.1 450.0 L93.9 450.9 L94.8 451.8 L95.5 452.5 M98.1 454.9 L99.0 455.7 L99.9 456.5 L100.7 457.1 M103.5 459.3 L104.5 460.1 L105.5 460.8 L106.3 461.3 M109.2 463.5 L110.2 464.2 L111.1 464.9 L111.9 465.6 M114.9 467.5 L115.9 468.1 L117.0 468.7 L117.9 469.1 M121.2 470.7 L122.3 471.1 L123.4 471.6 L124.3 472.0 M127.5 473.3 L128.6 473.8 L129.7 474.2 L130.8 474.6 M134.0 475.8 L135.1 476.2 L136.3 476.6 L137.4 477.0 M140.7 478.0 L141.8 478.3 L143.0 478.7 L144.1 479.0 M147.4 479.8 L148.6 480.1 L149.8 480.4 L150.7 480.6 M154.3 481.4 L155.4 481.7 L156.6 481.9 L157.6 482.1 M161.1 482.8 L162.3 483.0 L163.5 483.2 L164.5 483.3 M168.0 483.9 L169.2 484.1 L170.4 484.2 L171.4 484.4 M175.0 484.8 L176.2 484.9 L177.4 485.1 L178.4 485.2 M182.0 485.6 L183.2 485.7 L184.3 485.8 L185.3 485.9 M188.9 486.3 L190.1 486.4 L191.3 486.5 L192.3 486.6 M195.9 486.9 L197.1 486.9 L198.3 487.0 L199.3 487.1 M202.9 487.3 L204.1 487.3 L205.3 487.4 L206.3 487.5 M209.9 487.7 L211.1 487.8 L212.3 487.8 L213.3 487.9" fill="none" stroke="#111111" stroke-width="1.20" stroke-linejoin="round"/>
<rect x="120.9" y="374.7" width="121.7" height="60.2" fill="#fff"/>
<line x1="121.7" y1="377.9" x2="149.5" y2="377.9" stroke="#1f1fff" stroke-width="1.2"/>
<text x="155.4" y="380.2" class="lg" transform="rotate(0.03 155.4 380.2)">C, C-terminated, T=700 K</text>
<line x1="121.7" y1="385.4" x2="146.5" y2="385.4" stroke="#1f1fff" stroke-width="1.2" stroke-dasharray="3.5 3.7"/>
<text x="155.4" y="387.8" class="lg" transform="rotate(0.03 155.4 387.8)">C, Si-terminated, T=700 K</text>
<line x1="121.7" y1="393.0" x2="149.5" y2="393.0" stroke="#00b050" stroke-width="1.2"/>
<text x="155.4" y="395.3" class="lg" transform="rotate(0.03 155.4 395.3)">C, C-terminated, T=800 K</text>
<line x1="121.7" y1="400.5" x2="146.5" y2="400.5" stroke="#00b050" stroke-width="1.2" stroke-dasharray="3.5 3.7"/>
<text x="155.4" y="402.8" class="lg" transform="rotate(0.03 155.4 402.8)">C, Si-terminated, T=800 K</text>
<line x1="121.7" y1="408.1" x2="149.5" y2="408.1" stroke="#ff1a1a" stroke-width="1.2"/>
<text x="155.4" y="410.4" class="lg" transform="rotate(0.03 155.4 410.4)">C, C-terminated, T=900 K</text>
<line x1="121.7" y1="415.6" x2="146.5" y2="415.6" stroke="#ff1a1a" stroke-width="1.2" stroke-dasharray="3.5 3.7"/>
<text x="155.4" y="417.9" class="lg" transform="rotate(0.03 155.4 417.9)">C, Si-terminated, T=900 K</text>
<line x1="121.7" y1="423.2" x2="149.5" y2="423.2" stroke="#111111" stroke-width="1.2"/>
<text x="155.4" y="425.5" class="lg" transform="rotate(0.03 155.4 425.5)">C, C-terminated, T=1000 K</text>
<line x1="121.7" y1="430.8" x2="146.5" y2="430.8" stroke="#111111" stroke-width="1.2" stroke-dasharray="3.5 3.7"/>
<text x="155.4" y="433.1" class="lg" transform="rotate(0.03 155.4 433.1)">C, Si-terminated, T=1000 K</text>
<path d="M305.0 373.6 V513.8 H487.5" fill="none" stroke="#4c4c4c" stroke-width="1.25"/>
<line x1="305.0" y1="513.8" x2="305.0" y2="510.0" stroke="#4c4c4c" stroke-width="1"/>
<text x="305.0" y="522.0" class="tk" text-anchor="middle" transform="rotate(0.03 305.0 522.0)">0</text>
<line x1="350.5" y1="513.8" x2="350.5" y2="510.0" stroke="#4c4c4c" stroke-width="1"/>
<text x="350.5" y="522.0" class="tk" text-anchor="middle" transform="rotate(0.03 350.5 522.0)">2</text>
<line x1="396.0" y1="513.8" x2="396.0" y2="510.0" stroke="#4c4c4c" stroke-width="1"/>
<text x="396.0" y="522.0" class="tk" text-anchor="middle" transform="rotate(0.03 396.0 522.0)">4</text>
<line x1="441.6" y1="513.8" x2="441.6" y2="510.0" stroke="#4c4c4c" stroke-width="1"/>
<text x="441.6" y="522.0" class="tk" text-anchor="middle" transform="rotate(0.03 441.6 522.0)">6</text>
<line x1="487.1" y1="513.8" x2="487.1" y2="510.0" stroke="#4c4c4c" stroke-width="1"/>
<text x="487.1" y="522.0" class="tk" text-anchor="middle" transform="rotate(0.03 487.1 522.0)">8</text>
<line x1="305.0" y1="513.8" x2="308.8" y2="513.8" stroke="#4c4c4c" stroke-width="1"/>
<text x="302.6" y="516.5" class="tk" text-anchor="end" transform="rotate(0.03 302.6 516.5)">0</text>
<line x1="305.0" y1="478.8" x2="308.8" y2="478.8" stroke="#4c4c4c" stroke-width="1"/>
<text x="302.6" y="481.6" class="tk" text-anchor="end" transform="rotate(0.03 302.6 481.6)">0.005</text>
<line x1="305.0" y1="443.9" x2="308.8" y2="443.9" stroke="#4c4c4c" stroke-width="1"/>
<text x="302.6" y="446.6" class="tk" text-anchor="end" transform="rotate(0.03 302.6 446.6)">0.01</text>
<line x1="305.0" y1="408.9" x2="308.8" y2="408.9" stroke="#4c4c4c" stroke-width="1"/>
<text x="302.6" y="411.7" class="tk" text-anchor="end" transform="rotate(0.03 302.6 411.7)">0.015</text>
<line x1="305.0" y1="374.0" x2="308.8" y2="374.0" stroke="#4c4c4c" stroke-width="1"/>
<text x="302.6" y="376.8" class="tk" text-anchor="end" transform="rotate(0.03 302.6 376.8)">0.02</text>
<line x1="316.4" y1="513.8" x2="316.4" y2="512.0" stroke="#4c4c4c" stroke-width="0.6" opacity="0.6"/>
<line x1="327.8" y1="513.8" x2="327.8" y2="512.0" stroke="#4c4c4c" stroke-width="0.6" opacity="0.6"/>
<line x1="339.1" y1="513.8" x2="339.1" y2="512.0" stroke="#4c4c4c" stroke-width="0.6" opacity="0.6"/>
<line x1="361.9" y1="513.8" x2="361.9" y2="512.0" stroke="#4c4c4c" stroke-width="0.6" opacity="0.6"/>
<line x1="373.3" y1="513.8" x2="373.3" y2="512.0" stroke="#4c4c4c" stroke-width="0.6" opacity="0.6"/>
<line x1="384.7" y1="513.8" x2="384.7" y2="512.0" stroke="#4c4c4c" stroke-width="0.6" opacity="0.6"/>
<line x1="407.4" y1="513.8" x2="407.4" y2="512.0" stroke="#4c4c4c" stroke-width="0.6" opacity="0.6"/>
<line x1="418.8" y1="513.8" x2="418.8" y2="512.0" stroke="#4c4c4c" stroke-width="0.6" opacity="0.6"/>
<line x1="430.2" y1="513.8" x2="430.2" y2="512.0" stroke="#4c4c4c" stroke-width="0.6" opacity="0.6"/>
<line x1="452.9" y1="513.8" x2="452.9" y2="512.0" stroke="#4c4c4c" stroke-width="0.6" opacity="0.6"/>
<line x1="464.3" y1="513.8" x2="464.3" y2="512.0" stroke="#4c4c4c" stroke-width="0.6" opacity="0.6"/>
<line x1="475.7" y1="513.8" x2="475.7" y2="512.0" stroke="#4c4c4c" stroke-width="0.6" opacity="0.6"/>
<line x1="305.0" y1="506.8" x2="306.8" y2="506.8" stroke="#4c4c4c" stroke-width="0.6" opacity="0.6"/>
<line x1="305.0" y1="499.8" x2="306.8" y2="499.8" stroke="#4c4c4c" stroke-width="0.6" opacity="0.6"/>
<line x1="305.0" y1="492.8" x2="306.8" y2="492.8" stroke="#4c4c4c" stroke-width="0.6" opacity="0.6"/>
<line x1="305.0" y1="485.8" x2="306.8" y2="485.8" stroke="#4c4c4c" stroke-width="0.6" opacity="0.6"/>
<line x1="305.0" y1="471.9" x2="306.8" y2="471.9" stroke="#4c4c4c" stroke-width="0.6" opacity="0.6"/>
<line x1="305.0" y1="464.9" x2="306.8" y2="464.9" stroke="#4c4c4c" stroke-width="0.6" opacity="0.6"/>
<line x1="305.0" y1="457.9" x2="306.8" y2="457.9" stroke="#4c4c4c" stroke-width="0.6" opacity="0.6"/>
<line x1="305.0" y1="450.9" x2="306.8" y2="450.9" stroke="#4c4c4c" stroke-width="0.6" opacity="0.6"/>
<line x1="305.0" y1="436.9" x2="306.8" y2="436.9" stroke="#4c4c4c" stroke-width="0.6" opacity="0.6"/>
<line x1="305.0" y1="429.9" x2="306.8" y2="429.9" stroke="#4c4c4c" stroke-width="0.6" opacity="0.6"/>
<line x1="305.0" y1="422.9" x2="306.8" y2="422.9" stroke="#4c4c4c" stroke-width="0.6" opacity="0.6"/>
<line x1="305.0" y1="415.9" x2="306.8" y2="415.9" stroke="#4c4c4c" stroke-width="0.6" opacity="0.6"/>
<line x1="305.0" y1="402.0" x2="306.8" y2="402.0" stroke="#4c4c4c" stroke-width="0.6" opacity="0.6"/>
<line x1="305.0" y1="395.0" x2="306.8" y2="395.0" stroke="#4c4c4c" stroke-width="0.6" opacity="0.6"/>
<line x1="305.0" y1="388.0" x2="306.8" y2="388.0" stroke="#4c4c4c" stroke-width="0.6" opacity="0.6"/>
<line x1="305.0" y1="381.0" x2="306.8" y2="381.0" stroke="#4c4c4c" stroke-width="0.6" opacity="0.6"/>
<text x="377.0" y="531.0" class="lb" transform="rotate(0.03 377.0 531.0)">Time (ns)</text>
<text transform="translate(272.0 443.9) rotate(-90.03)" class="lb" text-anchor="middle">D <tspan class="x">×</tspan>10<tspan class="sup" dy="-4">−10</tspan><tspan dy="4"> (m</tspan><tspan class="sup" dy="-4">2</tspan><tspan dy="4">/s)</tspan></text>
<path d="M305.2 513.4 L305.2 511.9 L305.2 510.4 L305.2 508.9 L305.2 507.3 L305.2 505.8 L305.3 504.3 L305.3 502.8 L305.3 501.3 L305.3 499.8 L305.3 498.3 L305.4 496.7 L305.4 495.2 L305.5 493.7 L305.6 492.2 L305.9 490.8 L306.4 489.3 L306.9 487.9 L307.5 486.5 L308.1 485.1 L308.6 483.6 L309.0 482.2 L309.5 480.7 L309.9 479.3 L310.3 477.8 L310.8 476.4 L311.2 474.9 L311.7 473.5 L312.1 472.0 L312.6 470.6 L313.1 469.2 L313.7 467.8 L314.3 466.4 L314.8 464.9 L315.7 463.7 L316.8 463.8 L317.7 465.1 L318.5 466.4 L319.3 467.7 L320.2 468.9 L321.1 470.1 L322.0 471.3 L323.0 472.5 L323.9 473.7 L324.9 474.8 L325.9 476.0 L326.9 477.1 L327.9 478.2 L329.0 479.3 L330.1 480.4 L331.1 481.4 L332.2 482.5 L333.3 483.5 L334.5 484.5 L335.6 485.5 L336.8 486.5 L338.0 487.5 L339.2 488.4 L340.4 489.3 L341.7 490.1 L343.0 490.8 L344.3 491.5 L345.7 492.2 L347.0 492.9 L348.5 493.4 L349.9 494.0 L351.3 494.5 L352.7 494.9 L354.2 495.3 L355.7 495.7 L357.1 496.1 L358.6 496.4 L360.1 496.7 L361.6 497.0 L363.1 497.3 L364.6 497.5 L366.1 497.8 L367.6 498.0 L369.1 498.1 L370.6 498.3 L372.1 498.4 L373.6 498.5 L375.1 498.7 L376.6 498.9 L378.1 499.1 L379.6 499.3 L381.1 499.5 L382.6 499.8 L384.1 500.0 L385.6 500.3 L387.1 500.5 L388.6 500.7 L390.1 501.0 L391.6 501.2 L393.1 501.4 L394.6 501.6 L396.1 501.8 L397.6 502.0 L399.1 502.2 L400.6 502.4 L402.1 502.5 L403.6 502.7 L405.1 502.8 L406.6 503.0 L408.1 503.1 L409.6 503.2 L411.1 503.4 L412.6 503.5 L414.1 503.7 L415.6 503.8 L417.1 503.9 L418.7 504.0 L420.2 504.1 L421.7 504.2 L423.2 504.2 L424.7 504.3 L426.2 504.3 L427.7 504.4 L429.2 504.4 L430.8 504.5 L432.3 504.5 L433.8 504.6 L435.3 504.7 L436.8 504.7 L438.3 504.8 L439.8 504.8 L441.3 504.9 L442.9 504.9 L444.4 505.0 L445.9 505.0 L447.4 505.1 L448.9 505.1 L450.4 505.2 L451.9 505.2 L453.4 505.2 L455.0 505.3 L456.5 505.3 L458.0 505.4 L459.5 505.4" fill="none" stroke="#1f1fff" stroke-width="1.20" stroke-linejoin="round"/>
<path d="M305.2 513.4 L305.2 512.2 L305.2 511.0 L305.2 509.8 M305.2 506.4 L305.2 505.2 L305.3 504.0 L305.3 502.8 M305.3 499.4 L305.3 498.2 L305.4 497.0 L305.4 495.9 M305.6 492.4 L305.8 491.2 L306.1 490.1 L306.5 488.9 M307.8 485.7 L308.3 484.6 L308.6 483.4 L308.9 482.5 M310.0 479.0 L310.3 477.9 L310.6 476.7 L310.9 475.8 M312.1 472.3 L312.4 471.2 L312.8 470.1 L313.2 469.1 M314.5 465.7 L315.0 464.6 L315.7 463.6 L316.5 463.4 M318.5 466.3 L319.1 467.3 L319.8 468.3 L320.5 469.3 M322.6 472.0 L323.3 472.9 L324.1 473.9 L324.7 474.6 M327.1 477.3 L327.9 478.2 L328.8 479.1 L329.5 479.8 M332.0 482.3 L332.9 483.1 L333.8 483.9 L334.6 484.6 M337.4 486.9 L338.3 487.6 L339.3 488.3 L340.1 488.9 M343.2 490.8 L344.3 491.3 L345.3 491.9 L346.3 492.3 M349.6 493.7 L350.7 494.1 L351.9 494.5 L352.8 494.8 M356.3 495.7 L357.5 496.0 L358.6 496.3 L359.6 496.5 M363.2 497.2 L364.3 497.4 L365.5 497.6 L366.5 497.7 M370.1 498.1 L371.3 498.2 L372.5 498.3 L373.5 498.4 M377.1 498.7 L378.3 498.9 L379.5 499.1 L380.5 499.2 M383.8 499.8 L385.0 500.0 L386.2 500.2 L387.4 500.4 M390.8 500.8 L392.0 501.0 L393.1 501.2 L394.3 501.3 M397.7 501.8 L398.9 501.9 L400.1 502.0 L401.3 502.2 M404.7 502.6 L405.9 502.7 L407.1 502.8 L408.1 502.9 M411.7 503.2 L412.9 503.3 L414.1 503.4 L415.1 503.5 M418.7 503.8 L419.9 503.9 L421.1 503.9 L422.1 504.0 M425.7 504.2 L426.9 504.2 L428.1 504.3 L429.1 504.3 M432.7 504.5 L433.9 504.5 L435.1 504.5 L436.1 504.6 M439.7 504.7 L440.9 504.8 L442.1 504.8 L443.1 504.8 M446.7 504.9 L447.9 505.0 L449.1 505.0 L450.1 505.0 M453.7 505.1 L454.9 505.2 L456.1 505.2 L457.1 505.2" fill="none" stroke="#1f1fff" stroke-width="1.20" stroke-linejoin="round"/>
<path d="M305.2 513.4 L305.2 511.9 L305.2 510.4 L305.2 508.9 L305.2 507.4 L305.2 505.8 L305.3 504.3 L305.3 502.8 L305.3 501.3 L305.3 499.8 L305.3 498.3 L305.4 496.7 L305.4 495.2 L305.5 493.7 L305.6 492.3 L305.9 490.8 L306.3 489.4 L306.9 487.9 L307.5 486.5 L308.1 485.1 L308.6 483.7 L309.0 482.2 L309.5 480.8 L309.9 479.3 L310.3 477.9 L310.8 476.4 L311.2 475.0 L311.7 473.5 L312.1 472.1 L312.6 470.7 L313.1 469.2 L313.7 467.8 L314.2 466.4 L314.6 465.0 L315.1 463.5 L315.5 462.1 L315.9 460.6 L316.3 459.1 L316.7 457.7 L317.1 456.2 L317.5 454.8 L317.9 453.2 L318.5 451.8 L319.4 450.7 L320.8 450.6 L322.0 451.4 L323.0 452.6 L323.9 453.9 L324.7 455.2 L325.5 456.5 L326.3 457.8 L327.0 459.1 L327.9 460.3 L328.7 461.6 L329.6 462.8 L330.5 464.1 L331.4 465.3 L332.3 466.5 L333.2 467.7 L334.2 468.8 L335.2 470.0 L336.2 471.0 L337.3 472.1 L338.5 473.1 L339.6 474.1 L340.8 475.0 L342.0 476.0 L343.2 476.8 L344.5 477.7 L345.8 478.5 L347.1 479.3 L348.4 480.1 L349.7 480.8 L351.1 481.4 L352.4 482.0 L353.8 482.6 L355.3 483.1 L356.7 483.6 L358.1 484.2 L359.5 484.7 L361.0 485.2 L362.4 485.7 L363.8 486.1 L365.3 486.6 L366.7 487.0 L368.2 487.5 L369.6 487.9 L371.1 488.3 L372.5 488.7 L374.0 489.1 L375.4 489.5 L376.9 489.9 L378.3 490.4 L379.8 490.8 L381.3 491.2 L382.7 491.6 L384.2 491.9 L385.7 492.3 L387.1 492.6 L388.6 492.9 L390.1 493.2 L391.6 493.5 L393.1 493.8 L394.6 494.0 L396.1 494.3 L397.5 494.5 L399.0 494.7 L400.5 494.9 L402.0 495.1 L403.5 495.3 L405.0 495.5 L406.5 495.6 L408.1 495.8 L409.6 495.9 L411.1 496.1 L412.6 496.2 L414.1 496.3 L415.6 496.5 L417.1 496.6 L418.6 496.7 L420.1 496.8 L421.6 496.9 L423.1 497.0 L424.6 497.1 L426.1 497.1 L427.7 497.2 L429.2 497.3 L430.7 497.4 L432.2 497.5 L433.7 497.6 L435.2 497.7 L436.7 497.8 L438.2 497.9 L439.7 498.0 L441.2 498.0 L442.7 498.1 L444.3 498.2 L445.8 498.2 L447.3 498.3 L448.8 498.3 L450.3 498.4 L451.8 498.4 L453.3 498.5 L454.8 498.6 L456.3 498.6 L457.9 498.7 L459.4 498.8 L460.9 498.8 L462.4 498.9 L463.9 499.0" fill="none" stroke="#00b050" stroke-width="1.20" stroke-linejoin="round"/>
<path d="M305.2 513.4 L305.2 512.2 L305.2 511.0 L305.2 509.8 M305.2 506.4 L305.2 505.2 L305.3 504.0 L305.3 502.8 M305.3 499.4 L305.3 498.2 L305.4 497.0 L305.4 496.0 M305.6 492.4 L305.8 491.2 L306.1 490.1 L306.5 489.0 M307.8 485.8 L308.3 484.6 L308.6 483.5 L308.9 482.5 M310.0 479.1 L310.3 477.9 L310.6 476.8 L310.9 475.8 M312.0 472.4 L312.4 471.2 L312.8 470.1 L313.2 469.2 M314.4 465.8 L314.7 464.6 L315.1 463.5 L315.4 462.5 M316.3 459.0 L316.6 457.9 L316.9 456.7 L317.2 455.8 M318.2 452.4 L318.7 451.4 L319.6 450.5 L320.8 450.5 M323.6 452.4 L324.4 453.2 L325.2 454.2 L325.9 455.1 M328.0 457.9 L328.7 458.8 L329.5 459.7 L330.2 460.7 M332.4 463.3 L333.1 464.3 L333.8 465.2 L334.6 466.2 M336.8 468.7 L337.6 469.6 L338.5 470.5 L339.2 471.3 M341.8 473.7 L342.7 474.4 L343.7 475.1 L344.7 475.8 M347.6 477.5 L348.7 478.1 L349.8 478.7 L350.7 479.1 M353.9 480.7 L355.0 481.2 L356.1 481.7 L357.0 482.1 M360.4 483.3 L361.6 483.6 L362.7 484.0 L363.7 484.3 M367.1 485.2 L368.3 485.6 L369.5 485.9 L370.4 486.1 M373.9 487.0 L375.1 487.3 L376.3 487.6 L377.2 487.8 M380.7 488.7 L381.9 489.0 L383.1 489.3 L384.0 489.5 M387.6 490.2 L388.8 490.4 L389.9 490.6 L390.9 490.8 M394.5 491.4 L395.7 491.6 L396.9 491.7 L397.9 491.9 M401.4 492.3 L402.6 492.5 L403.8 492.6 L404.8 492.7 M408.4 493.1 L409.6 493.3 L410.8 493.4 L411.8 493.5 M415.4 493.8 L416.6 494.0 L417.7 494.1 L418.7 494.2 M422.3 494.5 L423.5 494.6 L424.7 494.7 L425.7 494.8 M429.3 495.1 L430.5 495.2 L431.7 495.2 L432.7 495.3 M436.3 495.5 L437.5 495.6 L438.7 495.7 L439.7 495.7 M443.3 496.0 L444.5 496.0 L445.7 496.1 L446.7 496.2 M450.3 496.3 L451.5 496.4 L452.7 496.5 L453.7 496.5 M457.1 496.7 L458.3 496.7 L459.5 496.8 L460.7 496.9" fill="none" stroke="#00b050" stroke-width="1.20" stroke-linejoin="round"/>
<path d="M305.2 513.4 L305.2 511.9 L305.2 510.4 L305.2 508.9 L305.2 507.3 L305.2 505.8 L305.3 504.3 L305.3 502.8 L305.3 501.3 L305.3 499.8 L305.3 498.3 L305.4 496.7 L305.4 495.2 L305.5 493.7 L305.6 492.2 L305.9 490.8 L306.4 489.3 L306.9 487.9 L307.5 486.5 L308.1 485.1 L308.6 483.6 L309.0 482.2 L309.5 480.7 L309.9 479.3 L310.3 477.8 L310.8 476.4 L311.2 474.9 L311.7 473.5 L312.2 472.0 L312.7 470.6 L313.2 469.2 L313.7 467.8 L314.2 466.3 L314.6 464.9 L315.1 463.5 L315.6 462.0 L316.0 460.6 L316.4 459.1 L316.8 457.6 L317.1 456.2 L317.3 454.7 L317.5 453.2 L317.7 451.7 L317.8 450.2 L318.0 448.6 L318.1 447.1 L318.3 445.6 L318.5 444.1 L318.7 442.6 L318.9 441.1 L319.1 439.6 L319.4 438.1 L319.7 436.6 L320.0 435.2 L320.4 433.7 L320.8 432.2 L321.4 430.8 L322.2 429.4 L323.1 428.4 L324.6 427.7 L326.0 427.5 L327.4 428.0 L328.8 429.0 L329.9 429.9 L330.9 431.0 L331.9 432.2 L332.8 433.4 L333.8 434.6 L334.7 435.8 L335.6 437.1 L336.5 438.2 L337.5 439.4 L338.6 440.5 L339.6 441.6 L340.6 442.7 L341.7 443.8 L342.7 444.9 L343.8 446.0 L344.8 447.1 L345.8 448.2 L346.8 449.3 L347.8 450.4 L348.9 451.6 L349.9 452.7 L350.9 453.8 L352.0 454.9 L353.1 455.9 L354.1 457.0 L355.2 458.0 L356.3 459.1 L357.5 460.1 L358.6 461.1 L359.7 462.1 L360.9 463.1 L362.0 464.0 L363.2 465.0 L364.4 466.0 L365.6 466.9 L366.8 467.8 L368.0 468.7 L369.3 469.5 L370.6 470.3 L371.9 471.1 L373.2 471.8 L374.6 472.4 L376.0 473.1 L377.3 473.7 L378.7 474.4 L380.1 475.0 L381.5 475.6 L382.8 476.3 L384.2 476.9 L385.6 477.4 L387.0 478.0 L388.4 478.6 L389.8 479.1 L391.3 479.7 L392.7 480.2 L394.1 480.7 L395.5 481.2 L397.0 481.7 L398.4 482.1 L399.9 482.5 L401.4 482.9 L402.8 483.2 L404.3 483.6 L405.8 483.9 L407.3 484.2 L408.7 484.5 L410.2 484.8 L411.7 485.2 L413.2 485.5 L414.7 485.8 L416.2 486.1 L417.6 486.3 L419.1 486.6 L420.6 486.9 L422.1 487.1 L423.6 487.3 L425.1 487.6 L426.6 487.8 L428.1 488.0 L429.6 488.2 L431.1 488.4 L432.6 488.6 L434.1 488.8 L435.6 489.0 L437.1 489.1 L438.6 489.3 L440.1 489.5 L441.6 489.6 L443.1 489.8 L444.6 489.9 L446.2 490.1 L447.7 490.2 L449.2 490.3 L450.7 490.4 L452.2 490.5 L453.7 490.6 L455.2 490.7 L456.7 490.8 L458.2 490.9 L459.8 490.9 L461.3 491.0 L462.8 491.1 L464.3 491.2 L465.8 491.3 L467.3 491.5 L468.8 491.7" fill="none" stroke="#ff1a1a" stroke-width="1.20" stroke-linejoin="round"/>
<path d="M305.2 513.4 L305.2 512.2 L305.2 511.0 L305.2 509.8 M305.2 506.4 L305.2 505.2 L305.3 504.0 L305.3 502.8 M305.3 499.4 L305.3 498.2 L305.4 497.0 L305.4 496.0 M305.6 492.4 L305.8 491.2 L306.1 490.1 L306.5 489.0 M307.8 485.7 L308.3 484.6 L308.6 483.5 L308.9 482.5 M310.0 479.1 L310.3 477.9 L310.6 476.8 L310.9 475.8 M312.0 472.4 L312.4 471.2 L312.8 470.1 L313.2 469.2 M314.4 465.7 L314.7 464.6 L315.1 463.5 L315.4 462.5 M316.4 459.0 L316.7 457.9 L317.0 456.7 L317.1 455.7 M317.6 452.2 L317.7 451.0 L317.9 449.8 L318.0 448.8 M318.4 445.2 L318.5 444.0 L318.7 442.8 L318.8 441.8 M319.3 438.2 L319.4 437.0 L319.6 435.8 L319.8 434.9 M320.5 431.3 L320.8 430.1 L321.1 429.0 L321.4 428.1 M323.7 425.6 L324.9 425.4 L326.1 425.7 L327.0 426.0 M329.6 428.6 L330.2 429.6 L330.8 430.6 L331.2 431.5 M332.9 434.7 L333.5 435.8 L334.1 436.8 L334.6 437.7 M336.3 440.9 L336.9 441.9 L337.5 442.9 L338.1 443.8 M340.3 446.6 L341.1 447.5 L341.9 448.4 L342.6 449.1 M344.8 452.0 L345.5 452.9 L346.2 453.9 L346.8 454.7 M348.9 457.6 L349.7 458.6 L350.4 459.6 L351.0 460.3 M353.3 463.1 L354.1 464.0 L355.0 464.8 L355.7 465.6 M358.2 467.9 L359.1 468.6 L360.0 469.4 L361.0 470.1 M363.8 472.1 L364.8 472.8 L365.8 473.4 L366.8 474.0 M369.9 475.5 L371.0 475.9 L372.1 476.4 L373.2 476.9 M376.4 478.2 L377.5 478.6 L378.6 479.1 L379.5 479.5 M382.9 480.9 L384.0 481.3 L385.1 481.8 L386.0 482.1 M389.5 483.1 L390.6 483.5 L391.8 483.8 L392.8 484.0 M396.3 484.9 L397.4 485.2 L398.6 485.4 L399.6 485.6 M403.1 486.4 L404.3 486.6 L405.5 486.9 L406.5 487.0 M410.0 487.6 L411.2 487.8 L412.4 488.0 L413.4 488.1 M417.0 488.6 L418.2 488.7 L419.3 488.9 L420.3 489.0 M423.9 489.5 L425.1 489.6 L426.3 489.8 L427.3 489.9 M430.9 490.4 L432.1 490.5 L433.3 490.6 L434.3 490.7 M437.8 491.1 L439.0 491.2 L440.2 491.3 L441.2 491.4 M444.8 491.7 L446.0 491.8 L447.2 491.9 L448.2 492.0 M451.8 492.3 L453.0 492.4 L454.2 492.5 L455.2 492.5 M458.8 492.7 L460.0 492.8 L461.2 492.8 L462.2 492.9 M465.8 493.1 L467.0 493.2 L467.8 493.2" fill="none" stroke="#ff1a1a" stroke-width="1.20" stroke-linejoin="round"/>
<path d="M305.2 513.4 L305.2 511.9 L305.2 510.4 L305.2 508.9 L305.2 507.4 L305.2 505.8 L305.3 504.3 L305.3 502.8 L305.3 501.3 L305.3 499.8 L305.3 498.3 L305.4 496.8 L305.4 495.2 L305.5 493.7 L305.6 492.3 L305.9 490.8 L306.3 489.4 L306.9 488.0 L307.5 486.5 L308.1 485.1 L308.6 483.7 L309.0 482.2 L309.4 480.8 L309.9 479.3 L310.3 477.9 L310.7 476.4 L311.2 475.0 L311.7 473.5 L312.1 472.1 L312.6 470.7 L313.1 469.3 L313.6 467.8 L314.1 466.4 L314.6 465.0 L315.1 463.5 L315.6 462.1 L316.1 460.7 L316.5 459.2 L316.9 457.8 L317.1 456.3 L317.3 454.8 L317.4 453.3 L317.5 451.8 L317.7 450.3 L317.8 448.7 L317.9 447.2 L318.0 445.7 L318.2 444.2 L318.3 442.7 L318.5 441.2 L318.7 439.7 L318.9 438.2 L319.0 436.7 L319.2 435.2 L319.4 433.7 L319.5 432.2 L319.7 430.7 L319.9 429.2 L320.0 427.7 L320.2 426.2 L320.3 424.7 L320.5 423.2 L320.6 421.7 L320.8 420.2 L320.9 418.7 L321.0 417.2 L321.1 415.7 L321.3 414.1 L321.4 412.6 L321.5 411.1 L321.7 409.6 L321.8 408.1 L321.9 406.6 L322.1 405.1 L322.2 403.6 L322.3 402.1 L322.5 400.6 L322.6 399.1 L322.8 397.6 L322.9 396.1 L323.1 394.6 L323.3 393.1 L323.5 391.6 L323.7 390.1 L324.0 388.6 L324.3 387.1 L324.7 385.6 L325.3 384.3 L326.5 383.3 L327.8 384.1 L328.7 385.2 L329.5 386.6 L330.1 387.9 L330.7 389.3 L331.3 390.7 L331.9 392.1 L332.4 393.5 L332.9 395.0 L333.4 396.4 L333.9 397.8 L334.4 399.2 L335.0 400.7 L335.5 402.1 L336.0 403.5 L336.5 404.9 L337.1 406.3 L337.6 407.7 L338.2 409.1 L338.8 410.5 L339.4 411.9 L340.0 413.3 L340.6 414.7 L341.3 416.0 L341.9 417.4 L342.6 418.8 L343.2 420.1 L343.9 421.5 L344.5 422.9 L345.2 424.2 L345.8 425.6 L346.5 426.9 L347.2 428.3 L348.0 429.6 L348.7 430.9 L349.5 432.2 L350.3 433.5 L351.1 434.8 L351.9 436.0 L352.8 437.3 L353.7 438.5 L354.6 439.7 L355.6 440.8 L356.7 441.9 L357.8 442.9 L359.0 443.8 L360.2 444.7 L361.4 445.6 L362.7 446.5 L363.9 447.4 L365.2 448.2 L366.5 448.9 L367.8 449.6 L369.2 450.3 L370.6 450.9 L372.0 451.5 L373.4 452.1 L374.7 452.7 L376.1 453.4 L377.5 454.0 L378.8 454.7 L380.2 455.4 L381.5 456.1 L382.9 456.7 L384.2 457.4 L385.6 458.1 L386.9 458.8 L388.3 459.4 L389.6 460.1 L391.0 460.7 L392.4 461.4 L393.8 462.0 L395.1 462.7 L396.5 463.3 L397.9 463.8 L399.3 464.4 L400.7 464.9 L402.2 465.4 L403.6 465.8 L405.0 466.3 L406.5 466.8 L407.9 467.2 L409.4 467.7 L410.8 468.1 L412.2 468.6 L413.7 469.1 L415.1 469.5 L416.6 469.9 L418.0 470.3 L419.5 470.7 L421.0 471.1 L422.4 471.4 L423.9 471.7 L425.4 472.0 L426.9 472.3 L428.4 472.6 L429.9 472.8 L431.4 473.1 L432.8 473.4 L434.3 473.7 L435.8 474.0 L437.3 474.4 L438.8 474.6 L440.2 474.9 L441.7 475.2 L443.2 475.5 L444.7 475.7 L446.2 475.9 L447.7 476.1 L449.2 476.3 L450.7 476.6 L452.2 476.8 L453.7 477.0 L455.2 477.1 L456.7 477.3 L458.2 477.5 L459.7 477.7 L461.2 477.8 L462.7 478.0 L464.2 478.2 L465.7 478.4 L467.2 478.5 L468.7 478.7 L470.2 478.9 L471.7 479.1 L473.2 479.3" fill="none" stroke="#111111" stroke-width="1.20" stroke-linejoin="round"/>
<path d="M305.2 513.4 L305.2 512.2 L305.2 511.0 L305.2 509.8 M305.2 506.4 L305.2 505.2 L305.3 504.0 L305.3 502.8 M305.3 499.4 L305.3 498.2 L305.4 497.0 L305.4 496.0 M305.6 492.4 L305.8 491.2 L306.1 490.1 L306.5 489.0 M307.8 485.8 L308.3 484.6 L308.6 483.5 L308.9 482.5 M310.0 479.1 L310.3 477.9 L310.6 476.8 L310.9 475.8 M312.0 472.4 L312.4 471.2 L312.8 470.1 L313.2 469.2 M314.4 465.8 L314.7 464.6 L315.1 463.5 L315.4 462.5 M316.6 459.1 L316.8 457.9 L317.0 456.8 L317.1 455.8 M317.5 452.2 L317.6 451.0 L317.7 449.8 L317.8 448.8 M318.1 445.2 L318.2 444.0 L318.3 442.8 L318.4 441.8 M318.9 438.2 L319.0 437.0 L319.1 435.8 L319.2 434.8 M319.6 431.3 L319.8 430.1 L319.9 428.9 L320.0 427.9 M320.4 424.3 L320.5 423.1 L320.6 421.9 L320.7 420.9 M321.0 417.3 L321.1 416.1 L321.2 414.9 L321.3 413.9 M321.7 410.3 L321.8 409.1 L321.9 407.9 L322.0 406.9 M322.4 403.3 L322.6 402.2 L322.8 400.9 L323.0 400.1 M324.6 397.1 L325.8 396.8 L326.9 397.4 L327.6 398.0 M329.8 400.9 L330.3 402.0 L330.9 403.1 L331.3 404.0 M332.9 407.2 L333.4 408.3 L333.9 409.4 L334.4 410.3 M335.9 413.6 L336.4 414.7 L336.9 415.8 L337.3 416.7 M338.7 420.0 L339.2 421.1 L339.7 422.2 L340.1 423.1 M341.6 426.3 L342.1 427.4 L342.7 428.5 L343.1 429.4 M344.7 432.6 L345.3 433.7 L345.9 434.7 L346.4 435.6 M348.3 438.7 L349.0 439.6 L349.7 440.6 L350.4 441.3 M353.1 443.7 L354.1 444.4 L355.1 445.1 L355.9 445.7 M358.9 447.7 L359.9 448.3 L360.9 449.0 L361.7 449.5 M364.5 451.5 L365.5 452.2 L366.5 452.9 L367.5 453.6 M370.3 455.5 L371.3 456.2 L372.3 456.8 L373.3 457.5 M376.3 459.1 L377.3 459.7 L378.4 460.2 L379.5 460.8 M382.6 462.2 L383.7 462.6 L384.8 463.1 L385.8 463.4 M389.1 464.6 L390.3 465.0 L391.4 465.3 L392.4 465.6 M395.9 466.6 L397.0 466.9 L398.2 467.2 L399.2 467.5 M402.7 468.3 L403.8 468.6 L405.0 468.9 L406.0 469.1 M409.5 469.9 L410.7 470.2 L411.8 470.4 L412.8 470.7 M416.3 471.5 L417.5 471.7 L418.7 472.0 L419.7 472.2 M423.2 472.9 L424.4 473.1 L425.6 473.3 L426.5 473.4 M430.1 474.0 L431.3 474.2 L432.5 474.4 L433.5 474.5 M437.0 475.1 L438.2 475.2 L439.4 475.4 L440.4 475.5 M444.0 476.0 L445.2 476.2 L446.4 476.3 L447.4 476.5 M450.9 476.9 L452.1 477.1 L453.3 477.2 L454.3 477.3 M457.9 477.7 L459.1 477.9 L460.3 478.0 L461.3 478.1 M464.8 478.6 L466.0 478.7 L467.2 478.8 L468.2 478.9 M471.8 479.3 L473.0 479.5 L473.2 479.5" fill="none" stroke="#111111" stroke-width="1.20" stroke-linejoin="round"/>
<rect x="372.8" y="375.4" width="121.7" height="60.2" fill="#fff"/>
<line x1="373.6" y1="378.6" x2="401.5" y2="378.6" stroke="#1f1fff" stroke-width="1.2"/>
<text x="407.3" y="380.9" class="lg" transform="rotate(0.03 407.3 380.9)">C, C-terminated, T=700 K</text>
<line x1="373.6" y1="386.2" x2="398.5" y2="386.2" stroke="#1f1fff" stroke-width="1.2" stroke-dasharray="3.5 3.7"/>
<text x="407.3" y="388.5" class="lg" transform="rotate(0.03 407.3 388.5)">C, Si-terminated, T=700 K</text>
<line x1="373.6" y1="393.7" x2="401.5" y2="393.7" stroke="#00b050" stroke-width="1.2"/>
<text x="407.3" y="396.0" class="lg" transform="rotate(0.03 407.3 396.0)">C, C-terminated, T=800 K</text>
<line x1="373.6" y1="401.2" x2="398.5" y2="401.2" stroke="#00b050" stroke-width="1.2" stroke-dasharray="3.5 3.7"/>
<text x="407.3" y="403.6" class="lg" transform="rotate(0.03 407.3 403.6)">C, Si-terminated, T=800 K</text>
<line x1="373.6" y1="408.8" x2="401.5" y2="408.8" stroke="#ff1a1a" stroke-width="1.2"/>
<text x="407.3" y="411.1" class="lg" transform="rotate(0.03 407.3 411.1)">C, C-terminated, T=900 K</text>
<line x1="373.6" y1="416.4" x2="398.5" y2="416.4" stroke="#ff1a1a" stroke-width="1.2" stroke-dasharray="3.5 3.7"/>
<text x="407.3" y="418.7" class="lg" transform="rotate(0.03 407.3 418.7)">C, Si-terminated, T=900 K</text>
<line x1="373.6" y1="423.9" x2="401.5" y2="423.9" stroke="#111111" stroke-width="1.2"/>
<text x="407.3" y="426.2" class="lg" transform="rotate(0.03 407.3 426.2)">C, C-terminated, T=1000 K</text>
<line x1="373.6" y1="431.5" x2="398.5" y2="431.5" stroke="#111111" stroke-width="1.2" stroke-dasharray="3.5 3.7"/>
<text x="407.3" y="433.8" class="lg" transform="rotate(0.03 407.3 433.8)">C, Si-terminated, T=1000 K</text>
<text x="127.3" y="546" class="cap" transform="rotate(0.03 127 546)">(<tspan font-weight="bold">a</tspan>)</text>
<text x="382.0" y="546" class="cap" transform="rotate(0.03 382 546)">(<tspan font-weight="bold">b</tspan>)</text>
</g>
</svg>
</body></html>
